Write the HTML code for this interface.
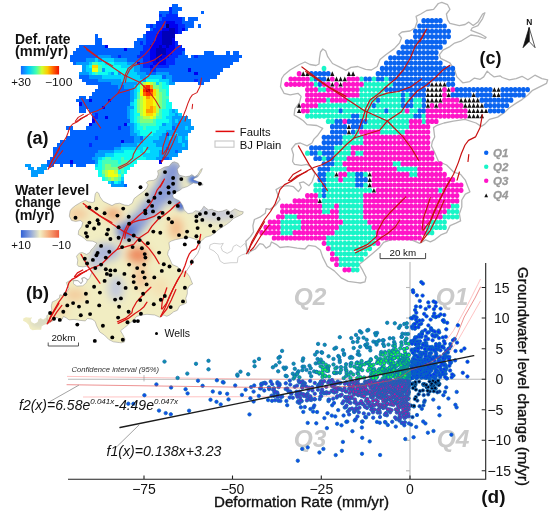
<!DOCTYPE html>
<html><head><meta charset="utf-8"><title>Figure</title>
<style>
html,body{margin:0;padding:0;background:#fff}
svg{display:block}
text{font-family:"Liberation Sans",sans-serif;fill:#111}
.b{font-weight:bold}
.i{font-style:italic}
.sb{stroke:#111;stroke-width:0.35px}
</style></head><body>
<svg width="550" height="515" viewBox="0 0 550 515">
<rect width="550" height="515" fill="#fff"/>
<defs>
<linearGradient id="gjet" x1="0" x2="1" y1="0" y2="0">
<stop offset="0" stop-color="#1464ff"/><stop offset="0.2" stop-color="#00c8ff"/><stop offset="0.4" stop-color="#40ffb0"/><stop offset="0.55" stop-color="#d0ff30"/><stop offset="0.7" stop-color="#ffc800"/><stop offset="0.85" stop-color="#ff6000"/><stop offset="1" stop-color="#f01000"/>
</linearGradient>
<linearGradient id="gcw" x1="0" x2="1" y1="0" y2="0">
<stop offset="0" stop-color="#2f5fd6"/><stop offset="0.25" stop-color="#8fa6dc"/><stop offset="0.5" stop-color="#f3efc4"/><stop offset="0.75" stop-color="#f6a878"/><stop offset="1" stop-color="#ee5a3c"/>
</linearGradient>
</defs>
<g shape-rendering="crispEdges">
<rect x="172" y="4" width="6" height="3" fill="#0063ff"/>
<rect x="169" y="7" width="3" height="4" fill="#002aff"/>
<rect x="172" y="7" width="10" height="4" fill="#0063ff"/>
<rect x="159" y="11" width="10" height="3" fill="#0063ff"/>
<rect x="169" y="11" width="3" height="3" fill="#002aff"/>
<rect x="172" y="11" width="6" height="3" fill="#0063ff"/>
<rect x="201" y="11" width="3" height="3" fill="#0063ff"/>
<rect x="159" y="14" width="3" height="3" fill="#002aff"/>
<rect x="162" y="14" width="4" height="3" fill="#0063ff"/>
<rect x="166" y="14" width="12" height="3" fill="#002aff"/>
<rect x="159" y="17" width="3" height="4" fill="#0063ff"/>
<rect x="162" y="17" width="20" height="4" fill="#002aff"/>
<rect x="182" y="17" width="3" height="4" fill="#0063ff"/>
<rect x="188" y="17" width="10" height="4" fill="#0063ff"/>
<rect x="156" y="21" width="10" height="3" fill="#002aff"/>
<rect x="166" y="21" width="9" height="3" fill="#0000f0"/>
<rect x="175" y="21" width="7" height="3" fill="#002aff"/>
<rect x="182" y="21" width="12" height="3" fill="#0063ff"/>
<rect x="146" y="24" width="4" height="4" fill="#0063ff"/>
<rect x="150" y="24" width="3" height="4" fill="#002aff"/>
<rect x="153" y="24" width="3" height="4" fill="#0063ff"/>
<rect x="156" y="24" width="10" height="4" fill="#002aff"/>
<rect x="166" y="24" width="3" height="4" fill="#00007f"/>
<rect x="169" y="24" width="9" height="4" fill="#0000f0"/>
<rect x="178" y="24" width="7" height="4" fill="#002aff"/>
<rect x="185" y="24" width="9" height="4" fill="#0063ff"/>
<rect x="198" y="24" width="3" height="4" fill="#0063ff"/>
<rect x="150" y="28" width="3" height="3" fill="#0063ff"/>
<rect x="153" y="28" width="9" height="3" fill="#002aff"/>
<rect x="162" y="28" width="7" height="3" fill="#0000f0"/>
<rect x="169" y="28" width="6" height="3" fill="#0000b8"/>
<rect x="175" y="28" width="3" height="3" fill="#0000f0"/>
<rect x="178" y="28" width="4" height="3" fill="#002aff"/>
<rect x="182" y="28" width="3" height="3" fill="#0000f0"/>
<rect x="185" y="28" width="3" height="3" fill="#0063ff"/>
<rect x="146" y="31" width="13" height="3" fill="#002aff"/>
<rect x="159" y="31" width="3" height="3" fill="#0000f0"/>
<rect x="162" y="31" width="13" height="3" fill="#0000b8"/>
<rect x="175" y="31" width="3" height="3" fill="#0000f0"/>
<rect x="178" y="31" width="4" height="3" fill="#002aff"/>
<rect x="95" y="34" width="3" height="4" fill="#0063ff"/>
<rect x="143" y="34" width="3" height="4" fill="#0063ff"/>
<rect x="146" y="34" width="10" height="4" fill="#002aff"/>
<rect x="156" y="34" width="6" height="4" fill="#0000f0"/>
<rect x="162" y="34" width="13" height="4" fill="#0000b8"/>
<rect x="95" y="38" width="7" height="3" fill="#0063ff"/>
<rect x="137" y="38" width="9" height="3" fill="#0063ff"/>
<rect x="146" y="38" width="10" height="3" fill="#002aff"/>
<rect x="156" y="38" width="6" height="3" fill="#0000f0"/>
<rect x="162" y="38" width="10" height="3" fill="#0000b8"/>
<rect x="172" y="38" width="3" height="3" fill="#0000f0"/>
<rect x="95" y="41" width="7" height="4" fill="#0063ff"/>
<rect x="134" y="41" width="6" height="4" fill="#0063ff"/>
<rect x="140" y="41" width="3" height="4" fill="#002aff"/>
<rect x="143" y="41" width="3" height="4" fill="#0063ff"/>
<rect x="146" y="41" width="7" height="4" fill="#002aff"/>
<rect x="153" y="41" width="9" height="4" fill="#0000f0"/>
<rect x="162" y="41" width="10" height="4" fill="#0000b8"/>
<rect x="172" y="41" width="3" height="4" fill="#0000f0"/>
<rect x="175" y="41" width="3" height="4" fill="#002aff"/>
<rect x="79" y="45" width="26" height="3" fill="#0063ff"/>
<rect x="105" y="45" width="3" height="3" fill="#0000f0"/>
<rect x="134" y="45" width="9" height="3" fill="#0063ff"/>
<rect x="143" y="45" width="7" height="3" fill="#002aff"/>
<rect x="150" y="45" width="9" height="3" fill="#0000f0"/>
<rect x="159" y="45" width="3" height="3" fill="#0000b8"/>
<rect x="162" y="45" width="4" height="3" fill="#0000f0"/>
<rect x="166" y="45" width="3" height="3" fill="#0000b8"/>
<rect x="169" y="45" width="6" height="3" fill="#0000f0"/>
<rect x="175" y="45" width="7" height="3" fill="#002aff"/>
<rect x="76" y="48" width="48" height="3" fill="#0063ff"/>
<rect x="124" y="48" width="3" height="3" fill="#0000f0"/>
<rect x="127" y="48" width="16" height="3" fill="#0063ff"/>
<rect x="143" y="48" width="7" height="3" fill="#002aff"/>
<rect x="150" y="48" width="6" height="3" fill="#0000f0"/>
<rect x="156" y="48" width="10" height="3" fill="#0000b8"/>
<rect x="166" y="48" width="9" height="3" fill="#0000f0"/>
<rect x="175" y="48" width="10" height="3" fill="#002aff"/>
<rect x="73" y="51" width="67" height="4" fill="#0063ff"/>
<rect x="140" y="51" width="10" height="4" fill="#002aff"/>
<rect x="150" y="51" width="6" height="4" fill="#0000f0"/>
<rect x="156" y="51" width="10" height="4" fill="#0000b8"/>
<rect x="166" y="51" width="6" height="4" fill="#0000f0"/>
<rect x="172" y="51" width="10" height="4" fill="#002aff"/>
<rect x="182" y="51" width="3" height="4" fill="#0063ff"/>
<rect x="204" y="51" width="10" height="4" fill="#0063ff"/>
<rect x="226" y="51" width="4" height="4" fill="#0063ff"/>
<rect x="233" y="51" width="6" height="4" fill="#0063ff"/>
<rect x="70" y="55" width="28" height="3" fill="#0063ff"/>
<rect x="98" y="55" width="13" height="3" fill="#009bff"/>
<rect x="111" y="55" width="7" height="3" fill="#0063ff"/>
<rect x="118" y="55" width="3" height="3" fill="#002aff"/>
<rect x="121" y="55" width="16" height="3" fill="#0063ff"/>
<rect x="137" y="55" width="13" height="3" fill="#002aff"/>
<rect x="150" y="55" width="6" height="3" fill="#0000f0"/>
<rect x="156" y="55" width="6" height="3" fill="#0000b8"/>
<rect x="162" y="55" width="7" height="3" fill="#0000f0"/>
<rect x="169" y="55" width="9" height="3" fill="#002aff"/>
<rect x="178" y="55" width="10" height="3" fill="#0063ff"/>
<rect x="191" y="55" width="3" height="3" fill="#0063ff"/>
<rect x="194" y="55" width="4" height="3" fill="#002aff"/>
<rect x="198" y="55" width="44" height="3" fill="#0063ff"/>
<rect x="70" y="58" width="16" height="4" fill="#0063ff"/>
<rect x="86" y="58" width="9" height="4" fill="#009bff"/>
<rect x="95" y="58" width="3" height="4" fill="#00d4ff"/>
<rect x="98" y="58" width="4" height="4" fill="#009bff"/>
<rect x="102" y="58" width="12" height="4" fill="#00d4ff"/>
<rect x="114" y="58" width="13" height="4" fill="#009bff"/>
<rect x="127" y="58" width="16" height="4" fill="#0063ff"/>
<rect x="143" y="58" width="7" height="4" fill="#002aff"/>
<rect x="150" y="58" width="6" height="4" fill="#0000f0"/>
<rect x="156" y="58" width="3" height="4" fill="#0000b8"/>
<rect x="159" y="58" width="7" height="4" fill="#0000f0"/>
<rect x="166" y="58" width="9" height="4" fill="#002aff"/>
<rect x="175" y="58" width="64" height="4" fill="#0063ff"/>
<rect x="73" y="62" width="3" height="3" fill="#0063ff"/>
<rect x="76" y="62" width="13" height="3" fill="#009bff"/>
<rect x="89" y="62" width="3" height="3" fill="#00d4ff"/>
<rect x="92" y="62" width="6" height="3" fill="#46ffb8"/>
<rect x="98" y="62" width="7" height="3" fill="#0efff0"/>
<rect x="105" y="62" width="3" height="3" fill="#00d4ff"/>
<rect x="108" y="62" width="6" height="3" fill="#0efff0"/>
<rect x="114" y="62" width="13" height="3" fill="#00d4ff"/>
<rect x="127" y="62" width="10" height="3" fill="#009bff"/>
<rect x="137" y="62" width="3" height="3" fill="#0000f0"/>
<rect x="140" y="62" width="3" height="3" fill="#0063ff"/>
<rect x="143" y="62" width="10" height="3" fill="#002aff"/>
<rect x="153" y="62" width="13" height="3" fill="#0000f0"/>
<rect x="166" y="62" width="9" height="3" fill="#002aff"/>
<rect x="175" y="62" width="58" height="3" fill="#0063ff"/>
<rect x="82" y="65" width="4" height="3" fill="#009bff"/>
<rect x="86" y="65" width="3" height="3" fill="#00d4ff"/>
<rect x="89" y="65" width="3" height="3" fill="#0efff0"/>
<rect x="92" y="65" width="6" height="3" fill="#ffd400"/>
<rect x="98" y="65" width="4" height="3" fill="#46ffb8"/>
<rect x="102" y="65" width="19" height="3" fill="#0efff0"/>
<rect x="121" y="65" width="13" height="3" fill="#00d4ff"/>
<rect x="134" y="65" width="6" height="3" fill="#009bff"/>
<rect x="140" y="65" width="3" height="3" fill="#0063ff"/>
<rect x="143" y="65" width="7" height="3" fill="#002aff"/>
<rect x="150" y="65" width="3" height="3" fill="#0000f0"/>
<rect x="153" y="65" width="16" height="3" fill="#002aff"/>
<rect x="169" y="65" width="61" height="3" fill="#0063ff"/>
<rect x="82" y="68" width="4" height="4" fill="#009bff"/>
<rect x="86" y="68" width="6" height="4" fill="#00d4ff"/>
<rect x="92" y="68" width="6" height="4" fill="#f0ff0e"/>
<rect x="98" y="68" width="4" height="4" fill="#46ffb8"/>
<rect x="102" y="68" width="3" height="4" fill="#009bff"/>
<rect x="105" y="68" width="22" height="4" fill="#0efff0"/>
<rect x="127" y="68" width="7" height="4" fill="#00d4ff"/>
<rect x="134" y="68" width="6" height="4" fill="#009bff"/>
<rect x="140" y="68" width="10" height="4" fill="#0063ff"/>
<rect x="150" y="68" width="6" height="4" fill="#002aff"/>
<rect x="156" y="68" width="32" height="4" fill="#0063ff"/>
<rect x="188" y="68" width="3" height="4" fill="#0000f0"/>
<rect x="191" y="68" width="32" height="4" fill="#0063ff"/>
<rect x="79" y="72" width="10" height="3" fill="#009bff"/>
<rect x="89" y="72" width="3" height="3" fill="#00d4ff"/>
<rect x="92" y="72" width="3" height="3" fill="#0efff0"/>
<rect x="95" y="72" width="3" height="3" fill="#46ffb8"/>
<rect x="98" y="72" width="10" height="3" fill="#0efff0"/>
<rect x="108" y="72" width="3" height="3" fill="#00d4ff"/>
<rect x="111" y="72" width="3" height="3" fill="#009bff"/>
<rect x="114" y="72" width="4" height="3" fill="#0efff0"/>
<rect x="118" y="72" width="3" height="3" fill="#009bff"/>
<rect x="121" y="72" width="6" height="3" fill="#0efff0"/>
<rect x="127" y="72" width="10" height="3" fill="#00d4ff"/>
<rect x="137" y="72" width="9" height="3" fill="#009bff"/>
<rect x="146" y="72" width="10" height="3" fill="#0063ff"/>
<rect x="156" y="72" width="13" height="3" fill="#009bff"/>
<rect x="169" y="72" width="25" height="3" fill="#0063ff"/>
<rect x="194" y="72" width="4" height="3" fill="#0000f0"/>
<rect x="198" y="72" width="22" height="3" fill="#0063ff"/>
<rect x="79" y="75" width="10" height="4" fill="#0063ff"/>
<rect x="89" y="75" width="13" height="4" fill="#009bff"/>
<rect x="102" y="75" width="38" height="4" fill="#00d4ff"/>
<rect x="140" y="75" width="6" height="4" fill="#009bff"/>
<rect x="146" y="75" width="16" height="4" fill="#00d4ff"/>
<rect x="162" y="75" width="4" height="4" fill="#0063ff"/>
<rect x="166" y="75" width="6" height="4" fill="#009bff"/>
<rect x="172" y="75" width="45" height="4" fill="#0063ff"/>
<rect x="82" y="79" width="16" height="3" fill="#0063ff"/>
<rect x="98" y="79" width="23" height="3" fill="#009bff"/>
<rect x="121" y="79" width="22" height="3" fill="#00d4ff"/>
<rect x="143" y="79" width="3" height="3" fill="#009bff"/>
<rect x="146" y="79" width="13" height="3" fill="#0efff0"/>
<rect x="159" y="79" width="10" height="3" fill="#00d4ff"/>
<rect x="169" y="79" width="3" height="3" fill="#009bff"/>
<rect x="172" y="79" width="22" height="3" fill="#0063ff"/>
<rect x="194" y="79" width="4" height="3" fill="#002aff"/>
<rect x="198" y="79" width="12" height="3" fill="#0063ff"/>
<rect x="86" y="82" width="25" height="3" fill="#0063ff"/>
<rect x="111" y="82" width="26" height="3" fill="#009bff"/>
<rect x="137" y="82" width="3" height="3" fill="#00d4ff"/>
<rect x="140" y="82" width="3" height="3" fill="#46ffb8"/>
<rect x="143" y="82" width="3" height="3" fill="#b8ff46"/>
<rect x="146" y="82" width="4" height="3" fill="#f0ff0e"/>
<rect x="150" y="82" width="3" height="3" fill="#b8ff46"/>
<rect x="153" y="82" width="3" height="3" fill="#7fff7f"/>
<rect x="156" y="82" width="3" height="3" fill="#00d4ff"/>
<rect x="159" y="82" width="3" height="3" fill="#46ffb8"/>
<rect x="162" y="82" width="4" height="3" fill="#0efff0"/>
<rect x="166" y="82" width="3" height="3" fill="#00d4ff"/>
<rect x="169" y="82" width="6" height="3" fill="#009bff"/>
<rect x="198" y="82" width="6" height="3" fill="#0063ff"/>
<rect x="98" y="85" width="20" height="4" fill="#0063ff"/>
<rect x="118" y="85" width="3" height="4" fill="#009bff"/>
<rect x="121" y="85" width="3" height="4" fill="#0063ff"/>
<rect x="124" y="85" width="10" height="4" fill="#009bff"/>
<rect x="134" y="85" width="3" height="4" fill="#00d4ff"/>
<rect x="137" y="85" width="3" height="4" fill="#0efff0"/>
<rect x="140" y="85" width="3" height="4" fill="#b8ff46"/>
<rect x="143" y="85" width="3" height="4" fill="#ff6300"/>
<rect x="146" y="85" width="4" height="4" fill="#ff2a00"/>
<rect x="150" y="85" width="3" height="4" fill="#ff9b00"/>
<rect x="153" y="85" width="6" height="4" fill="#7fff7f"/>
<rect x="159" y="85" width="3" height="4" fill="#46ffb8"/>
<rect x="162" y="85" width="7" height="4" fill="#0efff0"/>
<rect x="95" y="89" width="35" height="3" fill="#0063ff"/>
<rect x="130" y="89" width="4" height="3" fill="#009bff"/>
<rect x="134" y="89" width="3" height="3" fill="#00d4ff"/>
<rect x="137" y="89" width="3" height="3" fill="#0efff0"/>
<rect x="140" y="89" width="3" height="3" fill="#f0ff0e"/>
<rect x="143" y="89" width="3" height="3" fill="#ff2a00"/>
<rect x="146" y="89" width="4" height="3" fill="#b80000"/>
<rect x="150" y="89" width="3" height="3" fill="#ff2a00"/>
<rect x="153" y="89" width="3" height="3" fill="#ffd400"/>
<rect x="156" y="89" width="3" height="3" fill="#b8ff46"/>
<rect x="159" y="89" width="7" height="3" fill="#46ffb8"/>
<rect x="166" y="89" width="3" height="3" fill="#0efff0"/>
<rect x="92" y="92" width="38" height="4" fill="#0063ff"/>
<rect x="130" y="92" width="4" height="4" fill="#009bff"/>
<rect x="134" y="92" width="3" height="4" fill="#00d4ff"/>
<rect x="137" y="92" width="3" height="4" fill="#46ffb8"/>
<rect x="140" y="92" width="3" height="4" fill="#f0ff0e"/>
<rect x="143" y="92" width="3" height="4" fill="#ff6300"/>
<rect x="146" y="92" width="4" height="4" fill="#ff2a00"/>
<rect x="150" y="92" width="3" height="4" fill="#ff6300"/>
<rect x="153" y="92" width="3" height="4" fill="#ffd400"/>
<rect x="156" y="92" width="3" height="4" fill="#b8ff46"/>
<rect x="159" y="92" width="3" height="4" fill="#7fff7f"/>
<rect x="162" y="92" width="4" height="4" fill="#46ffb8"/>
<rect x="166" y="92" width="3" height="4" fill="#0efff0"/>
<rect x="79" y="96" width="7" height="3" fill="#0063ff"/>
<rect x="89" y="96" width="41" height="3" fill="#0063ff"/>
<rect x="130" y="96" width="4" height="3" fill="#009bff"/>
<rect x="134" y="96" width="3" height="3" fill="#00d4ff"/>
<rect x="137" y="96" width="3" height="3" fill="#46ffb8"/>
<rect x="140" y="96" width="3" height="3" fill="#b8ff46"/>
<rect x="143" y="96" width="3" height="3" fill="#f0ff0e"/>
<rect x="146" y="96" width="4" height="3" fill="#ff9b00"/>
<rect x="150" y="96" width="3" height="3" fill="#ffd400"/>
<rect x="153" y="96" width="3" height="3" fill="#f0ff0e"/>
<rect x="156" y="96" width="3" height="3" fill="#b8ff46"/>
<rect x="159" y="96" width="3" height="3" fill="#7fff7f"/>
<rect x="162" y="96" width="7" height="3" fill="#46ffb8"/>
<rect x="76" y="99" width="13" height="3" fill="#0063ff"/>
<rect x="89" y="99" width="3" height="3" fill="#0000f0"/>
<rect x="92" y="99" width="16" height="3" fill="#0063ff"/>
<rect x="108" y="99" width="3" height="3" fill="#0000f0"/>
<rect x="111" y="99" width="19" height="3" fill="#0063ff"/>
<rect x="130" y="99" width="4" height="3" fill="#009bff"/>
<rect x="134" y="99" width="3" height="3" fill="#0efff0"/>
<rect x="137" y="99" width="3" height="3" fill="#7fff7f"/>
<rect x="140" y="99" width="3" height="3" fill="#b8ff46"/>
<rect x="143" y="99" width="3" height="3" fill="#f0ff0e"/>
<rect x="146" y="99" width="7" height="3" fill="#ffd400"/>
<rect x="153" y="99" width="3" height="3" fill="#f0ff0e"/>
<rect x="156" y="99" width="3" height="3" fill="#b8ff46"/>
<rect x="159" y="99" width="3" height="3" fill="#7fff7f"/>
<rect x="162" y="99" width="4" height="3" fill="#46ffb8"/>
<rect x="166" y="99" width="3" height="3" fill="#0efff0"/>
<rect x="79" y="102" width="3" height="4" fill="#0000f0"/>
<rect x="82" y="102" width="48" height="4" fill="#0063ff"/>
<rect x="130" y="102" width="4" height="4" fill="#00d4ff"/>
<rect x="134" y="102" width="3" height="4" fill="#0efff0"/>
<rect x="137" y="102" width="3" height="4" fill="#7fff7f"/>
<rect x="140" y="102" width="3" height="4" fill="#b8ff46"/>
<rect x="143" y="102" width="3" height="4" fill="#f0ff0e"/>
<rect x="146" y="102" width="7" height="4" fill="#ffd400"/>
<rect x="153" y="102" width="3" height="4" fill="#f0ff0e"/>
<rect x="156" y="102" width="3" height="4" fill="#b8ff46"/>
<rect x="159" y="102" width="3" height="4" fill="#7fff7f"/>
<rect x="162" y="102" width="4" height="4" fill="#46ffb8"/>
<rect x="166" y="102" width="6" height="4" fill="#0efff0"/>
<rect x="79" y="106" width="23" height="3" fill="#0063ff"/>
<rect x="102" y="106" width="3" height="3" fill="#0000f0"/>
<rect x="105" y="106" width="22" height="3" fill="#0063ff"/>
<rect x="127" y="106" width="7" height="3" fill="#009bff"/>
<rect x="134" y="106" width="3" height="3" fill="#0efff0"/>
<rect x="137" y="106" width="3" height="3" fill="#7fff7f"/>
<rect x="140" y="106" width="3" height="3" fill="#b8ff46"/>
<rect x="143" y="106" width="3" height="3" fill="#f0ff0e"/>
<rect x="146" y="106" width="4" height="3" fill="#ffd400"/>
<rect x="150" y="106" width="3" height="3" fill="#ff9b00"/>
<rect x="153" y="106" width="3" height="3" fill="#ffd400"/>
<rect x="156" y="106" width="3" height="3" fill="#b8ff46"/>
<rect x="159" y="106" width="3" height="3" fill="#7fff7f"/>
<rect x="162" y="106" width="4" height="3" fill="#46ffb8"/>
<rect x="166" y="106" width="6" height="3" fill="#0efff0"/>
<rect x="79" y="109" width="7" height="4" fill="#0063ff"/>
<rect x="89" y="109" width="38" height="4" fill="#0063ff"/>
<rect x="127" y="109" width="3" height="4" fill="#009bff"/>
<rect x="130" y="109" width="4" height="4" fill="#00d4ff"/>
<rect x="134" y="109" width="3" height="4" fill="#0efff0"/>
<rect x="137" y="109" width="3" height="4" fill="#7fff7f"/>
<rect x="140" y="109" width="3" height="4" fill="#b8ff46"/>
<rect x="143" y="109" width="3" height="4" fill="#f0ff0e"/>
<rect x="146" y="109" width="7" height="4" fill="#ff9b00"/>
<rect x="153" y="109" width="3" height="4" fill="#ffd400"/>
<rect x="156" y="109" width="3" height="4" fill="#b8ff46"/>
<rect x="159" y="109" width="3" height="4" fill="#46ffb8"/>
<rect x="162" y="109" width="7" height="4" fill="#0efff0"/>
<rect x="169" y="109" width="3" height="4" fill="#00d4ff"/>
<rect x="172" y="109" width="3" height="4" fill="#009bff"/>
<rect x="175" y="109" width="3" height="4" fill="#00d4ff"/>
<rect x="92" y="113" width="3" height="3" fill="#0063ff"/>
<rect x="95" y="113" width="3" height="3" fill="#002aff"/>
<rect x="98" y="113" width="29" height="3" fill="#0063ff"/>
<rect x="127" y="113" width="3" height="3" fill="#009bff"/>
<rect x="130" y="113" width="4" height="3" fill="#00d4ff"/>
<rect x="134" y="113" width="6" height="3" fill="#0efff0"/>
<rect x="140" y="113" width="3" height="3" fill="#b8ff46"/>
<rect x="143" y="113" width="3" height="3" fill="#f0ff0e"/>
<rect x="146" y="113" width="7" height="3" fill="#ffd400"/>
<rect x="153" y="113" width="3" height="3" fill="#f0ff0e"/>
<rect x="156" y="113" width="3" height="3" fill="#7fff7f"/>
<rect x="159" y="113" width="3" height="3" fill="#46ffb8"/>
<rect x="162" y="113" width="7" height="3" fill="#0efff0"/>
<rect x="169" y="113" width="6" height="3" fill="#00d4ff"/>
<rect x="175" y="113" width="3" height="3" fill="#009bff"/>
<rect x="178" y="113" width="4" height="3" fill="#00d4ff"/>
<rect x="92" y="116" width="6" height="3" fill="#002aff"/>
<rect x="98" y="116" width="7" height="3" fill="#0063ff"/>
<rect x="105" y="116" width="3" height="3" fill="#0000f0"/>
<rect x="108" y="116" width="19" height="3" fill="#0063ff"/>
<rect x="127" y="116" width="3" height="3" fill="#009bff"/>
<rect x="130" y="116" width="4" height="3" fill="#00d4ff"/>
<rect x="134" y="116" width="3" height="3" fill="#0efff0"/>
<rect x="137" y="116" width="3" height="3" fill="#46ffb8"/>
<rect x="140" y="116" width="3" height="3" fill="#7fff7f"/>
<rect x="143" y="116" width="7" height="3" fill="#b8ff46"/>
<rect x="150" y="116" width="3" height="3" fill="#f0ff0e"/>
<rect x="153" y="116" width="3" height="3" fill="#b8ff46"/>
<rect x="156" y="116" width="6" height="3" fill="#46ffb8"/>
<rect x="162" y="116" width="4" height="3" fill="#0efff0"/>
<rect x="166" y="116" width="6" height="3" fill="#00d4ff"/>
<rect x="172" y="116" width="16" height="3" fill="#009bff"/>
<rect x="92" y="119" width="3" height="4" fill="#0000f0"/>
<rect x="95" y="119" width="35" height="4" fill="#0063ff"/>
<rect x="130" y="119" width="4" height="4" fill="#00d4ff"/>
<rect x="134" y="119" width="3" height="4" fill="#0efff0"/>
<rect x="137" y="119" width="3" height="4" fill="#46ffb8"/>
<rect x="140" y="119" width="13" height="4" fill="#7fff7f"/>
<rect x="153" y="119" width="3" height="4" fill="#46ffb8"/>
<rect x="156" y="119" width="13" height="4" fill="#0efff0"/>
<rect x="169" y="119" width="3" height="4" fill="#00d4ff"/>
<rect x="172" y="119" width="3" height="4" fill="#009bff"/>
<rect x="175" y="119" width="3" height="4" fill="#00d4ff"/>
<rect x="178" y="119" width="13" height="4" fill="#009bff"/>
<rect x="89" y="123" width="3" height="3" fill="#0000f0"/>
<rect x="92" y="123" width="32" height="3" fill="#0063ff"/>
<rect x="124" y="123" width="3" height="3" fill="#0000f0"/>
<rect x="127" y="123" width="7" height="3" fill="#009bff"/>
<rect x="134" y="123" width="3" height="3" fill="#00d4ff"/>
<rect x="137" y="123" width="3" height="3" fill="#0efff0"/>
<rect x="140" y="123" width="16" height="3" fill="#46ffb8"/>
<rect x="156" y="123" width="6" height="3" fill="#0efff0"/>
<rect x="162" y="123" width="4" height="3" fill="#009bff"/>
<rect x="166" y="123" width="6" height="3" fill="#00d4ff"/>
<rect x="172" y="123" width="19" height="3" fill="#009bff"/>
<rect x="66" y="126" width="7" height="4" fill="#0063ff"/>
<rect x="86" y="126" width="32" height="4" fill="#0063ff"/>
<rect x="118" y="126" width="3" height="4" fill="#002aff"/>
<rect x="121" y="126" width="9" height="4" fill="#0063ff"/>
<rect x="130" y="126" width="4" height="4" fill="#009bff"/>
<rect x="134" y="126" width="3" height="4" fill="#00d4ff"/>
<rect x="137" y="126" width="6" height="4" fill="#0efff0"/>
<rect x="143" y="126" width="3" height="4" fill="#46ffb8"/>
<rect x="146" y="126" width="13" height="4" fill="#0efff0"/>
<rect x="159" y="126" width="13" height="4" fill="#00d4ff"/>
<rect x="172" y="126" width="3" height="4" fill="#0063ff"/>
<rect x="175" y="126" width="10" height="4" fill="#009bff"/>
<rect x="185" y="126" width="3" height="4" fill="#00d4ff"/>
<rect x="188" y="126" width="6" height="4" fill="#009bff"/>
<rect x="70" y="130" width="60" height="3" fill="#0063ff"/>
<rect x="130" y="130" width="4" height="3" fill="#009bff"/>
<rect x="134" y="130" width="6" height="3" fill="#00d4ff"/>
<rect x="140" y="130" width="16" height="3" fill="#0efff0"/>
<rect x="156" y="130" width="10" height="3" fill="#00d4ff"/>
<rect x="166" y="130" width="25" height="3" fill="#009bff"/>
<rect x="70" y="133" width="60" height="3" fill="#0063ff"/>
<rect x="130" y="133" width="7" height="3" fill="#009bff"/>
<rect x="137" y="133" width="3" height="3" fill="#00d4ff"/>
<rect x="140" y="133" width="13" height="3" fill="#0efff0"/>
<rect x="153" y="133" width="9" height="3" fill="#00d4ff"/>
<rect x="162" y="133" width="4" height="3" fill="#009bff"/>
<rect x="166" y="133" width="3" height="3" fill="#002aff"/>
<rect x="169" y="133" width="6" height="3" fill="#009bff"/>
<rect x="175" y="133" width="3" height="3" fill="#00d4ff"/>
<rect x="178" y="133" width="10" height="3" fill="#009bff"/>
<rect x="66" y="136" width="29" height="4" fill="#0063ff"/>
<rect x="95" y="136" width="3" height="4" fill="#002aff"/>
<rect x="98" y="136" width="36" height="4" fill="#0063ff"/>
<rect x="134" y="136" width="6" height="4" fill="#009bff"/>
<rect x="140" y="136" width="3" height="4" fill="#0063ff"/>
<rect x="143" y="136" width="16" height="4" fill="#00d4ff"/>
<rect x="159" y="136" width="10" height="4" fill="#009bff"/>
<rect x="169" y="136" width="3" height="4" fill="#00d4ff"/>
<rect x="172" y="136" width="6" height="4" fill="#009bff"/>
<rect x="178" y="136" width="4" height="4" fill="#00d4ff"/>
<rect x="182" y="136" width="3" height="4" fill="#009bff"/>
<rect x="185" y="136" width="3" height="4" fill="#00d4ff"/>
<rect x="60" y="140" width="61" height="3" fill="#0063ff"/>
<rect x="121" y="140" width="3" height="3" fill="#0000f0"/>
<rect x="124" y="140" width="10" height="3" fill="#0063ff"/>
<rect x="134" y="140" width="9" height="3" fill="#009bff"/>
<rect x="143" y="140" width="10" height="3" fill="#00d4ff"/>
<rect x="153" y="140" width="25" height="3" fill="#009bff"/>
<rect x="178" y="140" width="4" height="3" fill="#00d4ff"/>
<rect x="182" y="140" width="6" height="3" fill="#009bff"/>
<rect x="57" y="143" width="32" height="4" fill="#0063ff"/>
<rect x="89" y="143" width="3" height="4" fill="#002aff"/>
<rect x="92" y="143" width="29" height="4" fill="#0063ff"/>
<rect x="121" y="143" width="16" height="4" fill="#009bff"/>
<rect x="137" y="143" width="19" height="4" fill="#00d4ff"/>
<rect x="156" y="143" width="26" height="4" fill="#009bff"/>
<rect x="182" y="143" width="3" height="4" fill="#00d4ff"/>
<rect x="185" y="143" width="3" height="4" fill="#009bff"/>
<rect x="53" y="147" width="61" height="3" fill="#0063ff"/>
<rect x="114" y="147" width="7" height="3" fill="#009bff"/>
<rect x="121" y="147" width="22" height="3" fill="#00d4ff"/>
<rect x="143" y="147" width="3" height="3" fill="#0efff0"/>
<rect x="146" y="147" width="16" height="3" fill="#00d4ff"/>
<rect x="162" y="147" width="4" height="3" fill="#009bff"/>
<rect x="166" y="147" width="3" height="3" fill="#0063ff"/>
<rect x="169" y="147" width="19" height="3" fill="#009bff"/>
<rect x="53" y="150" width="45" height="3" fill="#0063ff"/>
<rect x="98" y="150" width="16" height="3" fill="#009bff"/>
<rect x="114" y="150" width="10" height="3" fill="#00d4ff"/>
<rect x="124" y="150" width="16" height="3" fill="#0efff0"/>
<rect x="140" y="150" width="3" height="3" fill="#00d4ff"/>
<rect x="143" y="150" width="7" height="3" fill="#0efff0"/>
<rect x="150" y="150" width="9" height="3" fill="#00d4ff"/>
<rect x="159" y="150" width="16" height="3" fill="#009bff"/>
<rect x="175" y="150" width="3" height="3" fill="#0063ff"/>
<rect x="178" y="150" width="4" height="3" fill="#009bff"/>
<rect x="53" y="153" width="42" height="4" fill="#0063ff"/>
<rect x="95" y="153" width="10" height="4" fill="#009bff"/>
<rect x="105" y="153" width="9" height="4" fill="#00d4ff"/>
<rect x="114" y="153" width="29" height="4" fill="#0efff0"/>
<rect x="143" y="153" width="16" height="4" fill="#00d4ff"/>
<rect x="159" y="153" width="19" height="4" fill="#009bff"/>
<rect x="50" y="157" width="42" height="3" fill="#0063ff"/>
<rect x="92" y="157" width="6" height="3" fill="#009bff"/>
<rect x="98" y="157" width="4" height="3" fill="#00d4ff"/>
<rect x="102" y="157" width="3" height="3" fill="#0efff0"/>
<rect x="105" y="157" width="6" height="3" fill="#46ffb8"/>
<rect x="111" y="157" width="10" height="3" fill="#0efff0"/>
<rect x="121" y="157" width="3" height="3" fill="#46ffb8"/>
<rect x="124" y="157" width="22" height="3" fill="#0efff0"/>
<rect x="146" y="157" width="10" height="3" fill="#00d4ff"/>
<rect x="156" y="157" width="6" height="3" fill="#009bff"/>
<rect x="162" y="157" width="7" height="3" fill="#0063ff"/>
<rect x="169" y="157" width="3" height="3" fill="#009bff"/>
<rect x="47" y="160" width="23" height="4" fill="#0063ff"/>
<rect x="70" y="160" width="3" height="4" fill="#0000f0"/>
<rect x="73" y="160" width="22" height="4" fill="#0063ff"/>
<rect x="95" y="160" width="3" height="4" fill="#009bff"/>
<rect x="98" y="160" width="4" height="4" fill="#0efff0"/>
<rect x="102" y="160" width="16" height="4" fill="#46ffb8"/>
<rect x="118" y="160" width="3" height="4" fill="#0efff0"/>
<rect x="121" y="160" width="9" height="4" fill="#46ffb8"/>
<rect x="130" y="160" width="7" height="4" fill="#0efff0"/>
<rect x="159" y="160" width="3" height="4" fill="#0000f0"/>
<rect x="25" y="164" width="6" height="3" fill="#009bff"/>
<rect x="41" y="164" width="6" height="3" fill="#009bff"/>
<rect x="47" y="164" width="7" height="3" fill="#0063ff"/>
<rect x="60" y="164" width="3" height="3" fill="#0063ff"/>
<rect x="70" y="164" width="3" height="3" fill="#0063ff"/>
<rect x="76" y="164" width="10" height="3" fill="#0063ff"/>
<rect x="95" y="164" width="3" height="3" fill="#00d4ff"/>
<rect x="98" y="164" width="4" height="3" fill="#0efff0"/>
<rect x="102" y="164" width="3" height="3" fill="#46ffb8"/>
<rect x="105" y="164" width="6" height="3" fill="#7fff7f"/>
<rect x="111" y="164" width="16" height="3" fill="#46ffb8"/>
<rect x="127" y="164" width="7" height="3" fill="#0efff0"/>
<rect x="28" y="167" width="6" height="3" fill="#009bff"/>
<rect x="37" y="167" width="10" height="3" fill="#009bff"/>
<rect x="95" y="167" width="7" height="3" fill="#0efff0"/>
<rect x="102" y="167" width="3" height="3" fill="#46ffb8"/>
<rect x="105" y="167" width="13" height="3" fill="#7fff7f"/>
<rect x="118" y="167" width="6" height="3" fill="#46ffb8"/>
<rect x="124" y="167" width="6" height="3" fill="#0efff0"/>
<rect x="31" y="170" width="13" height="4" fill="#009bff"/>
<rect x="98" y="170" width="4" height="4" fill="#0efff0"/>
<rect x="102" y="170" width="3" height="4" fill="#7fff7f"/>
<rect x="105" y="170" width="3" height="4" fill="#b8ff46"/>
<rect x="108" y="170" width="6" height="4" fill="#f0ff0e"/>
<rect x="114" y="170" width="4" height="4" fill="#b8ff46"/>
<rect x="118" y="170" width="3" height="4" fill="#0efff0"/>
<rect x="121" y="170" width="3" height="4" fill="#46ffb8"/>
<rect x="124" y="170" width="3" height="4" fill="#0efff0"/>
<rect x="31" y="174" width="7" height="3" fill="#009bff"/>
<rect x="98" y="174" width="4" height="3" fill="#0efff0"/>
<rect x="102" y="174" width="3" height="3" fill="#46ffb8"/>
<rect x="105" y="174" width="3" height="3" fill="#b8ff46"/>
<rect x="108" y="174" width="10" height="3" fill="#f0ff0e"/>
<rect x="118" y="174" width="3" height="3" fill="#7fff7f"/>
<rect x="121" y="174" width="3" height="3" fill="#0efff0"/>
<rect x="102" y="177" width="3" height="4" fill="#0efff0"/>
<rect x="105" y="177" width="3" height="4" fill="#46ffb8"/>
<rect x="108" y="177" width="3" height="4" fill="#7fff7f"/>
<rect x="111" y="177" width="3" height="4" fill="#b8ff46"/>
<rect x="114" y="177" width="4" height="4" fill="#7fff7f"/>
<rect x="118" y="177" width="3" height="4" fill="#46ffb8"/>
<rect x="121" y="177" width="3" height="4" fill="#00d4ff"/>
<rect x="108" y="181" width="3" height="3" fill="#00d4ff"/>
<rect x="111" y="181" width="3" height="3" fill="#009bff"/>
<rect x="114" y="181" width="4" height="3" fill="#0efff0"/>
<rect x="118" y="181" width="3" height="3" fill="#00d4ff"/>
<rect x="121" y="181" width="3" height="3" fill="#009bff"/>
<rect x="111" y="184" width="13" height="3" fill="#009bff"/>
<rect x="124" y="184" width="3" height="3" fill="#0063ff"/>
</g>
<g fill="none" stroke="#d41a1a" stroke-width="1.05" stroke-linejoin="round" stroke-linecap="round">
<polyline points="84,46.5 102.3,60.4 124.4,75.2 139.6,82.2 149.7,92.4 155.5,100.3 160,108"/>
<polyline points="86.5,49.5 99,58.4 112.7,65.9"/>
<polyline points="165.2,21.6 162.2,27 157.6,33.2 154.6,40.9 150,48.6 145.2,54.2 139.4,59.1 134.5,63.7 128.3,68.3 125.5,74.2 123.8,80.2 120.9,88.1 117.9,93.3 113.3,97.3 108.8,101.9 102.7,108 96.6,111.1 92.1,112.6 87.5,114.9 81.4,118.8 76.9,122 72.7,124 69.7,127.3 68.1,132.5 66.5,136.8 63.5,141.8 59.6,147 55.6,154.2 51.5,161.3 49.5,166.5 48,169.5"/>
<polyline points="163.8,24.2 160.9,29.8"/>
<polyline points="83.4,114.4 78.2,117.4 75.3,121.3 76.6,121.7 80.8,118.4 87.3,115.4"/>
<polyline points="62.7,150.6 57.6,157.2 52.5,165.5 50.5,167.5"/>
<polyline points="59.6,148.5 54.6,157.2 50.5,164.4 49,168"/>
<polyline points="161.8,54.6 154.8,59.7 146.7,62.7 139.6,63.8 133.5,65.8 129.5,69.9 126.4,76 125.5,82.2"/>
<polyline points="180.3,45.5 175.8,48.6 171.3,53.2 165.2,58.4 159.1,62.4 152.7,69.6 148.7,76 139.6,82.2 134.5,88.3 124.4,91.4 117.9,93.3"/>
<polyline points="81.7,98.5 88.6,110.7 95,119.7 100.7,128"/>
<polyline points="201.5,78.1 200,86.5 197,92.6 192.4,94.9 190.2,98 187.9,103.4 185.8,109.5 182.7,117.3 178.2,125 173.6,134.2 169.1,144.8 166.1,152.6 161.5,161.8"/>
<polyline points="192.6,104.2 192.1,108.8"/>
<polyline points="186.5,115.7 185,121.1"/>
<polyline points="180.5,121.1 175.2,131.1 170.6,140.3 167.6,148 163,154.1"/>
<polyline points="167.6,132.6 165.2,139.8 163,146.4 162.2,154.1"/>
<polyline points="176.6,134.4 172.1,145.1 167.5,154.3 161.5,162"/>
<polyline points="151.6,132.1 146.3,137.5 141.7,142.1 137.2,147.4 133.4,154.3 132.6,158.2 126.6,163.6 118.2,167.4"/>
<polyline points="147.8,147.4 144.8,152 140.2,155.9 135.7,158.9 129.6,163.6 118.9,169"/>
</g>
<clipPath id="clipB"><polygon points="70.1,210.9 71.6,208.7 75.5,205.5 81.7,201.9 85.3,200.3 88.5,201.9 92.4,202.5 94.4,201.6 94.7,197.7 95.3,193.8 96.8,191.9 98.7,193.2 100,196.9 103.2,201.3 108.2,203.8 112,205.6 115.2,203.8 119.6,203.2 124.7,205.1 128.5,205.5 132.3,203.2 134.1,198.6 137.9,195.6 143.4,191.6 146.8,188 148.1,184.8 146.3,182.6 148.4,180.9 153.6,180.3 156.9,178.4 158.3,174.2 157.6,170.8 160.6,169.3 164.4,167.1 169,166.3 172,162.6 174.3,161.8 178.1,163.3 179.6,166.3 177.3,169.3 178.1,173.1 179.6,175.3 185.7,176.8 189.5,176.1 191.8,174.6 194.8,176.8 197.8,174.6 200.9,169.3 202.4,168.6 200.9,172.3 197.8,176.8 194,178.4 193.3,179.8 199.3,182.1 203.2,184.4 202.4,185.1 197.8,183.6 193.3,182.9 187.2,186.6 182.6,188.1 179.6,190.4 175,192.6 172.7,195.6 173.5,197.9 179.6,200.9 182.6,205.4 184.1,209.9 188,213.7 192.5,212.9 195.5,210.7 199.3,211.4 201.6,209.9 203.9,206.2 205.4,207.6 208.4,209.9 212.2,209.2 213.7,210.3 218.3,211.8 222.7,211 226.5,209.5 230.4,211.8 234.9,208.8 239.5,211 243.3,211.8 242.5,214 238,216.3 233.4,218.5 230.4,221.6 226.5,224.5 222.7,226.8 218.3,229.8 215.2,232.8 210.6,235.8 205.3,237.3 202.3,240.3 200,241.8 196.6,239.6 189.4,237.3 181.8,238.4 175.7,239.6 171.2,241.1 168.9,242.6 169.7,248.7 168.1,251.6 167.6,254.5 169.9,259.2 172.2,264.5 177.4,266.7 182,271.2 186.6,272.7 189.6,276.5 191.1,280.3 192.6,284 189.6,285.5 187.3,289.3 187.3,293.8 185.8,298.3 186.6,302.8 183.5,304.3 179.7,305.8 177.4,310.3 173.7,311.8 169.9,314.8 166.8,316.3 163.8,315 159.9,317.3 154.7,315 147,314.3 141,315 136.4,316.6 134.1,319.6 128.9,324.1 124.3,327.8 120.5,330.8 122.8,334.6 125,339.1 124.3,342.1 121.3,342.8 119.5,342.6 113.4,341.8 108.8,339.5 104.3,335 99.8,332 96.7,326 95.2,321.5 92.2,319.2 87.6,318.5 85.2,320.9 80.1,320.4 74.1,319.4 69,319.9 66.4,317.9 63.4,316.4 62.4,318.9 59.9,320.4 57.9,317.9 55.8,317.4 52.8,320.9 49.8,322.4 48.3,323.9 47.2,319.9 46.8,315.9 49.8,312.9 51.8,309.9 51.3,305.9 52.3,301.9 55.8,300.4 59.4,297.9 59.9,294.8 62.4,295.4 66,292.8 69,288.8 67.7,286.3 66.4,282.6 69.6,280.7 74,280.1 77.8,280.7 81,283.9 82.8,281.4 81.6,278.2 84.1,277.6 87.9,280.1 89.8,277.6 91.7,272.5 89.2,268 86.6,266.3 82.8,266.9 78.4,266.3 77.2,264.5 77.8,260.1 76.5,256.3 79.1,253.2 82.2,252.5 86.6,254.4 89.8,252.5 91,250 93.6,247.5 96.8,243.1 92.9,241.2 86.6,240.7 84.1,238.2 81.7,236.5 78.2,234.5 78.7,230.5 81.7,226.5 82.7,222.5 80.7,220.5 75.6,221.4 71.6,220.5 69.3,216.2"/><polygon points="47.2,323.7 44.2,324.7 41.6,326.3 41.2,329.7 37.1,329.7 32.5,330.3 30.1,328.7 28.6,324.7 26,322.2 23,320.7 23.5,318.2 26,317.2 30.1,317.7 32.1,317.2 30.6,319.7 31.5,322.2 34.6,323.7 37.6,322.2 38.6,319.2 40.7,318.2 43.2,319.7 46.2,317.2 47.2,319.6"/></clipPath>
<filter id="bl" x="-50%" y="-50%" width="200%" height="200%"><feGaussianBlur stdDeviation="4"/></filter>
<filter id="bl2" x="-50%" y="-50%" width="200%" height="200%"><feGaussianBlur stdDeviation="2"/></filter>
<g clip-path="url(#clipB)">
<rect x="20" y="155" width="235" height="195" fill="#f1edc2"/>
<g filter="url(#bl)">
<ellipse cx="173" cy="170" rx="10" ry="9" fill="#8496d6" opacity="1"/>
<ellipse cx="168" cy="183" rx="11" ry="10" fill="#8496d6" opacity="1"/>
<ellipse cx="160" cy="196" rx="11" ry="10" fill="#8a9cd8" opacity="1"/>
<ellipse cx="150" cy="209" rx="11" ry="9" fill="#8fa0d8" opacity="1"/>
<ellipse cx="139" cy="221" rx="10" ry="9" fill="#8a9cd8" opacity="1"/>
<ellipse cx="128" cy="231" rx="12" ry="9" fill="#6880d2" opacity="1"/>
<ellipse cx="180" cy="198" rx="9" ry="8" fill="#8a9cd8" opacity="0.9"/>
<ellipse cx="106" cy="252" rx="14" ry="9" fill="#a4b0dc" opacity="0.9"/>
<ellipse cx="95" cy="262" rx="8" ry="7" fill="#b0b8e0" opacity="0.8"/>
<ellipse cx="116" cy="288" rx="8" ry="13" fill="#bcc4e0" opacity="0.85"/>
<ellipse cx="218" cy="214" rx="22" ry="7" fill="#c4c6dc" opacity="0.9"/>
<ellipse cx="200" cy="205" rx="8" ry="6" fill="#b4bcdc" opacity="0.8"/>
<ellipse cx="138" cy="255" rx="11" ry="8" fill="#ee8a5e" opacity="1"/>
<ellipse cx="141" cy="277" rx="7" ry="12" fill="#f4be90" opacity="0.85"/>
<ellipse cx="113" cy="214" rx="8" ry="5" fill="#f09868" opacity="1"/>
<ellipse cx="78" cy="214" rx="10" ry="6" fill="#f4c496" opacity="0.9"/>
<ellipse cx="176" cy="228" rx="7" ry="11" fill="#f4b888" opacity="0.95"/>
<ellipse cx="75" cy="295" rx="11" ry="6" fill="#f4c494" opacity="0.85"/>
<ellipse cx="60" cy="311" rx="8" ry="5" fill="#f4cc9c" opacity="0.7"/>
<ellipse cx="160" cy="287" rx="9" ry="10" fill="#f6d8a8" opacity="0.6"/>
</g>
<g filter="url(#bl2)">
<ellipse cx="194" cy="179.5" rx="6" ry="4" fill="#3a66d8"/>
<ellipse cx="199" cy="184" rx="3" ry="2.5" fill="#3a66d8"/>
<ellipse cx="181" cy="206" rx="3.5" ry="4" fill="#3a5fd0"/>
<ellipse cx="127" cy="232" rx="5" ry="4" fill="#5a74d0"/>
<ellipse cx="40" cy="322" rx="10" ry="6" fill="#dcdcc4"/>
</g>
</g>
<polygon points="73.5,280.9 78.1,280.6 81,283.2 82.7,280.9 82,278.3 84.6,277.4 87.5,279.3 86.2,282.9 82.7,285.8 76.8,286.1 73.5,283.8" fill="#fff" stroke="#9a9a9a" stroke-width="0.5"/>
<polygon points="70.1,210.9 71.6,208.7 75.5,205.5 81.7,201.9 85.3,200.3 88.5,201.9 92.4,202.5 94.4,201.6 94.7,197.7 95.3,193.8 96.8,191.9 98.7,193.2 100,196.9 103.2,201.3 108.2,203.8 112,205.6 115.2,203.8 119.6,203.2 124.7,205.1 128.5,205.5 132.3,203.2 134.1,198.6 137.9,195.6 143.4,191.6 146.8,188 148.1,184.8 146.3,182.6 148.4,180.9 153.6,180.3 156.9,178.4 158.3,174.2 157.6,170.8 160.6,169.3 164.4,167.1 169,166.3 172,162.6 174.3,161.8 178.1,163.3 179.6,166.3 177.3,169.3 178.1,173.1 179.6,175.3 185.7,176.8 189.5,176.1 191.8,174.6 194.8,176.8 197.8,174.6 200.9,169.3 202.4,168.6 200.9,172.3 197.8,176.8 194,178.4 193.3,179.8 199.3,182.1 203.2,184.4 202.4,185.1 197.8,183.6 193.3,182.9 187.2,186.6 182.6,188.1 179.6,190.4 175,192.6 172.7,195.6 173.5,197.9 179.6,200.9 182.6,205.4 184.1,209.9 188,213.7 192.5,212.9 195.5,210.7 199.3,211.4 201.6,209.9 203.9,206.2 205.4,207.6 208.4,209.9 212.2,209.2 213.7,210.3 218.3,211.8 222.7,211 226.5,209.5 230.4,211.8 234.9,208.8 239.5,211 243.3,211.8 242.5,214 238,216.3 233.4,218.5 230.4,221.6 226.5,224.5 222.7,226.8 218.3,229.8 215.2,232.8 210.6,235.8 205.3,237.3 202.3,240.3 200,241.8 196.6,239.6 189.4,237.3 181.8,238.4 175.7,239.6 171.2,241.1 168.9,242.6 169.7,248.7 168.1,251.6 167.6,254.5 169.9,259.2 172.2,264.5 177.4,266.7 182,271.2 186.6,272.7 189.6,276.5 191.1,280.3 192.6,284 189.6,285.5 187.3,289.3 187.3,293.8 185.8,298.3 186.6,302.8 183.5,304.3 179.7,305.8 177.4,310.3 173.7,311.8 169.9,314.8 166.8,316.3 163.8,315 159.9,317.3 154.7,315 147,314.3 141,315 136.4,316.6 134.1,319.6 128.9,324.1 124.3,327.8 120.5,330.8 122.8,334.6 125,339.1 124.3,342.1 121.3,342.8 119.5,342.6 113.4,341.8 108.8,339.5 104.3,335 99.8,332 96.7,326 95.2,321.5 92.2,319.2 87.6,318.5 85.2,320.9 80.1,320.4 74.1,319.4 69,319.9 66.4,317.9 63.4,316.4 62.4,318.9 59.9,320.4 57.9,317.9 55.8,317.4 52.8,320.9 49.8,322.4 48.3,323.9 47.2,319.9 46.8,315.9 49.8,312.9 51.8,309.9 51.3,305.9 52.3,301.9 55.8,300.4 59.4,297.9 59.9,294.8 62.4,295.4 66,292.8 69,288.8 67.7,286.3 66.4,282.6 69.6,280.7 74,280.1 77.8,280.7 81,283.9 82.8,281.4 81.6,278.2 84.1,277.6 87.9,280.1 89.8,277.6 91.7,272.5 89.2,268 86.6,266.3 82.8,266.9 78.4,266.3 77.2,264.5 77.8,260.1 76.5,256.3 79.1,253.2 82.2,252.5 86.6,254.4 89.8,252.5 91,250 93.6,247.5 96.8,243.1 92.9,241.2 86.6,240.7 84.1,238.2 81.7,236.5 78.2,234.5 78.7,230.5 81.7,226.5 82.7,222.5 80.7,220.5 75.6,221.4 71.6,220.5 69.3,216.2" fill="none" stroke="#8a8a8a" stroke-width="0.5"/>
<polyline points="199.5,241.4 200,247.9 197.6,253.7 193,259.6 189.4,266.6 186.5,271" fill="none" stroke="#8a8a8a" stroke-width="0.6"/>
<g fill="none" stroke="#dc1414" stroke-width="1.25" stroke-linejoin="round" stroke-linecap="round">
<polyline points="83.2,203.5 101.5,217.1 123.7,231.6 138.8,238.3 148.9,248.4 154.7,256.1 159.2,263.7"/>
<polyline points="85.7,206.4 98.3,215.1 111.9,222.5"/>
<polyline points="164.4,179.1 161.4,184.4 156.9,190.4 153.8,197.9 149.2,205.5 144.5,210.9 138.6,215.8 133.8,220.3 127.6,224.8 124.7,230.6 123,236.4 120.1,244.2 117.2,249.3 112.6,253.2 108,257.7 101.9,263.7 95.9,266.7 91.3,268.2 86.8,270.5 80.7,274.2 76.1,277.4 71.9,279.4 69,282.6 67.4,287.6 65.7,291.9 62.8,296.7 58.9,301.9 54.9,308.9 50.8,315.9 48.8,320.9 47.2,323.9"/>
<polyline points="163,181.6 160.1,187.1"/>
<polyline points="82.7,270 77.4,272.9 74.5,276.7 75.8,277 80,273.8 86.6,270.9"/>
<polyline points="61.9,305.4 56.9,311.9 51.8,319.9 49.8,321.9"/>
<polyline points="58.9,303.4 53.8,311.9 49.8,318.9 48.3,322.4"/>
<polyline points="161.1,211.3 154,216.4 145.9,219.3 138.8,220.3 132.8,222.3 128.7,226.3 125.7,232.3 124.7,238.3"/>
<polyline points="179.6,202.4 175,205.5 170.5,210 164.4,215.1 158.4,219 152,226.1 147.9,232.3 138.8,238.3 133.8,244.3 123.7,247.4 117.2,249.3"/>
<polyline points="81,254.4 87.9,266.3 94.2,275.1 99.9,283.2"/>
<polyline points="200.7,234.3 199.2,242.6 196.3,248.6 191.7,250.9 189.4,253.8 187.1,259.1 185.1,265.2 182,272.7 177.4,280.3 172.9,289.3 168.3,299.7 165.3,307.3 160.8,316.3"/>
<polyline points="191.9,260 191.4,264.5"/>
<polyline points="185.8,271.2 184.3,276.5"/>
<polyline points="179.7,276.5 174.4,286.3 169.9,295.3 166.8,302.8 162.3,308.8"/>
<polyline points="166.8,287.8 164.5,294.8 162.3,301.3 161.5,308.8"/>
<polyline points="175.9,289.5 171.3,300 166.8,309 160.7,316.6"/>
<polyline points="150.9,287.2 145.5,292.5 141,297 136.4,302.2 132.6,309 131.9,312.8 125.8,318.1 117.5,321.8"/>
<polyline points="147,302.2 144,306.7 139.5,310.6 134.9,313.6 128.9,318.1 118.2,323.4"/>
</g>
<g fill="#000">
<circle cx="89.4" cy="207.5" r="1.95"/>
<circle cx="96.4" cy="208.6" r="1.95"/>
<circle cx="104.6" cy="213.3" r="1.95"/>
<circle cx="123.2" cy="208.6" r="1.95"/>
<circle cx="117.4" cy="215.6" r="1.95"/>
<circle cx="145.4" cy="213.3" r="1.95"/>
<circle cx="97.6" cy="220.3" r="1.95"/>
<circle cx="89.4" cy="222.6" r="1.95"/>
<circle cx="87.1" cy="226.1" r="1.95"/>
<circle cx="94.1" cy="228.5" r="1.95"/>
<circle cx="98.8" cy="223.8" r="1.95"/>
<circle cx="108.1" cy="229.6" r="1.95"/>
<circle cx="118.6" cy="227.3" r="1.95"/>
<circle cx="129.1" cy="223.8" r="1.95"/>
<circle cx="85.9" cy="233.1" r="1.95"/>
<circle cx="87.1" cy="236.6" r="1.95"/>
<circle cx="106.9" cy="234.3" r="1.95"/>
<circle cx="110.4" cy="239" r="1.95"/>
<circle cx="118.6" cy="237.8" r="1.95"/>
<circle cx="129.1" cy="240.1" r="1.95"/>
<circle cx="133.7" cy="235.5" r="1.95"/>
<circle cx="139.6" cy="240.1" r="1.95"/>
<circle cx="122.1" cy="247.1" r="1.95"/>
<circle cx="132.6" cy="247.1" r="1.95"/>
<circle cx="141.9" cy="248.3" r="1.95"/>
<circle cx="101.1" cy="245.9" r="1.95"/>
<circle cx="109.3" cy="251.8" r="1.95"/>
<circle cx="97.6" cy="252.9" r="1.95"/>
<circle cx="96.4" cy="255.3" r="1.95"/>
<circle cx="84.8" cy="258.8" r="1.95"/>
<circle cx="87.1" cy="263.4" r="1.95"/>
<circle cx="92.9" cy="259.9" r="1.95"/>
<circle cx="105.8" cy="257.6" r="1.95"/>
<circle cx="101.1" cy="264.6" r="1.95"/>
<circle cx="95.3" cy="268.1" r="1.95"/>
<circle cx="105.8" cy="269.3" r="1.95"/>
<circle cx="110.4" cy="270.4" r="1.95"/>
<circle cx="115.1" cy="270.4" r="1.95"/>
<circle cx="106.9" cy="273.9" r="1.95"/>
<circle cx="110.4" cy="275.1" r="1.95"/>
<circle cx="104.6" cy="280.9" r="1.95"/>
<circle cx="124.4" cy="273.9" r="1.95"/>
<circle cx="129.1" cy="264.6" r="1.95"/>
<circle cx="137.2" cy="268.1" r="1.95"/>
<circle cx="144.2" cy="264.6" r="1.95"/>
<circle cx="133.7" cy="276.2" r="1.95"/>
<circle cx="133.7" cy="282.1" r="1.95"/>
<circle cx="118.6" cy="283.2" r="1.95"/>
<circle cx="125.6" cy="287.9" r="1.95"/>
<circle cx="146.6" cy="284.4" r="1.95"/>
<circle cx="94.1" cy="286.7" r="1.95"/>
<circle cx="85.9" cy="293.7" r="1.95"/>
<circle cx="99.9" cy="292.6" r="1.95"/>
<circle cx="115.1" cy="299.6" r="1.95"/>
<circle cx="120.9" cy="298.4" r="1.95"/>
<circle cx="143.1" cy="293.7" r="1.95"/>
<circle cx="87.1" cy="301.9" r="1.95"/>
<circle cx="73.1" cy="303.1" r="1.95"/>
<circle cx="67.3" cy="305.4" r="1.95"/>
<circle cx="79" cy="306.6" r="1.95"/>
<circle cx="145.4" cy="257.6" r="1.95"/>
<circle cx="144.7" cy="254.1" r="1.95"/>
<circle cx="165" cy="172.1" r="1.95"/>
<circle cx="173.1" cy="178" r="1.95"/>
<circle cx="181.3" cy="179.1" r="1.95"/>
<circle cx="173.1" cy="183.8" r="1.95"/>
<circle cx="168.5" cy="187.3" r="1.95"/>
<circle cx="174.3" cy="192" r="1.95"/>
<circle cx="160.3" cy="193.1" r="1.95"/>
<circle cx="140.5" cy="187.3" r="1.95"/>
<circle cx="154.5" cy="197.8" r="1.95"/>
<circle cx="148.6" cy="201.3" r="1.95"/>
<circle cx="152.1" cy="205.9" r="1.95"/>
<circle cx="145.2" cy="210.6" r="1.95"/>
<circle cx="169.6" cy="202.4" r="1.95"/>
<circle cx="177.8" cy="205.9" r="1.95"/>
<circle cx="162.6" cy="212.9" r="1.95"/>
<circle cx="159.1" cy="217.6" r="1.95"/>
<circle cx="168.5" cy="218.8" r="1.95"/>
<circle cx="172" cy="222.3" r="1.95"/>
<circle cx="153.3" cy="231.6" r="1.95"/>
<circle cx="160.3" cy="232.8" r="1.95"/>
<circle cx="159.1" cy="252.6" r="1.95"/>
<circle cx="163.8" cy="264.2" r="1.95"/>
<circle cx="179" cy="235.1" r="1.95"/>
<circle cx="187.1" cy="231.6" r="1.95"/>
<circle cx="185.9" cy="237.4" r="1.95"/>
<circle cx="196.4" cy="236.2" r="1.95"/>
<circle cx="197.6" cy="228.1" r="1.95"/>
<circle cx="196.4" cy="221.1" r="1.95"/>
<circle cx="202.3" cy="219.9" r="1.95"/>
<circle cx="205.8" cy="212.9" r="1.95"/>
<circle cx="199.9" cy="214.1" r="1.95"/>
<circle cx="196.4" cy="216.4" r="1.95"/>
<circle cx="213.9" cy="214.1" r="1.95"/>
<circle cx="218.6" cy="218.8" r="1.95"/>
<circle cx="227.9" cy="212.9" r="1.95"/>
<circle cx="231.4" cy="216.4" r="1.95"/>
<circle cx="220.9" cy="225.8" r="1.95"/>
<circle cx="213.9" cy="231.6" r="1.95"/>
<circle cx="184.8" cy="244.4" r="1.95"/>
<circle cx="198.8" cy="242.1" r="1.95"/>
<circle cx="191.8" cy="261.9" r="1.95"/>
<circle cx="199.9" cy="183.8" r="1.95"/>
<circle cx="77.3" cy="324.6" r="1.95"/>
<circle cx="102.9" cy="325.8" r="1.95"/>
<circle cx="94.8" cy="340.9" r="1.95"/>
<circle cx="112.3" cy="337.4" r="1.95"/>
<circle cx="122.8" cy="339.7" r="1.95"/>
<circle cx="118.1" cy="317.6" r="1.95"/>
<circle cx="128.6" cy="311.8" r="1.95"/>
<circle cx="134.4" cy="321.1" r="1.95"/>
<circle cx="137.9" cy="321.1" r="1.95"/>
<circle cx="140.2" cy="300.1" r="1.95"/>
<circle cx="63.3" cy="311.8" r="1.95"/>
<circle cx="54" cy="318.8" r="1.95"/>
<circle cx="59.8" cy="319.9" r="1.95"/>
<circle cx="80.8" cy="315.3" r="1.95"/>
<circle cx="90.1" cy="314.1" r="1.95"/>
<circle cx="142.8" cy="272.1" r="1.95"/>
<circle cx="65.3" cy="294.2" r="1.95"/>
<circle cx="128.7" cy="216.8" r="1.95"/>
<circle cx="169.5" cy="266.5" r="1.95"/>
<circle cx="183" cy="301.4" r="1.95"/>
<circle cx="99.2" cy="305.4" r="1.95"/>
<circle cx="170.7" cy="307.1" r="1.95"/>
<circle cx="153.8" cy="304.3" r="1.95"/>
<circle cx="210.3" cy="225.6" r="1.95"/>
<circle cx="140.9" cy="313.7" r="1.95"/>
<circle cx="147.8" cy="243.2" r="1.95"/>
<circle cx="136" cy="288" r="1.95"/>
<circle cx="127.5" cy="322.2" r="1.95"/>
<circle cx="184.9" cy="287.8" r="1.95"/>
<circle cx="119.1" cy="306.8" r="1.95"/>
<circle cx="164.8" cy="296" r="1.95"/>
<circle cx="153" cy="211.4" r="1.95"/>
<circle cx="75.5" cy="217.8" r="1.95"/>
<circle cx="179" cy="270.2" r="1.95"/>
<circle cx="154.3" cy="277.4" r="1.95"/>
<circle cx="161.8" cy="270.9" r="1.95"/>
<circle cx="168.7" cy="192.9" r="1.95"/>
<circle cx="144.6" cy="277.6" r="1.95"/>
<circle cx="146.8" cy="194.4" r="1.95"/>
<circle cx="50.1" cy="313" r="1.95"/>
<circle cx="160.8" cy="299.8" r="1.95"/>
</g>
<polygon points="246.6,253.4 241.9,254.9 238,257.3 237.3,262.7 231,262.7 224,263.5 220.2,261.1 217.9,254.9 214,251 209.3,248.7 210.1,244.8 214,243.3 220.2,244 223.3,243.3 221,247.2 222.5,251 227.2,253.4 231.8,251 233.4,246.4 236.5,244.8 240.4,247.2 245,243.3 246.5,247" fill="#fff" stroke="#d0d0d0" stroke-width="1"/>
<polygon points="281.7,78.5 284,75 290,70 299.5,64.5 305,62 310,64.5 316,65.5 319,64 319.5,58 320.5,52 322.8,49 325.7,51 327.7,56.7 332.5,63.5 340.3,67.4 346.1,70.3 351,67.4 357.8,66.5 365.6,69.4 371.4,70 377.2,66.5 380,59.4 385.8,54.8 394.3,48.6 399.5,43 401.5,38 398.8,34.5 402,32 410,31 415,28 417.2,21.5 416.1,16.3 420.8,14 426.6,10.5 433.6,9.3 438.3,3.5 441.8,2.3 447.6,4.7 449.9,9.3 446.4,14 447.6,19.8 449.9,23.3 459.3,25.6 465.1,24.5 468.6,22.1 473.2,25.6 477.9,22.1 482.6,14 484.9,12.8 482.6,18.6 477.9,25.6 472.1,28 470.9,30.3 480.2,33.8 486.1,37.3 484.9,38.5 477.9,36.1 470.9,35 461.6,40.8 454.6,43.1 449.9,46.6 442.9,50.1 439.4,54.8 440.6,58.3 449.9,62.9 454.6,69.9 456.9,76.9 462.8,82.8 469.7,81.6 474.4,78.1 480.2,79.3 483.7,76.9 487.2,71.1 489.6,73.4 494.2,76.9 500,75.8 502.3,77.5 509.3,79.8 516.2,78.6 522,76.3 527.9,79.8 534.9,75.2 541.9,78.6 547.7,79.8 546.6,83.3 539.6,86.8 532.6,90.3 527.9,95 522,99.6 516.2,103.1 509.3,107.8 504.6,112.4 497.6,117.1 489.4,119.4 484.8,124.1 481.3,126.4 476,123 465,119.4 453.3,121.1 444,123 437,125.3 433.5,127.6 434.7,137 432.3,141.6 431.5,146 435,153.3 438.5,161.5 446.6,165 453.6,172 460.6,174.3 465.3,180.1 467.6,186 469.9,191.8 465.3,194.1 461.8,200 461.8,206.9 459.4,213.9 460.6,220.9 455.9,223.2 450.1,225.6 446.6,232.6 440.8,234.9 435,239.6 430.3,241.9 425.6,239.9 419.7,243.4 411.6,239.9 399.9,238.8 390.6,239.9 383.6,242.3 380.1,246.9 372,253.9 365,259.7 359.1,264.4 362.6,270.2 366.1,277.2 365,281.9 360.3,283 357.6,282.6 348.2,281.4 341.2,277.9 334.3,270.9 327.3,266.2 322.6,256.9 320.3,249.9 315.6,246.4 308.6,245.3 304.9,249 297.1,248.2 287.8,246.7 280,247.5 276.1,244.3 271.5,242 269.9,245.9 266.1,248.2 263,244.3 259.8,243.6 255.2,249 250.5,251.3 248.2,253.7 246.6,247.5 245.9,241.2 250.5,236.6 253.6,231.9 252.9,225.7 254.4,219.5 259.8,217.2 265.3,213.3 266.1,208.6 269.9,209.4 275.4,205.5 280,199.3 278,195.4 276,189.6 280.9,186.7 287.7,185.7 293.5,186.7 298.4,191.6 301.3,187.7 299.4,182.8 303.3,181.8 309,185.7 312,181.8 314.9,174 311,167 307.1,164.4 301.3,165.3 294.5,164.4 292.6,161.5 293.5,154.7 291.6,148.8 295.5,144 300.3,143 307.1,145.9 312,143 313.9,139.1 317.8,135.2 322.7,128.4 316.8,125.5 307.1,124.6 303.3,120.7 299.5,118.1 294.1,115 294.9,108.8 299.5,102.6 301.1,96.4 298,93.3 290.2,94.8 284,93.3 280.5,86.6" fill="#fff" stroke="#b4b4b4" stroke-width="1.3" stroke-linejoin="round"/>
<g fill="#0a64f0">
<ellipse cx="423.7" cy="20.7" rx="2.35" ry="2.6"/>
<ellipse cx="427.9" cy="20.7" rx="2.35" ry="2.6"/>
<ellipse cx="432" cy="20.7" rx="2.35" ry="2.6"/>
<ellipse cx="436.2" cy="20.7" rx="2.35" ry="2.6"/>
<ellipse cx="440.3" cy="20.7" rx="2.35" ry="2.6"/>
<ellipse cx="419.6" cy="26" rx="2.35" ry="2.6"/>
<ellipse cx="423.7" cy="26" rx="2.35" ry="2.6"/>
<ellipse cx="427.9" cy="26" rx="2.35" ry="2.6"/>
<ellipse cx="432" cy="26" rx="2.35" ry="2.6"/>
<ellipse cx="436.2" cy="26" rx="2.35" ry="2.6"/>
<ellipse cx="440.3" cy="26" rx="2.35" ry="2.6"/>
<ellipse cx="444.5" cy="26" rx="2.35" ry="2.6"/>
<ellipse cx="415.4" cy="31.3" rx="2.35" ry="2.6"/>
<ellipse cx="419.6" cy="31.3" rx="2.35" ry="2.6"/>
<ellipse cx="423.7" cy="31.3" rx="2.35" ry="2.6"/>
<ellipse cx="427.9" cy="31.3" rx="2.35" ry="2.6"/>
<ellipse cx="432" cy="31.3" rx="2.35" ry="2.6"/>
<ellipse cx="436.2" cy="31.3" rx="2.35" ry="2.6"/>
<ellipse cx="440.3" cy="31.3" rx="2.35" ry="2.6"/>
<ellipse cx="444.5" cy="31.3" rx="2.35" ry="2.6"/>
<ellipse cx="448.6" cy="31.3" rx="2.35" ry="2.6"/>
<ellipse cx="415.4" cy="36.6" rx="2.35" ry="2.6"/>
<ellipse cx="419.6" cy="36.6" rx="2.35" ry="2.6"/>
<ellipse cx="423.7" cy="36.6" rx="2.35" ry="2.6"/>
<ellipse cx="427.9" cy="36.6" rx="2.35" ry="2.6"/>
<ellipse cx="432" cy="36.6" rx="2.35" ry="2.6"/>
<ellipse cx="436.2" cy="36.6" rx="2.35" ry="2.6"/>
<ellipse cx="440.3" cy="36.6" rx="2.35" ry="2.6"/>
<ellipse cx="444.5" cy="36.6" rx="2.35" ry="2.6"/>
<ellipse cx="448.6" cy="36.6" rx="2.35" ry="2.6"/>
<ellipse cx="407.1" cy="41.9" rx="2.35" ry="2.6"/>
<ellipse cx="411.2" cy="41.9" rx="2.35" ry="2.6"/>
<ellipse cx="415.4" cy="41.9" rx="2.35" ry="2.6"/>
<ellipse cx="419.6" cy="41.9" rx="2.35" ry="2.6"/>
<ellipse cx="423.7" cy="41.9" rx="2.35" ry="2.6"/>
<ellipse cx="427.9" cy="41.9" rx="2.35" ry="2.6"/>
<ellipse cx="432" cy="41.9" rx="2.35" ry="2.6"/>
<ellipse cx="436.2" cy="41.9" rx="2.35" ry="2.6"/>
<ellipse cx="440.3" cy="41.9" rx="2.35" ry="2.6"/>
<ellipse cx="444.5" cy="41.9" rx="2.35" ry="2.6"/>
<ellipse cx="402.9" cy="47.2" rx="2.35" ry="2.6"/>
<ellipse cx="407.1" cy="47.2" rx="2.35" ry="2.6"/>
<ellipse cx="411.2" cy="47.2" rx="2.35" ry="2.6"/>
<ellipse cx="415.4" cy="47.2" rx="2.35" ry="2.6"/>
<ellipse cx="419.6" cy="47.2" rx="2.35" ry="2.6"/>
<ellipse cx="423.7" cy="47.2" rx="2.35" ry="2.6"/>
<ellipse cx="427.9" cy="47.2" rx="2.35" ry="2.6"/>
<ellipse cx="432" cy="47.2" rx="2.35" ry="2.6"/>
<ellipse cx="436.2" cy="47.2" rx="2.35" ry="2.6"/>
<ellipse cx="440.3" cy="47.2" rx="2.35" ry="2.6"/>
<ellipse cx="398.8" cy="52.5" rx="2.35" ry="2.6"/>
<ellipse cx="402.9" cy="52.5" rx="2.35" ry="2.6"/>
<ellipse cx="407.1" cy="52.5" rx="2.35" ry="2.6"/>
<ellipse cx="411.2" cy="52.5" rx="2.35" ry="2.6"/>
<ellipse cx="415.4" cy="52.5" rx="2.35" ry="2.6"/>
<ellipse cx="419.6" cy="52.5" rx="2.35" ry="2.6"/>
<ellipse cx="423.7" cy="52.5" rx="2.35" ry="2.6"/>
<ellipse cx="427.9" cy="52.5" rx="2.35" ry="2.6"/>
<ellipse cx="432" cy="52.5" rx="2.35" ry="2.6"/>
<ellipse cx="436.2" cy="52.5" rx="2.35" ry="2.6"/>
<ellipse cx="390.5" cy="57.8" rx="2.35" ry="2.6"/>
<ellipse cx="394.6" cy="57.8" rx="2.35" ry="2.6"/>
<ellipse cx="398.8" cy="57.8" rx="2.35" ry="2.6"/>
<ellipse cx="402.9" cy="57.8" rx="2.35" ry="2.6"/>
<ellipse cx="407.1" cy="57.8" rx="2.35" ry="2.6"/>
<ellipse cx="411.2" cy="57.8" rx="2.35" ry="2.6"/>
<ellipse cx="415.4" cy="57.8" rx="2.35" ry="2.6"/>
<ellipse cx="419.6" cy="57.8" rx="2.35" ry="2.6"/>
<ellipse cx="423.7" cy="57.8" rx="2.35" ry="2.6"/>
<ellipse cx="427.9" cy="57.8" rx="2.35" ry="2.6"/>
<ellipse cx="432" cy="57.8" rx="2.35" ry="2.6"/>
<ellipse cx="436.2" cy="57.8" rx="2.35" ry="2.6"/>
<ellipse cx="386.3" cy="63.1" rx="2.35" ry="2.6"/>
<ellipse cx="390.5" cy="63.1" rx="2.35" ry="2.6"/>
<ellipse cx="394.6" cy="63.1" rx="2.35" ry="2.6"/>
<ellipse cx="398.8" cy="63.1" rx="2.35" ry="2.6"/>
<ellipse cx="402.9" cy="63.1" rx="2.35" ry="2.6"/>
<ellipse cx="407.1" cy="63.1" rx="2.35" ry="2.6"/>
<ellipse cx="411.2" cy="63.1" rx="2.35" ry="2.6"/>
<ellipse cx="415.4" cy="63.1" rx="2.35" ry="2.6"/>
<ellipse cx="419.6" cy="63.1" rx="2.35" ry="2.6"/>
<ellipse cx="423.7" cy="63.1" rx="2.35" ry="2.6"/>
<ellipse cx="427.9" cy="63.1" rx="2.35" ry="2.6"/>
<ellipse cx="432" cy="63.1" rx="2.35" ry="2.6"/>
<ellipse cx="436.2" cy="63.1" rx="2.35" ry="2.6"/>
<ellipse cx="440.3" cy="63.1" rx="2.35" ry="2.6"/>
<ellipse cx="382.2" cy="68.4" rx="2.35" ry="2.6"/>
<ellipse cx="386.3" cy="68.4" rx="2.35" ry="2.6"/>
<ellipse cx="390.5" cy="68.4" rx="2.35" ry="2.6"/>
<ellipse cx="394.6" cy="68.4" rx="2.35" ry="2.6"/>
<ellipse cx="398.8" cy="68.4" rx="2.35" ry="2.6"/>
<ellipse cx="402.9" cy="68.4" rx="2.35" ry="2.6"/>
<ellipse cx="407.1" cy="68.4" rx="2.35" ry="2.6"/>
<ellipse cx="411.2" cy="68.4" rx="2.35" ry="2.6"/>
<ellipse cx="415.4" cy="68.4" rx="2.35" ry="2.6"/>
<ellipse cx="419.6" cy="68.4" rx="2.35" ry="2.6"/>
<ellipse cx="423.7" cy="68.4" rx="2.35" ry="2.6"/>
<ellipse cx="427.9" cy="68.4" rx="2.35" ry="2.6"/>
<ellipse cx="432" cy="68.4" rx="2.35" ry="2.6"/>
<ellipse cx="436.2" cy="68.4" rx="2.35" ry="2.6"/>
<ellipse cx="440.3" cy="68.4" rx="2.35" ry="2.6"/>
<ellipse cx="444.5" cy="68.4" rx="2.35" ry="2.6"/>
<ellipse cx="448.6" cy="68.4" rx="2.35" ry="2.6"/>
<ellipse cx="452.8" cy="68.4" rx="2.35" ry="2.6"/>
<ellipse cx="311.5" cy="73.7" rx="2.35" ry="2.6"/>
<ellipse cx="315.7" cy="73.7" rx="2.35" ry="2.6"/>
<ellipse cx="319.8" cy="73.7" rx="2.35" ry="2.6"/>
<ellipse cx="324" cy="73.7" rx="2.35" ry="2.6"/>
<ellipse cx="328.2" cy="73.7" rx="2.35" ry="2.6"/>
<ellipse cx="378" cy="73.7" rx="2.35" ry="2.6"/>
<ellipse cx="382.2" cy="73.7" rx="2.35" ry="2.6"/>
<ellipse cx="386.3" cy="73.7" rx="2.35" ry="2.6"/>
<ellipse cx="390.5" cy="73.7" rx="2.35" ry="2.6"/>
<ellipse cx="394.6" cy="73.7" rx="2.35" ry="2.6"/>
<ellipse cx="398.8" cy="73.7" rx="2.35" ry="2.6"/>
<ellipse cx="402.9" cy="73.7" rx="2.35" ry="2.6"/>
<ellipse cx="407.1" cy="73.7" rx="2.35" ry="2.6"/>
<ellipse cx="411.2" cy="73.7" rx="2.35" ry="2.6"/>
<ellipse cx="415.4" cy="73.7" rx="2.35" ry="2.6"/>
<ellipse cx="419.6" cy="73.7" rx="2.35" ry="2.6"/>
<ellipse cx="423.7" cy="73.7" rx="2.35" ry="2.6"/>
<ellipse cx="427.9" cy="73.7" rx="2.35" ry="2.6"/>
<ellipse cx="432" cy="73.7" rx="2.35" ry="2.6"/>
<ellipse cx="436.2" cy="73.7" rx="2.35" ry="2.6"/>
<ellipse cx="440.3" cy="73.7" rx="2.35" ry="2.6"/>
<ellipse cx="444.5" cy="73.7" rx="2.35" ry="2.6"/>
<ellipse cx="448.6" cy="73.7" rx="2.35" ry="2.6"/>
<ellipse cx="452.8" cy="73.7" rx="2.35" ry="2.6"/>
<ellipse cx="315.7" cy="79" rx="2.35" ry="2.6"/>
<ellipse cx="319.8" cy="79" rx="2.35" ry="2.6"/>
<ellipse cx="324" cy="79" rx="2.35" ry="2.6"/>
<ellipse cx="365.5" cy="79" rx="2.35" ry="2.6"/>
<ellipse cx="369.7" cy="79" rx="2.35" ry="2.6"/>
<ellipse cx="378" cy="79" rx="2.35" ry="2.6"/>
<ellipse cx="382.2" cy="79" rx="2.35" ry="2.6"/>
<ellipse cx="390.5" cy="79" rx="2.35" ry="2.6"/>
<ellipse cx="394.6" cy="79" rx="2.35" ry="2.6"/>
<ellipse cx="398.8" cy="79" rx="2.35" ry="2.6"/>
<ellipse cx="402.9" cy="79" rx="2.35" ry="2.6"/>
<ellipse cx="407.1" cy="79" rx="2.35" ry="2.6"/>
<ellipse cx="411.2" cy="79" rx="2.35" ry="2.6"/>
<ellipse cx="415.4" cy="79" rx="2.35" ry="2.6"/>
<ellipse cx="419.6" cy="79" rx="2.35" ry="2.6"/>
<ellipse cx="423.7" cy="79" rx="2.35" ry="2.6"/>
<ellipse cx="427.9" cy="79" rx="2.35" ry="2.6"/>
<ellipse cx="432" cy="79" rx="2.35" ry="2.6"/>
<ellipse cx="436.2" cy="79" rx="2.35" ry="2.6"/>
<ellipse cx="440.3" cy="79" rx="2.35" ry="2.6"/>
<ellipse cx="444.5" cy="79" rx="2.35" ry="2.6"/>
<ellipse cx="448.6" cy="79" rx="2.35" ry="2.6"/>
<ellipse cx="452.8" cy="79" rx="2.35" ry="2.6"/>
<ellipse cx="319.8" cy="84.3" rx="2.35" ry="2.6"/>
<ellipse cx="394.6" cy="84.3" rx="2.35" ry="2.6"/>
<ellipse cx="398.8" cy="84.3" rx="2.35" ry="2.6"/>
<ellipse cx="402.9" cy="84.3" rx="2.35" ry="2.6"/>
<ellipse cx="407.1" cy="84.3" rx="2.35" ry="2.6"/>
<ellipse cx="411.2" cy="84.3" rx="2.35" ry="2.6"/>
<ellipse cx="415.4" cy="84.3" rx="2.35" ry="2.6"/>
<ellipse cx="419.6" cy="84.3" rx="2.35" ry="2.6"/>
<ellipse cx="423.7" cy="84.3" rx="2.35" ry="2.6"/>
<ellipse cx="427.9" cy="84.3" rx="2.35" ry="2.6"/>
<ellipse cx="448.6" cy="84.3" rx="2.35" ry="2.6"/>
<ellipse cx="452.8" cy="84.3" rx="2.35" ry="2.6"/>
<ellipse cx="386.3" cy="89.6" rx="2.35" ry="2.6"/>
<ellipse cx="390.5" cy="89.6" rx="2.35" ry="2.6"/>
<ellipse cx="394.6" cy="89.6" rx="2.35" ry="2.6"/>
<ellipse cx="398.8" cy="89.6" rx="2.35" ry="2.6"/>
<ellipse cx="402.9" cy="89.6" rx="2.35" ry="2.6"/>
<ellipse cx="407.1" cy="89.6" rx="2.35" ry="2.6"/>
<ellipse cx="411.2" cy="89.6" rx="2.35" ry="2.6"/>
<ellipse cx="415.4" cy="89.6" rx="2.35" ry="2.6"/>
<ellipse cx="419.6" cy="89.6" rx="2.35" ry="2.6"/>
<ellipse cx="423.7" cy="89.6" rx="2.35" ry="2.6"/>
<ellipse cx="457" cy="89.6" rx="2.35" ry="2.6"/>
<ellipse cx="461.1" cy="89.6" rx="2.35" ry="2.6"/>
<ellipse cx="465.3" cy="89.6" rx="2.35" ry="2.6"/>
<ellipse cx="469.4" cy="89.6" rx="2.35" ry="2.6"/>
<ellipse cx="473.6" cy="89.6" rx="2.35" ry="2.6"/>
<ellipse cx="477.7" cy="89.6" rx="2.35" ry="2.6"/>
<ellipse cx="481.9" cy="89.6" rx="2.35" ry="2.6"/>
<ellipse cx="486" cy="89.6" rx="2.35" ry="2.6"/>
<ellipse cx="490.2" cy="89.6" rx="2.35" ry="2.6"/>
<ellipse cx="502.7" cy="89.6" rx="2.35" ry="2.6"/>
<ellipse cx="506.8" cy="89.6" rx="2.35" ry="2.6"/>
<ellipse cx="511" cy="89.6" rx="2.35" ry="2.6"/>
<ellipse cx="515.1" cy="89.6" rx="2.35" ry="2.6"/>
<ellipse cx="519.3" cy="89.6" rx="2.35" ry="2.6"/>
<ellipse cx="523.4" cy="89.6" rx="2.35" ry="2.6"/>
<ellipse cx="527.6" cy="89.6" rx="2.35" ry="2.6"/>
<ellipse cx="402.9" cy="94.9" rx="2.35" ry="2.6"/>
<ellipse cx="411.2" cy="94.9" rx="2.35" ry="2.6"/>
<ellipse cx="415.4" cy="94.9" rx="2.35" ry="2.6"/>
<ellipse cx="419.6" cy="94.9" rx="2.35" ry="2.6"/>
<ellipse cx="423.7" cy="94.9" rx="2.35" ry="2.6"/>
<ellipse cx="452.8" cy="94.9" rx="2.35" ry="2.6"/>
<ellipse cx="457" cy="94.9" rx="2.35" ry="2.6"/>
<ellipse cx="461.1" cy="94.9" rx="2.35" ry="2.6"/>
<ellipse cx="465.3" cy="94.9" rx="2.35" ry="2.6"/>
<ellipse cx="469.4" cy="94.9" rx="2.35" ry="2.6"/>
<ellipse cx="477.7" cy="94.9" rx="2.35" ry="2.6"/>
<ellipse cx="481.9" cy="94.9" rx="2.35" ry="2.6"/>
<ellipse cx="486" cy="94.9" rx="2.35" ry="2.6"/>
<ellipse cx="490.2" cy="94.9" rx="2.35" ry="2.6"/>
<ellipse cx="502.7" cy="94.9" rx="2.35" ry="2.6"/>
<ellipse cx="506.8" cy="94.9" rx="2.35" ry="2.6"/>
<ellipse cx="511" cy="94.9" rx="2.35" ry="2.6"/>
<ellipse cx="515.1" cy="94.9" rx="2.35" ry="2.6"/>
<ellipse cx="519.3" cy="94.9" rx="2.35" ry="2.6"/>
<ellipse cx="523.4" cy="94.9" rx="2.35" ry="2.6"/>
<ellipse cx="378" cy="100.2" rx="2.35" ry="2.6"/>
<ellipse cx="402.9" cy="100.2" rx="2.35" ry="2.6"/>
<ellipse cx="411.2" cy="100.2" rx="2.35" ry="2.6"/>
<ellipse cx="423.7" cy="100.2" rx="2.35" ry="2.6"/>
<ellipse cx="481.9" cy="100.2" rx="2.35" ry="2.6"/>
<ellipse cx="486" cy="100.2" rx="2.35" ry="2.6"/>
<ellipse cx="490.2" cy="100.2" rx="2.35" ry="2.6"/>
<ellipse cx="494.4" cy="100.2" rx="2.35" ry="2.6"/>
<ellipse cx="498.5" cy="100.2" rx="2.35" ry="2.6"/>
<ellipse cx="502.7" cy="100.2" rx="2.35" ry="2.6"/>
<ellipse cx="506.8" cy="100.2" rx="2.35" ry="2.6"/>
<ellipse cx="511" cy="100.2" rx="2.35" ry="2.6"/>
<ellipse cx="373.9" cy="105.5" rx="2.35" ry="2.6"/>
<ellipse cx="402.9" cy="105.5" rx="2.35" ry="2.6"/>
<ellipse cx="407.1" cy="105.5" rx="2.35" ry="2.6"/>
<ellipse cx="411.2" cy="105.5" rx="2.35" ry="2.6"/>
<ellipse cx="423.7" cy="105.5" rx="2.35" ry="2.6"/>
<ellipse cx="486" cy="105.5" rx="2.35" ry="2.6"/>
<ellipse cx="490.2" cy="105.5" rx="2.35" ry="2.6"/>
<ellipse cx="494.4" cy="105.5" rx="2.35" ry="2.6"/>
<ellipse cx="498.5" cy="105.5" rx="2.35" ry="2.6"/>
<ellipse cx="502.7" cy="105.5" rx="2.35" ry="2.6"/>
<ellipse cx="506.8" cy="105.5" rx="2.35" ry="2.6"/>
<ellipse cx="340.6" cy="110.8" rx="2.35" ry="2.6"/>
<ellipse cx="386.3" cy="110.8" rx="2.35" ry="2.6"/>
<ellipse cx="419.6" cy="110.8" rx="2.35" ry="2.6"/>
<ellipse cx="423.7" cy="110.8" rx="2.35" ry="2.6"/>
<ellipse cx="490.2" cy="110.8" rx="2.35" ry="2.6"/>
<ellipse cx="494.4" cy="110.8" rx="2.35" ry="2.6"/>
<ellipse cx="498.5" cy="110.8" rx="2.35" ry="2.6"/>
<ellipse cx="502.7" cy="110.8" rx="2.35" ry="2.6"/>
<ellipse cx="353.1" cy="116.1" rx="2.35" ry="2.6"/>
<ellipse cx="357.2" cy="116.1" rx="2.35" ry="2.6"/>
<ellipse cx="415.4" cy="116.1" rx="2.35" ry="2.6"/>
<ellipse cx="419.6" cy="116.1" rx="2.35" ry="2.6"/>
<ellipse cx="336.5" cy="121.4" rx="2.35" ry="2.6"/>
<ellipse cx="340.6" cy="121.4" rx="2.35" ry="2.6"/>
<ellipse cx="348.9" cy="121.4" rx="2.35" ry="2.6"/>
<ellipse cx="353.1" cy="121.4" rx="2.35" ry="2.6"/>
<ellipse cx="357.2" cy="121.4" rx="2.35" ry="2.6"/>
<ellipse cx="361.4" cy="121.4" rx="2.35" ry="2.6"/>
<ellipse cx="365.5" cy="121.4" rx="2.35" ry="2.6"/>
<ellipse cx="332.3" cy="126.7" rx="2.35" ry="2.6"/>
<ellipse cx="336.5" cy="126.7" rx="2.35" ry="2.6"/>
<ellipse cx="340.6" cy="126.7" rx="2.35" ry="2.6"/>
<ellipse cx="344.8" cy="126.7" rx="2.35" ry="2.6"/>
<ellipse cx="353.1" cy="126.7" rx="2.35" ry="2.6"/>
<ellipse cx="357.2" cy="126.7" rx="2.35" ry="2.6"/>
<ellipse cx="361.4" cy="126.7" rx="2.35" ry="2.6"/>
<ellipse cx="332.3" cy="132" rx="2.35" ry="2.6"/>
<ellipse cx="336.5" cy="132" rx="2.35" ry="2.6"/>
<ellipse cx="340.6" cy="132" rx="2.35" ry="2.6"/>
<ellipse cx="344.8" cy="132" rx="2.35" ry="2.6"/>
<ellipse cx="353.1" cy="132" rx="2.35" ry="2.6"/>
<ellipse cx="324" cy="137.3" rx="2.35" ry="2.6"/>
<ellipse cx="328.2" cy="137.3" rx="2.35" ry="2.6"/>
<ellipse cx="332.3" cy="137.3" rx="2.35" ry="2.6"/>
<ellipse cx="336.5" cy="137.3" rx="2.35" ry="2.6"/>
<ellipse cx="340.6" cy="137.3" rx="2.35" ry="2.6"/>
<ellipse cx="324" cy="142.6" rx="2.35" ry="2.6"/>
<ellipse cx="328.2" cy="142.6" rx="2.35" ry="2.6"/>
<ellipse cx="332.3" cy="142.6" rx="2.35" ry="2.6"/>
<ellipse cx="336.5" cy="142.6" rx="2.35" ry="2.6"/>
<ellipse cx="340.6" cy="142.6" rx="2.35" ry="2.6"/>
<ellipse cx="311.5" cy="147.9" rx="2.35" ry="2.6"/>
<ellipse cx="315.7" cy="147.9" rx="2.35" ry="2.6"/>
<ellipse cx="319.8" cy="147.9" rx="2.35" ry="2.6"/>
<ellipse cx="324" cy="147.9" rx="2.35" ry="2.6"/>
<ellipse cx="328.2" cy="147.9" rx="2.35" ry="2.6"/>
<ellipse cx="332.3" cy="147.9" rx="2.35" ry="2.6"/>
<ellipse cx="311.5" cy="153.2" rx="2.35" ry="2.6"/>
<ellipse cx="315.7" cy="153.2" rx="2.35" ry="2.6"/>
<ellipse cx="324" cy="153.2" rx="2.35" ry="2.6"/>
<ellipse cx="328.2" cy="153.2" rx="2.35" ry="2.6"/>
<ellipse cx="332.3" cy="153.2" rx="2.35" ry="2.6"/>
<ellipse cx="315.7" cy="158.5" rx="2.35" ry="2.6"/>
<ellipse cx="319.8" cy="158.5" rx="2.35" ry="2.6"/>
<ellipse cx="328.2" cy="158.5" rx="2.35" ry="2.6"/>
<ellipse cx="332.3" cy="158.5" rx="2.35" ry="2.6"/>
<ellipse cx="324" cy="163.8" rx="2.35" ry="2.6"/>
<ellipse cx="328.2" cy="163.8" rx="2.35" ry="2.6"/>
<ellipse cx="332.3" cy="163.8" rx="2.35" ry="2.6"/>
<ellipse cx="319.8" cy="169.1" rx="2.35" ry="2.6"/>
<ellipse cx="324" cy="169.1" rx="2.35" ry="2.6"/>
<ellipse cx="328.2" cy="169.1" rx="2.35" ry="2.6"/>
<ellipse cx="319.8" cy="174.4" rx="2.35" ry="2.6"/>
<ellipse cx="324" cy="174.4" rx="2.35" ry="2.6"/>
<ellipse cx="357.2" cy="174.4" rx="2.35" ry="2.6"/>
<ellipse cx="361.4" cy="174.4" rx="2.35" ry="2.6"/>
<ellipse cx="319.8" cy="179.7" rx="2.35" ry="2.6"/>
<ellipse cx="324" cy="179.7" rx="2.35" ry="2.6"/>
<ellipse cx="357.2" cy="179.7" rx="2.35" ry="2.6"/>
<ellipse cx="361.4" cy="179.7" rx="2.35" ry="2.6"/>
<ellipse cx="365.5" cy="179.7" rx="2.35" ry="2.6"/>
<ellipse cx="324" cy="185" rx="2.35" ry="2.6"/>
<ellipse cx="357.2" cy="185" rx="2.35" ry="2.6"/>
<ellipse cx="361.4" cy="185" rx="2.35" ry="2.6"/>
<ellipse cx="324" cy="190.3" rx="2.35" ry="2.6"/>
<ellipse cx="324" cy="195.6" rx="2.35" ry="2.6"/>
</g>
<g fill="#19f5c8">
<ellipse cx="324" cy="68.4" rx="2.35" ry="2.6"/>
<ellipse cx="311.5" cy="79" rx="2.35" ry="2.6"/>
<ellipse cx="361.4" cy="79" rx="2.35" ry="2.6"/>
<ellipse cx="373.9" cy="79" rx="2.35" ry="2.6"/>
<ellipse cx="386.3" cy="79" rx="2.35" ry="2.6"/>
<ellipse cx="315.7" cy="84.3" rx="2.35" ry="2.6"/>
<ellipse cx="365.5" cy="84.3" rx="2.35" ry="2.6"/>
<ellipse cx="369.7" cy="84.3" rx="2.35" ry="2.6"/>
<ellipse cx="373.9" cy="84.3" rx="2.35" ry="2.6"/>
<ellipse cx="378" cy="84.3" rx="2.35" ry="2.6"/>
<ellipse cx="382.2" cy="84.3" rx="2.35" ry="2.6"/>
<ellipse cx="386.3" cy="84.3" rx="2.35" ry="2.6"/>
<ellipse cx="390.5" cy="84.3" rx="2.35" ry="2.6"/>
<ellipse cx="319.8" cy="89.6" rx="2.35" ry="2.6"/>
<ellipse cx="324" cy="89.6" rx="2.35" ry="2.6"/>
<ellipse cx="361.4" cy="89.6" rx="2.35" ry="2.6"/>
<ellipse cx="365.5" cy="89.6" rx="2.35" ry="2.6"/>
<ellipse cx="369.7" cy="89.6" rx="2.35" ry="2.6"/>
<ellipse cx="373.9" cy="89.6" rx="2.35" ry="2.6"/>
<ellipse cx="378" cy="89.6" rx="2.35" ry="2.6"/>
<ellipse cx="382.2" cy="89.6" rx="2.35" ry="2.6"/>
<ellipse cx="361.4" cy="94.9" rx="2.35" ry="2.6"/>
<ellipse cx="365.5" cy="94.9" rx="2.35" ry="2.6"/>
<ellipse cx="369.7" cy="94.9" rx="2.35" ry="2.6"/>
<ellipse cx="373.9" cy="94.9" rx="2.35" ry="2.6"/>
<ellipse cx="378" cy="94.9" rx="2.35" ry="2.6"/>
<ellipse cx="382.2" cy="94.9" rx="2.35" ry="2.6"/>
<ellipse cx="386.3" cy="94.9" rx="2.35" ry="2.6"/>
<ellipse cx="390.5" cy="94.9" rx="2.35" ry="2.6"/>
<ellipse cx="394.6" cy="94.9" rx="2.35" ry="2.6"/>
<ellipse cx="398.8" cy="94.9" rx="2.35" ry="2.6"/>
<ellipse cx="407.1" cy="94.9" rx="2.35" ry="2.6"/>
<ellipse cx="328.2" cy="100.2" rx="2.35" ry="2.6"/>
<ellipse cx="348.9" cy="100.2" rx="2.35" ry="2.6"/>
<ellipse cx="353.1" cy="100.2" rx="2.35" ry="2.6"/>
<ellipse cx="357.2" cy="100.2" rx="2.35" ry="2.6"/>
<ellipse cx="361.4" cy="100.2" rx="2.35" ry="2.6"/>
<ellipse cx="365.5" cy="100.2" rx="2.35" ry="2.6"/>
<ellipse cx="369.7" cy="100.2" rx="2.35" ry="2.6"/>
<ellipse cx="373.9" cy="100.2" rx="2.35" ry="2.6"/>
<ellipse cx="382.2" cy="100.2" rx="2.35" ry="2.6"/>
<ellipse cx="386.3" cy="100.2" rx="2.35" ry="2.6"/>
<ellipse cx="390.5" cy="100.2" rx="2.35" ry="2.6"/>
<ellipse cx="394.6" cy="100.2" rx="2.35" ry="2.6"/>
<ellipse cx="398.8" cy="100.2" rx="2.35" ry="2.6"/>
<ellipse cx="407.1" cy="100.2" rx="2.35" ry="2.6"/>
<ellipse cx="415.4" cy="100.2" rx="2.35" ry="2.6"/>
<ellipse cx="419.6" cy="100.2" rx="2.35" ry="2.6"/>
<ellipse cx="319.8" cy="105.5" rx="2.35" ry="2.6"/>
<ellipse cx="324" cy="105.5" rx="2.35" ry="2.6"/>
<ellipse cx="328.2" cy="105.5" rx="2.35" ry="2.6"/>
<ellipse cx="332.3" cy="105.5" rx="2.35" ry="2.6"/>
<ellipse cx="336.5" cy="105.5" rx="2.35" ry="2.6"/>
<ellipse cx="340.6" cy="105.5" rx="2.35" ry="2.6"/>
<ellipse cx="344.8" cy="105.5" rx="2.35" ry="2.6"/>
<ellipse cx="348.9" cy="105.5" rx="2.35" ry="2.6"/>
<ellipse cx="353.1" cy="105.5" rx="2.35" ry="2.6"/>
<ellipse cx="357.2" cy="105.5" rx="2.35" ry="2.6"/>
<ellipse cx="361.4" cy="105.5" rx="2.35" ry="2.6"/>
<ellipse cx="365.5" cy="105.5" rx="2.35" ry="2.6"/>
<ellipse cx="369.7" cy="105.5" rx="2.35" ry="2.6"/>
<ellipse cx="378" cy="105.5" rx="2.35" ry="2.6"/>
<ellipse cx="382.2" cy="105.5" rx="2.35" ry="2.6"/>
<ellipse cx="386.3" cy="105.5" rx="2.35" ry="2.6"/>
<ellipse cx="390.5" cy="105.5" rx="2.35" ry="2.6"/>
<ellipse cx="394.6" cy="105.5" rx="2.35" ry="2.6"/>
<ellipse cx="398.8" cy="105.5" rx="2.35" ry="2.6"/>
<ellipse cx="415.4" cy="105.5" rx="2.35" ry="2.6"/>
<ellipse cx="419.6" cy="105.5" rx="2.35" ry="2.6"/>
<ellipse cx="311.5" cy="110.8" rx="2.35" ry="2.6"/>
<ellipse cx="315.7" cy="110.8" rx="2.35" ry="2.6"/>
<ellipse cx="319.8" cy="110.8" rx="2.35" ry="2.6"/>
<ellipse cx="324" cy="110.8" rx="2.35" ry="2.6"/>
<ellipse cx="328.2" cy="110.8" rx="2.35" ry="2.6"/>
<ellipse cx="332.3" cy="110.8" rx="2.35" ry="2.6"/>
<ellipse cx="336.5" cy="110.8" rx="2.35" ry="2.6"/>
<ellipse cx="344.8" cy="110.8" rx="2.35" ry="2.6"/>
<ellipse cx="348.9" cy="110.8" rx="2.35" ry="2.6"/>
<ellipse cx="353.1" cy="110.8" rx="2.35" ry="2.6"/>
<ellipse cx="357.2" cy="110.8" rx="2.35" ry="2.6"/>
<ellipse cx="361.4" cy="110.8" rx="2.35" ry="2.6"/>
<ellipse cx="365.5" cy="110.8" rx="2.35" ry="2.6"/>
<ellipse cx="369.7" cy="110.8" rx="2.35" ry="2.6"/>
<ellipse cx="373.9" cy="110.8" rx="2.35" ry="2.6"/>
<ellipse cx="378" cy="110.8" rx="2.35" ry="2.6"/>
<ellipse cx="382.2" cy="110.8" rx="2.35" ry="2.6"/>
<ellipse cx="390.5" cy="110.8" rx="2.35" ry="2.6"/>
<ellipse cx="394.6" cy="110.8" rx="2.35" ry="2.6"/>
<ellipse cx="398.8" cy="110.8" rx="2.35" ry="2.6"/>
<ellipse cx="402.9" cy="110.8" rx="2.35" ry="2.6"/>
<ellipse cx="411.2" cy="110.8" rx="2.35" ry="2.6"/>
<ellipse cx="415.4" cy="110.8" rx="2.35" ry="2.6"/>
<ellipse cx="307.4" cy="116.1" rx="2.35" ry="2.6"/>
<ellipse cx="311.5" cy="116.1" rx="2.35" ry="2.6"/>
<ellipse cx="315.7" cy="116.1" rx="2.35" ry="2.6"/>
<ellipse cx="319.8" cy="116.1" rx="2.35" ry="2.6"/>
<ellipse cx="324" cy="116.1" rx="2.35" ry="2.6"/>
<ellipse cx="328.2" cy="116.1" rx="2.35" ry="2.6"/>
<ellipse cx="332.3" cy="116.1" rx="2.35" ry="2.6"/>
<ellipse cx="336.5" cy="116.1" rx="2.35" ry="2.6"/>
<ellipse cx="340.6" cy="116.1" rx="2.35" ry="2.6"/>
<ellipse cx="344.8" cy="116.1" rx="2.35" ry="2.6"/>
<ellipse cx="348.9" cy="116.1" rx="2.35" ry="2.6"/>
<ellipse cx="361.4" cy="116.1" rx="2.35" ry="2.6"/>
<ellipse cx="365.5" cy="116.1" rx="2.35" ry="2.6"/>
<ellipse cx="369.7" cy="116.1" rx="2.35" ry="2.6"/>
<ellipse cx="373.9" cy="116.1" rx="2.35" ry="2.6"/>
<ellipse cx="378" cy="116.1" rx="2.35" ry="2.6"/>
<ellipse cx="382.2" cy="116.1" rx="2.35" ry="2.6"/>
<ellipse cx="386.3" cy="116.1" rx="2.35" ry="2.6"/>
<ellipse cx="390.5" cy="116.1" rx="2.35" ry="2.6"/>
<ellipse cx="394.6" cy="116.1" rx="2.35" ry="2.6"/>
<ellipse cx="398.8" cy="116.1" rx="2.35" ry="2.6"/>
<ellipse cx="402.9" cy="116.1" rx="2.35" ry="2.6"/>
<ellipse cx="407.1" cy="116.1" rx="2.35" ry="2.6"/>
<ellipse cx="411.2" cy="116.1" rx="2.35" ry="2.6"/>
<ellipse cx="423.7" cy="116.1" rx="2.35" ry="2.6"/>
<ellipse cx="328.2" cy="121.4" rx="2.35" ry="2.6"/>
<ellipse cx="332.3" cy="121.4" rx="2.35" ry="2.6"/>
<ellipse cx="369.7" cy="121.4" rx="2.35" ry="2.6"/>
<ellipse cx="373.9" cy="121.4" rx="2.35" ry="2.6"/>
<ellipse cx="378" cy="121.4" rx="2.35" ry="2.6"/>
<ellipse cx="382.2" cy="121.4" rx="2.35" ry="2.6"/>
<ellipse cx="386.3" cy="121.4" rx="2.35" ry="2.6"/>
<ellipse cx="390.5" cy="121.4" rx="2.35" ry="2.6"/>
<ellipse cx="394.6" cy="121.4" rx="2.35" ry="2.6"/>
<ellipse cx="398.8" cy="121.4" rx="2.35" ry="2.6"/>
<ellipse cx="402.9" cy="121.4" rx="2.35" ry="2.6"/>
<ellipse cx="407.1" cy="121.4" rx="2.35" ry="2.6"/>
<ellipse cx="423.7" cy="121.4" rx="2.35" ry="2.6"/>
<ellipse cx="365.5" cy="126.7" rx="2.35" ry="2.6"/>
<ellipse cx="369.7" cy="126.7" rx="2.35" ry="2.6"/>
<ellipse cx="373.9" cy="126.7" rx="2.35" ry="2.6"/>
<ellipse cx="378" cy="126.7" rx="2.35" ry="2.6"/>
<ellipse cx="382.2" cy="126.7" rx="2.35" ry="2.6"/>
<ellipse cx="386.3" cy="126.7" rx="2.35" ry="2.6"/>
<ellipse cx="390.5" cy="126.7" rx="2.35" ry="2.6"/>
<ellipse cx="394.6" cy="126.7" rx="2.35" ry="2.6"/>
<ellipse cx="398.8" cy="126.7" rx="2.35" ry="2.6"/>
<ellipse cx="402.9" cy="126.7" rx="2.35" ry="2.6"/>
<ellipse cx="407.1" cy="126.7" rx="2.35" ry="2.6"/>
<ellipse cx="357.2" cy="132" rx="2.35" ry="2.6"/>
<ellipse cx="382.2" cy="132" rx="2.35" ry="2.6"/>
<ellipse cx="386.3" cy="132" rx="2.35" ry="2.6"/>
<ellipse cx="390.5" cy="132" rx="2.35" ry="2.6"/>
<ellipse cx="394.6" cy="132" rx="2.35" ry="2.6"/>
<ellipse cx="398.8" cy="132" rx="2.35" ry="2.6"/>
<ellipse cx="402.9" cy="132" rx="2.35" ry="2.6"/>
<ellipse cx="344.8" cy="137.3" rx="2.35" ry="2.6"/>
<ellipse cx="348.9" cy="137.3" rx="2.35" ry="2.6"/>
<ellipse cx="353.1" cy="137.3" rx="2.35" ry="2.6"/>
<ellipse cx="357.2" cy="137.3" rx="2.35" ry="2.6"/>
<ellipse cx="361.4" cy="137.3" rx="2.35" ry="2.6"/>
<ellipse cx="344.8" cy="142.6" rx="2.35" ry="2.6"/>
<ellipse cx="348.9" cy="142.6" rx="2.35" ry="2.6"/>
<ellipse cx="353.1" cy="142.6" rx="2.35" ry="2.6"/>
<ellipse cx="357.2" cy="142.6" rx="2.35" ry="2.6"/>
<ellipse cx="361.4" cy="142.6" rx="2.35" ry="2.6"/>
<ellipse cx="336.5" cy="147.9" rx="2.35" ry="2.6"/>
<ellipse cx="340.6" cy="147.9" rx="2.35" ry="2.6"/>
<ellipse cx="344.8" cy="147.9" rx="2.35" ry="2.6"/>
<ellipse cx="348.9" cy="147.9" rx="2.35" ry="2.6"/>
<ellipse cx="307.4" cy="153.2" rx="2.35" ry="2.6"/>
<ellipse cx="319.8" cy="153.2" rx="2.35" ry="2.6"/>
<ellipse cx="336.5" cy="153.2" rx="2.35" ry="2.6"/>
<ellipse cx="340.6" cy="153.2" rx="2.35" ry="2.6"/>
<ellipse cx="344.8" cy="153.2" rx="2.35" ry="2.6"/>
<ellipse cx="348.9" cy="153.2" rx="2.35" ry="2.6"/>
<ellipse cx="357.2" cy="153.2" rx="2.35" ry="2.6"/>
<ellipse cx="361.4" cy="153.2" rx="2.35" ry="2.6"/>
<ellipse cx="324" cy="158.5" rx="2.35" ry="2.6"/>
<ellipse cx="336.5" cy="158.5" rx="2.35" ry="2.6"/>
<ellipse cx="340.6" cy="158.5" rx="2.35" ry="2.6"/>
<ellipse cx="344.8" cy="158.5" rx="2.35" ry="2.6"/>
<ellipse cx="336.5" cy="163.8" rx="2.35" ry="2.6"/>
<ellipse cx="340.6" cy="163.8" rx="2.35" ry="2.6"/>
<ellipse cx="394.6" cy="163.8" rx="2.35" ry="2.6"/>
<ellipse cx="398.8" cy="163.8" rx="2.35" ry="2.6"/>
<ellipse cx="332.3" cy="169.1" rx="2.35" ry="2.6"/>
<ellipse cx="336.5" cy="169.1" rx="2.35" ry="2.6"/>
<ellipse cx="340.6" cy="169.1" rx="2.35" ry="2.6"/>
<ellipse cx="344.8" cy="169.1" rx="2.35" ry="2.6"/>
<ellipse cx="398.8" cy="169.1" rx="2.35" ry="2.6"/>
<ellipse cx="402.9" cy="169.1" rx="2.35" ry="2.6"/>
<ellipse cx="407.1" cy="169.1" rx="2.35" ry="2.6"/>
<ellipse cx="411.2" cy="169.1" rx="2.35" ry="2.6"/>
<ellipse cx="415.4" cy="169.1" rx="2.35" ry="2.6"/>
<ellipse cx="328.2" cy="174.4" rx="2.35" ry="2.6"/>
<ellipse cx="332.3" cy="174.4" rx="2.35" ry="2.6"/>
<ellipse cx="348.9" cy="174.4" rx="2.35" ry="2.6"/>
<ellipse cx="353.1" cy="174.4" rx="2.35" ry="2.6"/>
<ellipse cx="365.5" cy="174.4" rx="2.35" ry="2.6"/>
<ellipse cx="411.2" cy="174.4" rx="2.35" ry="2.6"/>
<ellipse cx="415.4" cy="174.4" rx="2.35" ry="2.6"/>
<ellipse cx="328.2" cy="179.7" rx="2.35" ry="2.6"/>
<ellipse cx="332.3" cy="179.7" rx="2.35" ry="2.6"/>
<ellipse cx="336.5" cy="179.7" rx="2.35" ry="2.6"/>
<ellipse cx="344.8" cy="179.7" rx="2.35" ry="2.6"/>
<ellipse cx="348.9" cy="179.7" rx="2.35" ry="2.6"/>
<ellipse cx="353.1" cy="179.7" rx="2.35" ry="2.6"/>
<ellipse cx="315.7" cy="185" rx="2.35" ry="2.6"/>
<ellipse cx="319.8" cy="185" rx="2.35" ry="2.6"/>
<ellipse cx="328.2" cy="185" rx="2.35" ry="2.6"/>
<ellipse cx="332.3" cy="185" rx="2.35" ry="2.6"/>
<ellipse cx="336.5" cy="185" rx="2.35" ry="2.6"/>
<ellipse cx="340.6" cy="185" rx="2.35" ry="2.6"/>
<ellipse cx="344.8" cy="185" rx="2.35" ry="2.6"/>
<ellipse cx="348.9" cy="185" rx="2.35" ry="2.6"/>
<ellipse cx="353.1" cy="185" rx="2.35" ry="2.6"/>
<ellipse cx="365.5" cy="185" rx="2.35" ry="2.6"/>
<ellipse cx="315.7" cy="190.3" rx="2.35" ry="2.6"/>
<ellipse cx="319.8" cy="190.3" rx="2.35" ry="2.6"/>
<ellipse cx="328.2" cy="190.3" rx="2.35" ry="2.6"/>
<ellipse cx="332.3" cy="190.3" rx="2.35" ry="2.6"/>
<ellipse cx="336.5" cy="190.3" rx="2.35" ry="2.6"/>
<ellipse cx="340.6" cy="190.3" rx="2.35" ry="2.6"/>
<ellipse cx="344.8" cy="190.3" rx="2.35" ry="2.6"/>
<ellipse cx="348.9" cy="190.3" rx="2.35" ry="2.6"/>
<ellipse cx="353.1" cy="190.3" rx="2.35" ry="2.6"/>
<ellipse cx="357.2" cy="190.3" rx="2.35" ry="2.6"/>
<ellipse cx="361.4" cy="190.3" rx="2.35" ry="2.6"/>
<ellipse cx="365.5" cy="190.3" rx="2.35" ry="2.6"/>
<ellipse cx="369.7" cy="190.3" rx="2.35" ry="2.6"/>
<ellipse cx="440.3" cy="190.3" rx="2.35" ry="2.6"/>
<ellipse cx="319.8" cy="195.6" rx="2.35" ry="2.6"/>
<ellipse cx="328.2" cy="195.6" rx="2.35" ry="2.6"/>
<ellipse cx="332.3" cy="195.6" rx="2.35" ry="2.6"/>
<ellipse cx="336.5" cy="195.6" rx="2.35" ry="2.6"/>
<ellipse cx="340.6" cy="195.6" rx="2.35" ry="2.6"/>
<ellipse cx="344.8" cy="195.6" rx="2.35" ry="2.6"/>
<ellipse cx="348.9" cy="195.6" rx="2.35" ry="2.6"/>
<ellipse cx="353.1" cy="195.6" rx="2.35" ry="2.6"/>
<ellipse cx="357.2" cy="195.6" rx="2.35" ry="2.6"/>
<ellipse cx="361.4" cy="195.6" rx="2.35" ry="2.6"/>
<ellipse cx="324" cy="200.9" rx="2.35" ry="2.6"/>
<ellipse cx="328.2" cy="200.9" rx="2.35" ry="2.6"/>
<ellipse cx="332.3" cy="200.9" rx="2.35" ry="2.6"/>
<ellipse cx="336.5" cy="200.9" rx="2.35" ry="2.6"/>
<ellipse cx="340.6" cy="200.9" rx="2.35" ry="2.6"/>
<ellipse cx="344.8" cy="200.9" rx="2.35" ry="2.6"/>
<ellipse cx="348.9" cy="200.9" rx="2.35" ry="2.6"/>
<ellipse cx="353.1" cy="200.9" rx="2.35" ry="2.6"/>
<ellipse cx="357.2" cy="200.9" rx="2.35" ry="2.6"/>
<ellipse cx="361.4" cy="200.9" rx="2.35" ry="2.6"/>
<ellipse cx="324" cy="206.2" rx="2.35" ry="2.6"/>
<ellipse cx="328.2" cy="206.2" rx="2.35" ry="2.6"/>
<ellipse cx="332.3" cy="206.2" rx="2.35" ry="2.6"/>
<ellipse cx="340.6" cy="206.2" rx="2.35" ry="2.6"/>
<ellipse cx="344.8" cy="206.2" rx="2.35" ry="2.6"/>
<ellipse cx="348.9" cy="206.2" rx="2.35" ry="2.6"/>
<ellipse cx="353.1" cy="206.2" rx="2.35" ry="2.6"/>
<ellipse cx="357.2" cy="206.2" rx="2.35" ry="2.6"/>
<ellipse cx="361.4" cy="206.2" rx="2.35" ry="2.6"/>
<ellipse cx="452.8" cy="206.2" rx="2.35" ry="2.6"/>
<ellipse cx="457" cy="206.2" rx="2.35" ry="2.6"/>
<ellipse cx="324" cy="211.5" rx="2.35" ry="2.6"/>
<ellipse cx="328.2" cy="211.5" rx="2.35" ry="2.6"/>
<ellipse cx="340.6" cy="211.5" rx="2.35" ry="2.6"/>
<ellipse cx="344.8" cy="211.5" rx="2.35" ry="2.6"/>
<ellipse cx="348.9" cy="211.5" rx="2.35" ry="2.6"/>
<ellipse cx="353.1" cy="211.5" rx="2.35" ry="2.6"/>
<ellipse cx="357.2" cy="211.5" rx="2.35" ry="2.6"/>
<ellipse cx="361.4" cy="211.5" rx="2.35" ry="2.6"/>
<ellipse cx="448.6" cy="211.5" rx="2.35" ry="2.6"/>
<ellipse cx="452.8" cy="211.5" rx="2.35" ry="2.6"/>
<ellipse cx="457" cy="211.5" rx="2.35" ry="2.6"/>
<ellipse cx="286.6" cy="216.8" rx="2.35" ry="2.6"/>
<ellipse cx="290.8" cy="216.8" rx="2.35" ry="2.6"/>
<ellipse cx="294.9" cy="216.8" rx="2.35" ry="2.6"/>
<ellipse cx="340.6" cy="216.8" rx="2.35" ry="2.6"/>
<ellipse cx="344.8" cy="216.8" rx="2.35" ry="2.6"/>
<ellipse cx="348.9" cy="216.8" rx="2.35" ry="2.6"/>
<ellipse cx="353.1" cy="216.8" rx="2.35" ry="2.6"/>
<ellipse cx="357.2" cy="216.8" rx="2.35" ry="2.6"/>
<ellipse cx="361.4" cy="216.8" rx="2.35" ry="2.6"/>
<ellipse cx="444.5" cy="216.8" rx="2.35" ry="2.6"/>
<ellipse cx="448.6" cy="216.8" rx="2.35" ry="2.6"/>
<ellipse cx="452.8" cy="216.8" rx="2.35" ry="2.6"/>
<ellipse cx="457" cy="216.8" rx="2.35" ry="2.6"/>
<ellipse cx="282.4" cy="222.1" rx="2.35" ry="2.6"/>
<ellipse cx="286.6" cy="222.1" rx="2.35" ry="2.6"/>
<ellipse cx="290.8" cy="222.1" rx="2.35" ry="2.6"/>
<ellipse cx="294.9" cy="222.1" rx="2.35" ry="2.6"/>
<ellipse cx="299.1" cy="222.1" rx="2.35" ry="2.6"/>
<ellipse cx="344.8" cy="222.1" rx="2.35" ry="2.6"/>
<ellipse cx="348.9" cy="222.1" rx="2.35" ry="2.6"/>
<ellipse cx="353.1" cy="222.1" rx="2.35" ry="2.6"/>
<ellipse cx="357.2" cy="222.1" rx="2.35" ry="2.6"/>
<ellipse cx="361.4" cy="222.1" rx="2.35" ry="2.6"/>
<ellipse cx="365.5" cy="222.1" rx="2.35" ry="2.6"/>
<ellipse cx="432" cy="222.1" rx="2.35" ry="2.6"/>
<ellipse cx="436.2" cy="222.1" rx="2.35" ry="2.6"/>
<ellipse cx="440.3" cy="222.1" rx="2.35" ry="2.6"/>
<ellipse cx="444.5" cy="222.1" rx="2.35" ry="2.6"/>
<ellipse cx="282.4" cy="227.4" rx="2.35" ry="2.6"/>
<ellipse cx="286.6" cy="227.4" rx="2.35" ry="2.6"/>
<ellipse cx="290.8" cy="227.4" rx="2.35" ry="2.6"/>
<ellipse cx="294.9" cy="227.4" rx="2.35" ry="2.6"/>
<ellipse cx="299.1" cy="227.4" rx="2.35" ry="2.6"/>
<ellipse cx="340.6" cy="227.4" rx="2.35" ry="2.6"/>
<ellipse cx="344.8" cy="227.4" rx="2.35" ry="2.6"/>
<ellipse cx="348.9" cy="227.4" rx="2.35" ry="2.6"/>
<ellipse cx="353.1" cy="227.4" rx="2.35" ry="2.6"/>
<ellipse cx="357.2" cy="227.4" rx="2.35" ry="2.6"/>
<ellipse cx="361.4" cy="227.4" rx="2.35" ry="2.6"/>
<ellipse cx="365.5" cy="227.4" rx="2.35" ry="2.6"/>
<ellipse cx="369.7" cy="227.4" rx="2.35" ry="2.6"/>
<ellipse cx="427.9" cy="227.4" rx="2.35" ry="2.6"/>
<ellipse cx="432" cy="227.4" rx="2.35" ry="2.6"/>
<ellipse cx="436.2" cy="227.4" rx="2.35" ry="2.6"/>
<ellipse cx="440.3" cy="227.4" rx="2.35" ry="2.6"/>
<ellipse cx="444.5" cy="227.4" rx="2.35" ry="2.6"/>
<ellipse cx="282.4" cy="232.7" rx="2.35" ry="2.6"/>
<ellipse cx="286.6" cy="232.7" rx="2.35" ry="2.6"/>
<ellipse cx="290.8" cy="232.7" rx="2.35" ry="2.6"/>
<ellipse cx="336.5" cy="232.7" rx="2.35" ry="2.6"/>
<ellipse cx="340.6" cy="232.7" rx="2.35" ry="2.6"/>
<ellipse cx="344.8" cy="232.7" rx="2.35" ry="2.6"/>
<ellipse cx="348.9" cy="232.7" rx="2.35" ry="2.6"/>
<ellipse cx="353.1" cy="232.7" rx="2.35" ry="2.6"/>
<ellipse cx="357.2" cy="232.7" rx="2.35" ry="2.6"/>
<ellipse cx="361.4" cy="232.7" rx="2.35" ry="2.6"/>
<ellipse cx="365.5" cy="232.7" rx="2.35" ry="2.6"/>
<ellipse cx="369.7" cy="232.7" rx="2.35" ry="2.6"/>
<ellipse cx="373.9" cy="232.7" rx="2.35" ry="2.6"/>
<ellipse cx="427.9" cy="232.7" rx="2.35" ry="2.6"/>
<ellipse cx="432" cy="232.7" rx="2.35" ry="2.6"/>
<ellipse cx="328.2" cy="238" rx="2.35" ry="2.6"/>
<ellipse cx="332.3" cy="238" rx="2.35" ry="2.6"/>
<ellipse cx="336.5" cy="238" rx="2.35" ry="2.6"/>
<ellipse cx="340.6" cy="238" rx="2.35" ry="2.6"/>
<ellipse cx="344.8" cy="238" rx="2.35" ry="2.6"/>
<ellipse cx="348.9" cy="238" rx="2.35" ry="2.6"/>
<ellipse cx="353.1" cy="238" rx="2.35" ry="2.6"/>
<ellipse cx="357.2" cy="238" rx="2.35" ry="2.6"/>
<ellipse cx="361.4" cy="238" rx="2.35" ry="2.6"/>
<ellipse cx="365.5" cy="238" rx="2.35" ry="2.6"/>
<ellipse cx="369.7" cy="238" rx="2.35" ry="2.6"/>
<ellipse cx="373.9" cy="238" rx="2.35" ry="2.6"/>
<ellipse cx="328.2" cy="243.3" rx="2.35" ry="2.6"/>
<ellipse cx="332.3" cy="243.3" rx="2.35" ry="2.6"/>
<ellipse cx="336.5" cy="243.3" rx="2.35" ry="2.6"/>
<ellipse cx="340.6" cy="243.3" rx="2.35" ry="2.6"/>
<ellipse cx="344.8" cy="243.3" rx="2.35" ry="2.6"/>
<ellipse cx="348.9" cy="243.3" rx="2.35" ry="2.6"/>
<ellipse cx="353.1" cy="243.3" rx="2.35" ry="2.6"/>
<ellipse cx="357.2" cy="243.3" rx="2.35" ry="2.6"/>
<ellipse cx="361.4" cy="243.3" rx="2.35" ry="2.6"/>
<ellipse cx="365.5" cy="243.3" rx="2.35" ry="2.6"/>
<ellipse cx="369.7" cy="243.3" rx="2.35" ry="2.6"/>
<ellipse cx="373.9" cy="243.3" rx="2.35" ry="2.6"/>
<ellipse cx="332.3" cy="248.6" rx="2.35" ry="2.6"/>
<ellipse cx="336.5" cy="248.6" rx="2.35" ry="2.6"/>
<ellipse cx="340.6" cy="248.6" rx="2.35" ry="2.6"/>
<ellipse cx="344.8" cy="248.6" rx="2.35" ry="2.6"/>
<ellipse cx="348.9" cy="248.6" rx="2.35" ry="2.6"/>
<ellipse cx="353.1" cy="248.6" rx="2.35" ry="2.6"/>
<ellipse cx="357.2" cy="248.6" rx="2.35" ry="2.6"/>
<ellipse cx="361.4" cy="248.6" rx="2.35" ry="2.6"/>
<ellipse cx="365.5" cy="248.6" rx="2.35" ry="2.6"/>
<ellipse cx="369.7" cy="248.6" rx="2.35" ry="2.6"/>
<ellipse cx="336.5" cy="253.9" rx="2.35" ry="2.6"/>
<ellipse cx="340.6" cy="253.9" rx="2.35" ry="2.6"/>
<ellipse cx="344.8" cy="253.9" rx="2.35" ry="2.6"/>
<ellipse cx="348.9" cy="253.9" rx="2.35" ry="2.6"/>
<ellipse cx="353.1" cy="253.9" rx="2.35" ry="2.6"/>
<ellipse cx="357.2" cy="253.9" rx="2.35" ry="2.6"/>
<ellipse cx="361.4" cy="253.9" rx="2.35" ry="2.6"/>
<ellipse cx="365.5" cy="253.9" rx="2.35" ry="2.6"/>
<ellipse cx="340.6" cy="259.2" rx="2.35" ry="2.6"/>
<ellipse cx="344.8" cy="259.2" rx="2.35" ry="2.6"/>
<ellipse cx="348.9" cy="259.2" rx="2.35" ry="2.6"/>
<ellipse cx="353.1" cy="259.2" rx="2.35" ry="2.6"/>
<ellipse cx="357.2" cy="259.2" rx="2.35" ry="2.6"/>
<ellipse cx="361.4" cy="259.2" rx="2.35" ry="2.6"/>
<ellipse cx="340.6" cy="264.5" rx="2.35" ry="2.6"/>
<ellipse cx="344.8" cy="264.5" rx="2.35" ry="2.6"/>
<ellipse cx="348.9" cy="264.5" rx="2.35" ry="2.6"/>
<ellipse cx="353.1" cy="264.5" rx="2.35" ry="2.6"/>
<ellipse cx="357.2" cy="264.5" rx="2.35" ry="2.6"/>
<ellipse cx="353.1" cy="269.8" rx="2.35" ry="2.6"/>
<ellipse cx="357.2" cy="269.8" rx="2.35" ry="2.6"/>
</g>
<g fill="#ff14c8">
<ellipse cx="299.1" cy="73.7" rx="2.35" ry="2.6"/>
<ellipse cx="290.8" cy="79" rx="2.35" ry="2.6"/>
<ellipse cx="294.9" cy="79" rx="2.35" ry="2.6"/>
<ellipse cx="299.1" cy="79" rx="2.35" ry="2.6"/>
<ellipse cx="303.2" cy="79" rx="2.35" ry="2.6"/>
<ellipse cx="307.4" cy="79" rx="2.35" ry="2.6"/>
<ellipse cx="332.3" cy="79" rx="2.35" ry="2.6"/>
<ellipse cx="348.9" cy="79" rx="2.35" ry="2.6"/>
<ellipse cx="353.1" cy="79" rx="2.35" ry="2.6"/>
<ellipse cx="357.2" cy="79" rx="2.35" ry="2.6"/>
<ellipse cx="286.6" cy="84.3" rx="2.35" ry="2.6"/>
<ellipse cx="290.8" cy="84.3" rx="2.35" ry="2.6"/>
<ellipse cx="294.9" cy="84.3" rx="2.35" ry="2.6"/>
<ellipse cx="299.1" cy="84.3" rx="2.35" ry="2.6"/>
<ellipse cx="303.2" cy="84.3" rx="2.35" ry="2.6"/>
<ellipse cx="307.4" cy="84.3" rx="2.35" ry="2.6"/>
<ellipse cx="311.5" cy="84.3" rx="2.35" ry="2.6"/>
<ellipse cx="324" cy="84.3" rx="2.35" ry="2.6"/>
<ellipse cx="328.2" cy="84.3" rx="2.35" ry="2.6"/>
<ellipse cx="336.5" cy="84.3" rx="2.35" ry="2.6"/>
<ellipse cx="344.8" cy="84.3" rx="2.35" ry="2.6"/>
<ellipse cx="348.9" cy="84.3" rx="2.35" ry="2.6"/>
<ellipse cx="353.1" cy="84.3" rx="2.35" ry="2.6"/>
<ellipse cx="357.2" cy="84.3" rx="2.35" ry="2.6"/>
<ellipse cx="361.4" cy="84.3" rx="2.35" ry="2.6"/>
<ellipse cx="307.4" cy="89.6" rx="2.35" ry="2.6"/>
<ellipse cx="311.5" cy="89.6" rx="2.35" ry="2.6"/>
<ellipse cx="315.7" cy="89.6" rx="2.35" ry="2.6"/>
<ellipse cx="328.2" cy="89.6" rx="2.35" ry="2.6"/>
<ellipse cx="332.3" cy="89.6" rx="2.35" ry="2.6"/>
<ellipse cx="336.5" cy="89.6" rx="2.35" ry="2.6"/>
<ellipse cx="340.6" cy="89.6" rx="2.35" ry="2.6"/>
<ellipse cx="344.8" cy="89.6" rx="2.35" ry="2.6"/>
<ellipse cx="348.9" cy="89.6" rx="2.35" ry="2.6"/>
<ellipse cx="353.1" cy="89.6" rx="2.35" ry="2.6"/>
<ellipse cx="357.2" cy="89.6" rx="2.35" ry="2.6"/>
<ellipse cx="444.5" cy="89.6" rx="2.35" ry="2.6"/>
<ellipse cx="452.8" cy="89.6" rx="2.35" ry="2.6"/>
<ellipse cx="307.4" cy="94.9" rx="2.35" ry="2.6"/>
<ellipse cx="311.5" cy="94.9" rx="2.35" ry="2.6"/>
<ellipse cx="315.7" cy="94.9" rx="2.35" ry="2.6"/>
<ellipse cx="319.8" cy="94.9" rx="2.35" ry="2.6"/>
<ellipse cx="324" cy="94.9" rx="2.35" ry="2.6"/>
<ellipse cx="328.2" cy="94.9" rx="2.35" ry="2.6"/>
<ellipse cx="332.3" cy="94.9" rx="2.35" ry="2.6"/>
<ellipse cx="336.5" cy="94.9" rx="2.35" ry="2.6"/>
<ellipse cx="340.6" cy="94.9" rx="2.35" ry="2.6"/>
<ellipse cx="344.8" cy="94.9" rx="2.35" ry="2.6"/>
<ellipse cx="348.9" cy="94.9" rx="2.35" ry="2.6"/>
<ellipse cx="353.1" cy="94.9" rx="2.35" ry="2.6"/>
<ellipse cx="357.2" cy="94.9" rx="2.35" ry="2.6"/>
<ellipse cx="444.5" cy="94.9" rx="2.35" ry="2.6"/>
<ellipse cx="307.4" cy="100.2" rx="2.35" ry="2.6"/>
<ellipse cx="311.5" cy="100.2" rx="2.35" ry="2.6"/>
<ellipse cx="315.7" cy="100.2" rx="2.35" ry="2.6"/>
<ellipse cx="319.8" cy="100.2" rx="2.35" ry="2.6"/>
<ellipse cx="324" cy="100.2" rx="2.35" ry="2.6"/>
<ellipse cx="332.3" cy="100.2" rx="2.35" ry="2.6"/>
<ellipse cx="336.5" cy="100.2" rx="2.35" ry="2.6"/>
<ellipse cx="340.6" cy="100.2" rx="2.35" ry="2.6"/>
<ellipse cx="344.8" cy="100.2" rx="2.35" ry="2.6"/>
<ellipse cx="444.5" cy="100.2" rx="2.35" ry="2.6"/>
<ellipse cx="448.6" cy="100.2" rx="2.35" ry="2.6"/>
<ellipse cx="452.8" cy="100.2" rx="2.35" ry="2.6"/>
<ellipse cx="457" cy="100.2" rx="2.35" ry="2.6"/>
<ellipse cx="303.2" cy="105.5" rx="2.35" ry="2.6"/>
<ellipse cx="307.4" cy="105.5" rx="2.35" ry="2.6"/>
<ellipse cx="311.5" cy="105.5" rx="2.35" ry="2.6"/>
<ellipse cx="315.7" cy="105.5" rx="2.35" ry="2.6"/>
<ellipse cx="432" cy="105.5" rx="2.35" ry="2.6"/>
<ellipse cx="440.3" cy="105.5" rx="2.35" ry="2.6"/>
<ellipse cx="444.5" cy="105.5" rx="2.35" ry="2.6"/>
<ellipse cx="448.6" cy="105.5" rx="2.35" ry="2.6"/>
<ellipse cx="452.8" cy="105.5" rx="2.35" ry="2.6"/>
<ellipse cx="457" cy="105.5" rx="2.35" ry="2.6"/>
<ellipse cx="461.1" cy="105.5" rx="2.35" ry="2.6"/>
<ellipse cx="303.2" cy="110.8" rx="2.35" ry="2.6"/>
<ellipse cx="307.4" cy="110.8" rx="2.35" ry="2.6"/>
<ellipse cx="407.1" cy="110.8" rx="2.35" ry="2.6"/>
<ellipse cx="427.9" cy="110.8" rx="2.35" ry="2.6"/>
<ellipse cx="432" cy="110.8" rx="2.35" ry="2.6"/>
<ellipse cx="436.2" cy="110.8" rx="2.35" ry="2.6"/>
<ellipse cx="440.3" cy="110.8" rx="2.35" ry="2.6"/>
<ellipse cx="444.5" cy="110.8" rx="2.35" ry="2.6"/>
<ellipse cx="448.6" cy="110.8" rx="2.35" ry="2.6"/>
<ellipse cx="452.8" cy="110.8" rx="2.35" ry="2.6"/>
<ellipse cx="457" cy="110.8" rx="2.35" ry="2.6"/>
<ellipse cx="461.1" cy="110.8" rx="2.35" ry="2.6"/>
<ellipse cx="465.3" cy="110.8" rx="2.35" ry="2.6"/>
<ellipse cx="427.9" cy="116.1" rx="2.35" ry="2.6"/>
<ellipse cx="432" cy="116.1" rx="2.35" ry="2.6"/>
<ellipse cx="436.2" cy="116.1" rx="2.35" ry="2.6"/>
<ellipse cx="440.3" cy="116.1" rx="2.35" ry="2.6"/>
<ellipse cx="444.5" cy="116.1" rx="2.35" ry="2.6"/>
<ellipse cx="448.6" cy="116.1" rx="2.35" ry="2.6"/>
<ellipse cx="452.8" cy="116.1" rx="2.35" ry="2.6"/>
<ellipse cx="457" cy="116.1" rx="2.35" ry="2.6"/>
<ellipse cx="461.1" cy="116.1" rx="2.35" ry="2.6"/>
<ellipse cx="465.3" cy="116.1" rx="2.35" ry="2.6"/>
<ellipse cx="344.8" cy="121.4" rx="2.35" ry="2.6"/>
<ellipse cx="411.2" cy="121.4" rx="2.35" ry="2.6"/>
<ellipse cx="415.4" cy="121.4" rx="2.35" ry="2.6"/>
<ellipse cx="419.6" cy="121.4" rx="2.35" ry="2.6"/>
<ellipse cx="427.9" cy="121.4" rx="2.35" ry="2.6"/>
<ellipse cx="432" cy="121.4" rx="2.35" ry="2.6"/>
<ellipse cx="436.2" cy="121.4" rx="2.35" ry="2.6"/>
<ellipse cx="411.2" cy="126.7" rx="2.35" ry="2.6"/>
<ellipse cx="415.4" cy="126.7" rx="2.35" ry="2.6"/>
<ellipse cx="419.6" cy="126.7" rx="2.35" ry="2.6"/>
<ellipse cx="423.7" cy="126.7" rx="2.35" ry="2.6"/>
<ellipse cx="427.9" cy="126.7" rx="2.35" ry="2.6"/>
<ellipse cx="361.4" cy="132" rx="2.35" ry="2.6"/>
<ellipse cx="365.5" cy="132" rx="2.35" ry="2.6"/>
<ellipse cx="369.7" cy="132" rx="2.35" ry="2.6"/>
<ellipse cx="373.9" cy="132" rx="2.35" ry="2.6"/>
<ellipse cx="378" cy="132" rx="2.35" ry="2.6"/>
<ellipse cx="407.1" cy="132" rx="2.35" ry="2.6"/>
<ellipse cx="411.2" cy="132" rx="2.35" ry="2.6"/>
<ellipse cx="415.4" cy="132" rx="2.35" ry="2.6"/>
<ellipse cx="419.6" cy="132" rx="2.35" ry="2.6"/>
<ellipse cx="423.7" cy="132" rx="2.35" ry="2.6"/>
<ellipse cx="427.9" cy="132" rx="2.35" ry="2.6"/>
<ellipse cx="365.5" cy="137.3" rx="2.35" ry="2.6"/>
<ellipse cx="369.7" cy="137.3" rx="2.35" ry="2.6"/>
<ellipse cx="373.9" cy="137.3" rx="2.35" ry="2.6"/>
<ellipse cx="378" cy="137.3" rx="2.35" ry="2.6"/>
<ellipse cx="382.2" cy="137.3" rx="2.35" ry="2.6"/>
<ellipse cx="386.3" cy="137.3" rx="2.35" ry="2.6"/>
<ellipse cx="390.5" cy="137.3" rx="2.35" ry="2.6"/>
<ellipse cx="394.6" cy="137.3" rx="2.35" ry="2.6"/>
<ellipse cx="398.8" cy="137.3" rx="2.35" ry="2.6"/>
<ellipse cx="402.9" cy="137.3" rx="2.35" ry="2.6"/>
<ellipse cx="407.1" cy="137.3" rx="2.35" ry="2.6"/>
<ellipse cx="411.2" cy="137.3" rx="2.35" ry="2.6"/>
<ellipse cx="415.4" cy="137.3" rx="2.35" ry="2.6"/>
<ellipse cx="419.6" cy="137.3" rx="2.35" ry="2.6"/>
<ellipse cx="423.7" cy="137.3" rx="2.35" ry="2.6"/>
<ellipse cx="427.9" cy="137.3" rx="2.35" ry="2.6"/>
<ellipse cx="365.5" cy="142.6" rx="2.35" ry="2.6"/>
<ellipse cx="369.7" cy="142.6" rx="2.35" ry="2.6"/>
<ellipse cx="373.9" cy="142.6" rx="2.35" ry="2.6"/>
<ellipse cx="378" cy="142.6" rx="2.35" ry="2.6"/>
<ellipse cx="382.2" cy="142.6" rx="2.35" ry="2.6"/>
<ellipse cx="386.3" cy="142.6" rx="2.35" ry="2.6"/>
<ellipse cx="390.5" cy="142.6" rx="2.35" ry="2.6"/>
<ellipse cx="394.6" cy="142.6" rx="2.35" ry="2.6"/>
<ellipse cx="398.8" cy="142.6" rx="2.35" ry="2.6"/>
<ellipse cx="402.9" cy="142.6" rx="2.35" ry="2.6"/>
<ellipse cx="407.1" cy="142.6" rx="2.35" ry="2.6"/>
<ellipse cx="411.2" cy="142.6" rx="2.35" ry="2.6"/>
<ellipse cx="415.4" cy="142.6" rx="2.35" ry="2.6"/>
<ellipse cx="419.6" cy="142.6" rx="2.35" ry="2.6"/>
<ellipse cx="423.7" cy="142.6" rx="2.35" ry="2.6"/>
<ellipse cx="427.9" cy="142.6" rx="2.35" ry="2.6"/>
<ellipse cx="353.1" cy="147.9" rx="2.35" ry="2.6"/>
<ellipse cx="357.2" cy="147.9" rx="2.35" ry="2.6"/>
<ellipse cx="361.4" cy="147.9" rx="2.35" ry="2.6"/>
<ellipse cx="365.5" cy="147.9" rx="2.35" ry="2.6"/>
<ellipse cx="369.7" cy="147.9" rx="2.35" ry="2.6"/>
<ellipse cx="373.9" cy="147.9" rx="2.35" ry="2.6"/>
<ellipse cx="378" cy="147.9" rx="2.35" ry="2.6"/>
<ellipse cx="382.2" cy="147.9" rx="2.35" ry="2.6"/>
<ellipse cx="386.3" cy="147.9" rx="2.35" ry="2.6"/>
<ellipse cx="390.5" cy="147.9" rx="2.35" ry="2.6"/>
<ellipse cx="394.6" cy="147.9" rx="2.35" ry="2.6"/>
<ellipse cx="398.8" cy="147.9" rx="2.35" ry="2.6"/>
<ellipse cx="402.9" cy="147.9" rx="2.35" ry="2.6"/>
<ellipse cx="407.1" cy="147.9" rx="2.35" ry="2.6"/>
<ellipse cx="411.2" cy="147.9" rx="2.35" ry="2.6"/>
<ellipse cx="415.4" cy="147.9" rx="2.35" ry="2.6"/>
<ellipse cx="419.6" cy="147.9" rx="2.35" ry="2.6"/>
<ellipse cx="423.7" cy="147.9" rx="2.35" ry="2.6"/>
<ellipse cx="427.9" cy="147.9" rx="2.35" ry="2.6"/>
<ellipse cx="353.1" cy="153.2" rx="2.35" ry="2.6"/>
<ellipse cx="365.5" cy="153.2" rx="2.35" ry="2.6"/>
<ellipse cx="369.7" cy="153.2" rx="2.35" ry="2.6"/>
<ellipse cx="373.9" cy="153.2" rx="2.35" ry="2.6"/>
<ellipse cx="378" cy="153.2" rx="2.35" ry="2.6"/>
<ellipse cx="382.2" cy="153.2" rx="2.35" ry="2.6"/>
<ellipse cx="386.3" cy="153.2" rx="2.35" ry="2.6"/>
<ellipse cx="390.5" cy="153.2" rx="2.35" ry="2.6"/>
<ellipse cx="394.6" cy="153.2" rx="2.35" ry="2.6"/>
<ellipse cx="398.8" cy="153.2" rx="2.35" ry="2.6"/>
<ellipse cx="402.9" cy="153.2" rx="2.35" ry="2.6"/>
<ellipse cx="407.1" cy="153.2" rx="2.35" ry="2.6"/>
<ellipse cx="411.2" cy="153.2" rx="2.35" ry="2.6"/>
<ellipse cx="415.4" cy="153.2" rx="2.35" ry="2.6"/>
<ellipse cx="419.6" cy="153.2" rx="2.35" ry="2.6"/>
<ellipse cx="423.7" cy="153.2" rx="2.35" ry="2.6"/>
<ellipse cx="427.9" cy="153.2" rx="2.35" ry="2.6"/>
<ellipse cx="432" cy="153.2" rx="2.35" ry="2.6"/>
<ellipse cx="348.9" cy="158.5" rx="2.35" ry="2.6"/>
<ellipse cx="353.1" cy="158.5" rx="2.35" ry="2.6"/>
<ellipse cx="357.2" cy="158.5" rx="2.35" ry="2.6"/>
<ellipse cx="361.4" cy="158.5" rx="2.35" ry="2.6"/>
<ellipse cx="365.5" cy="158.5" rx="2.35" ry="2.6"/>
<ellipse cx="369.7" cy="158.5" rx="2.35" ry="2.6"/>
<ellipse cx="373.9" cy="158.5" rx="2.35" ry="2.6"/>
<ellipse cx="378" cy="158.5" rx="2.35" ry="2.6"/>
<ellipse cx="382.2" cy="158.5" rx="2.35" ry="2.6"/>
<ellipse cx="386.3" cy="158.5" rx="2.35" ry="2.6"/>
<ellipse cx="390.5" cy="158.5" rx="2.35" ry="2.6"/>
<ellipse cx="394.6" cy="158.5" rx="2.35" ry="2.6"/>
<ellipse cx="398.8" cy="158.5" rx="2.35" ry="2.6"/>
<ellipse cx="402.9" cy="158.5" rx="2.35" ry="2.6"/>
<ellipse cx="407.1" cy="158.5" rx="2.35" ry="2.6"/>
<ellipse cx="411.2" cy="158.5" rx="2.35" ry="2.6"/>
<ellipse cx="415.4" cy="158.5" rx="2.35" ry="2.6"/>
<ellipse cx="419.6" cy="158.5" rx="2.35" ry="2.6"/>
<ellipse cx="423.7" cy="158.5" rx="2.35" ry="2.6"/>
<ellipse cx="427.9" cy="158.5" rx="2.35" ry="2.6"/>
<ellipse cx="432" cy="158.5" rx="2.35" ry="2.6"/>
<ellipse cx="344.8" cy="163.8" rx="2.35" ry="2.6"/>
<ellipse cx="348.9" cy="163.8" rx="2.35" ry="2.6"/>
<ellipse cx="353.1" cy="163.8" rx="2.35" ry="2.6"/>
<ellipse cx="357.2" cy="163.8" rx="2.35" ry="2.6"/>
<ellipse cx="361.4" cy="163.8" rx="2.35" ry="2.6"/>
<ellipse cx="365.5" cy="163.8" rx="2.35" ry="2.6"/>
<ellipse cx="369.7" cy="163.8" rx="2.35" ry="2.6"/>
<ellipse cx="373.9" cy="163.8" rx="2.35" ry="2.6"/>
<ellipse cx="378" cy="163.8" rx="2.35" ry="2.6"/>
<ellipse cx="382.2" cy="163.8" rx="2.35" ry="2.6"/>
<ellipse cx="386.3" cy="163.8" rx="2.35" ry="2.6"/>
<ellipse cx="390.5" cy="163.8" rx="2.35" ry="2.6"/>
<ellipse cx="402.9" cy="163.8" rx="2.35" ry="2.6"/>
<ellipse cx="407.1" cy="163.8" rx="2.35" ry="2.6"/>
<ellipse cx="411.2" cy="163.8" rx="2.35" ry="2.6"/>
<ellipse cx="415.4" cy="163.8" rx="2.35" ry="2.6"/>
<ellipse cx="419.6" cy="163.8" rx="2.35" ry="2.6"/>
<ellipse cx="423.7" cy="163.8" rx="2.35" ry="2.6"/>
<ellipse cx="427.9" cy="163.8" rx="2.35" ry="2.6"/>
<ellipse cx="432" cy="163.8" rx="2.35" ry="2.6"/>
<ellipse cx="436.2" cy="163.8" rx="2.35" ry="2.6"/>
<ellipse cx="440.3" cy="163.8" rx="2.35" ry="2.6"/>
<ellipse cx="348.9" cy="169.1" rx="2.35" ry="2.6"/>
<ellipse cx="353.1" cy="169.1" rx="2.35" ry="2.6"/>
<ellipse cx="357.2" cy="169.1" rx="2.35" ry="2.6"/>
<ellipse cx="361.4" cy="169.1" rx="2.35" ry="2.6"/>
<ellipse cx="365.5" cy="169.1" rx="2.35" ry="2.6"/>
<ellipse cx="369.7" cy="169.1" rx="2.35" ry="2.6"/>
<ellipse cx="373.9" cy="169.1" rx="2.35" ry="2.6"/>
<ellipse cx="378" cy="169.1" rx="2.35" ry="2.6"/>
<ellipse cx="382.2" cy="169.1" rx="2.35" ry="2.6"/>
<ellipse cx="386.3" cy="169.1" rx="2.35" ry="2.6"/>
<ellipse cx="390.5" cy="169.1" rx="2.35" ry="2.6"/>
<ellipse cx="394.6" cy="169.1" rx="2.35" ry="2.6"/>
<ellipse cx="419.6" cy="169.1" rx="2.35" ry="2.6"/>
<ellipse cx="423.7" cy="169.1" rx="2.35" ry="2.6"/>
<ellipse cx="427.9" cy="169.1" rx="2.35" ry="2.6"/>
<ellipse cx="432" cy="169.1" rx="2.35" ry="2.6"/>
<ellipse cx="436.2" cy="169.1" rx="2.35" ry="2.6"/>
<ellipse cx="440.3" cy="169.1" rx="2.35" ry="2.6"/>
<ellipse cx="340.6" cy="174.4" rx="2.35" ry="2.6"/>
<ellipse cx="344.8" cy="174.4" rx="2.35" ry="2.6"/>
<ellipse cx="373.9" cy="174.4" rx="2.35" ry="2.6"/>
<ellipse cx="378" cy="174.4" rx="2.35" ry="2.6"/>
<ellipse cx="382.2" cy="174.4" rx="2.35" ry="2.6"/>
<ellipse cx="386.3" cy="174.4" rx="2.35" ry="2.6"/>
<ellipse cx="390.5" cy="174.4" rx="2.35" ry="2.6"/>
<ellipse cx="394.6" cy="174.4" rx="2.35" ry="2.6"/>
<ellipse cx="398.8" cy="174.4" rx="2.35" ry="2.6"/>
<ellipse cx="402.9" cy="174.4" rx="2.35" ry="2.6"/>
<ellipse cx="407.1" cy="174.4" rx="2.35" ry="2.6"/>
<ellipse cx="419.6" cy="174.4" rx="2.35" ry="2.6"/>
<ellipse cx="423.7" cy="174.4" rx="2.35" ry="2.6"/>
<ellipse cx="427.9" cy="174.4" rx="2.35" ry="2.6"/>
<ellipse cx="432" cy="174.4" rx="2.35" ry="2.6"/>
<ellipse cx="436.2" cy="174.4" rx="2.35" ry="2.6"/>
<ellipse cx="440.3" cy="174.4" rx="2.35" ry="2.6"/>
<ellipse cx="444.5" cy="174.4" rx="2.35" ry="2.6"/>
<ellipse cx="340.6" cy="179.7" rx="2.35" ry="2.6"/>
<ellipse cx="373.9" cy="179.7" rx="2.35" ry="2.6"/>
<ellipse cx="378" cy="179.7" rx="2.35" ry="2.6"/>
<ellipse cx="382.2" cy="179.7" rx="2.35" ry="2.6"/>
<ellipse cx="386.3" cy="179.7" rx="2.35" ry="2.6"/>
<ellipse cx="390.5" cy="179.7" rx="2.35" ry="2.6"/>
<ellipse cx="394.6" cy="179.7" rx="2.35" ry="2.6"/>
<ellipse cx="398.8" cy="179.7" rx="2.35" ry="2.6"/>
<ellipse cx="402.9" cy="179.7" rx="2.35" ry="2.6"/>
<ellipse cx="407.1" cy="179.7" rx="2.35" ry="2.6"/>
<ellipse cx="411.2" cy="179.7" rx="2.35" ry="2.6"/>
<ellipse cx="415.4" cy="179.7" rx="2.35" ry="2.6"/>
<ellipse cx="419.6" cy="179.7" rx="2.35" ry="2.6"/>
<ellipse cx="423.7" cy="179.7" rx="2.35" ry="2.6"/>
<ellipse cx="427.9" cy="179.7" rx="2.35" ry="2.6"/>
<ellipse cx="432" cy="179.7" rx="2.35" ry="2.6"/>
<ellipse cx="436.2" cy="179.7" rx="2.35" ry="2.6"/>
<ellipse cx="440.3" cy="179.7" rx="2.35" ry="2.6"/>
<ellipse cx="444.5" cy="179.7" rx="2.35" ry="2.6"/>
<ellipse cx="448.6" cy="179.7" rx="2.35" ry="2.6"/>
<ellipse cx="452.8" cy="179.7" rx="2.35" ry="2.6"/>
<ellipse cx="373.9" cy="185" rx="2.35" ry="2.6"/>
<ellipse cx="378" cy="185" rx="2.35" ry="2.6"/>
<ellipse cx="382.2" cy="185" rx="2.35" ry="2.6"/>
<ellipse cx="386.3" cy="185" rx="2.35" ry="2.6"/>
<ellipse cx="390.5" cy="185" rx="2.35" ry="2.6"/>
<ellipse cx="394.6" cy="185" rx="2.35" ry="2.6"/>
<ellipse cx="398.8" cy="185" rx="2.35" ry="2.6"/>
<ellipse cx="402.9" cy="185" rx="2.35" ry="2.6"/>
<ellipse cx="407.1" cy="185" rx="2.35" ry="2.6"/>
<ellipse cx="411.2" cy="185" rx="2.35" ry="2.6"/>
<ellipse cx="415.4" cy="185" rx="2.35" ry="2.6"/>
<ellipse cx="419.6" cy="185" rx="2.35" ry="2.6"/>
<ellipse cx="423.7" cy="185" rx="2.35" ry="2.6"/>
<ellipse cx="427.9" cy="185" rx="2.35" ry="2.6"/>
<ellipse cx="432" cy="185" rx="2.35" ry="2.6"/>
<ellipse cx="436.2" cy="185" rx="2.35" ry="2.6"/>
<ellipse cx="440.3" cy="185" rx="2.35" ry="2.6"/>
<ellipse cx="444.5" cy="185" rx="2.35" ry="2.6"/>
<ellipse cx="448.6" cy="185" rx="2.35" ry="2.6"/>
<ellipse cx="452.8" cy="185" rx="2.35" ry="2.6"/>
<ellipse cx="457" cy="185" rx="2.35" ry="2.6"/>
<ellipse cx="461.1" cy="185" rx="2.35" ry="2.6"/>
<ellipse cx="378" cy="190.3" rx="2.35" ry="2.6"/>
<ellipse cx="382.2" cy="190.3" rx="2.35" ry="2.6"/>
<ellipse cx="386.3" cy="190.3" rx="2.35" ry="2.6"/>
<ellipse cx="390.5" cy="190.3" rx="2.35" ry="2.6"/>
<ellipse cx="394.6" cy="190.3" rx="2.35" ry="2.6"/>
<ellipse cx="398.8" cy="190.3" rx="2.35" ry="2.6"/>
<ellipse cx="402.9" cy="190.3" rx="2.35" ry="2.6"/>
<ellipse cx="407.1" cy="190.3" rx="2.35" ry="2.6"/>
<ellipse cx="411.2" cy="190.3" rx="2.35" ry="2.6"/>
<ellipse cx="415.4" cy="190.3" rx="2.35" ry="2.6"/>
<ellipse cx="419.6" cy="190.3" rx="2.35" ry="2.6"/>
<ellipse cx="423.7" cy="190.3" rx="2.35" ry="2.6"/>
<ellipse cx="427.9" cy="190.3" rx="2.35" ry="2.6"/>
<ellipse cx="432" cy="190.3" rx="2.35" ry="2.6"/>
<ellipse cx="436.2" cy="190.3" rx="2.35" ry="2.6"/>
<ellipse cx="444.5" cy="190.3" rx="2.35" ry="2.6"/>
<ellipse cx="448.6" cy="190.3" rx="2.35" ry="2.6"/>
<ellipse cx="452.8" cy="190.3" rx="2.35" ry="2.6"/>
<ellipse cx="457" cy="190.3" rx="2.35" ry="2.6"/>
<ellipse cx="461.1" cy="190.3" rx="2.35" ry="2.6"/>
<ellipse cx="307.4" cy="195.6" rx="2.35" ry="2.6"/>
<ellipse cx="311.5" cy="195.6" rx="2.35" ry="2.6"/>
<ellipse cx="315.7" cy="195.6" rx="2.35" ry="2.6"/>
<ellipse cx="365.5" cy="195.6" rx="2.35" ry="2.6"/>
<ellipse cx="369.7" cy="195.6" rx="2.35" ry="2.6"/>
<ellipse cx="373.9" cy="195.6" rx="2.35" ry="2.6"/>
<ellipse cx="378" cy="195.6" rx="2.35" ry="2.6"/>
<ellipse cx="382.2" cy="195.6" rx="2.35" ry="2.6"/>
<ellipse cx="386.3" cy="195.6" rx="2.35" ry="2.6"/>
<ellipse cx="390.5" cy="195.6" rx="2.35" ry="2.6"/>
<ellipse cx="394.6" cy="195.6" rx="2.35" ry="2.6"/>
<ellipse cx="398.8" cy="195.6" rx="2.35" ry="2.6"/>
<ellipse cx="402.9" cy="195.6" rx="2.35" ry="2.6"/>
<ellipse cx="407.1" cy="195.6" rx="2.35" ry="2.6"/>
<ellipse cx="411.2" cy="195.6" rx="2.35" ry="2.6"/>
<ellipse cx="415.4" cy="195.6" rx="2.35" ry="2.6"/>
<ellipse cx="419.6" cy="195.6" rx="2.35" ry="2.6"/>
<ellipse cx="423.7" cy="195.6" rx="2.35" ry="2.6"/>
<ellipse cx="427.9" cy="195.6" rx="2.35" ry="2.6"/>
<ellipse cx="432" cy="195.6" rx="2.35" ry="2.6"/>
<ellipse cx="436.2" cy="195.6" rx="2.35" ry="2.6"/>
<ellipse cx="440.3" cy="195.6" rx="2.35" ry="2.6"/>
<ellipse cx="444.5" cy="195.6" rx="2.35" ry="2.6"/>
<ellipse cx="448.6" cy="195.6" rx="2.35" ry="2.6"/>
<ellipse cx="452.8" cy="195.6" rx="2.35" ry="2.6"/>
<ellipse cx="457" cy="195.6" rx="2.35" ry="2.6"/>
<ellipse cx="294.9" cy="200.9" rx="2.35" ry="2.6"/>
<ellipse cx="299.1" cy="200.9" rx="2.35" ry="2.6"/>
<ellipse cx="303.2" cy="200.9" rx="2.35" ry="2.6"/>
<ellipse cx="307.4" cy="200.9" rx="2.35" ry="2.6"/>
<ellipse cx="311.5" cy="200.9" rx="2.35" ry="2.6"/>
<ellipse cx="315.7" cy="200.9" rx="2.35" ry="2.6"/>
<ellipse cx="365.5" cy="200.9" rx="2.35" ry="2.6"/>
<ellipse cx="369.7" cy="200.9" rx="2.35" ry="2.6"/>
<ellipse cx="373.9" cy="200.9" rx="2.35" ry="2.6"/>
<ellipse cx="378" cy="200.9" rx="2.35" ry="2.6"/>
<ellipse cx="382.2" cy="200.9" rx="2.35" ry="2.6"/>
<ellipse cx="386.3" cy="200.9" rx="2.35" ry="2.6"/>
<ellipse cx="390.5" cy="200.9" rx="2.35" ry="2.6"/>
<ellipse cx="394.6" cy="200.9" rx="2.35" ry="2.6"/>
<ellipse cx="398.8" cy="200.9" rx="2.35" ry="2.6"/>
<ellipse cx="402.9" cy="200.9" rx="2.35" ry="2.6"/>
<ellipse cx="407.1" cy="200.9" rx="2.35" ry="2.6"/>
<ellipse cx="411.2" cy="200.9" rx="2.35" ry="2.6"/>
<ellipse cx="415.4" cy="200.9" rx="2.35" ry="2.6"/>
<ellipse cx="419.6" cy="200.9" rx="2.35" ry="2.6"/>
<ellipse cx="423.7" cy="200.9" rx="2.35" ry="2.6"/>
<ellipse cx="427.9" cy="200.9" rx="2.35" ry="2.6"/>
<ellipse cx="432" cy="200.9" rx="2.35" ry="2.6"/>
<ellipse cx="436.2" cy="200.9" rx="2.35" ry="2.6"/>
<ellipse cx="440.3" cy="200.9" rx="2.35" ry="2.6"/>
<ellipse cx="444.5" cy="200.9" rx="2.35" ry="2.6"/>
<ellipse cx="448.6" cy="200.9" rx="2.35" ry="2.6"/>
<ellipse cx="452.8" cy="200.9" rx="2.35" ry="2.6"/>
<ellipse cx="457" cy="200.9" rx="2.35" ry="2.6"/>
<ellipse cx="282.4" cy="206.2" rx="2.35" ry="2.6"/>
<ellipse cx="286.6" cy="206.2" rx="2.35" ry="2.6"/>
<ellipse cx="290.8" cy="206.2" rx="2.35" ry="2.6"/>
<ellipse cx="294.9" cy="206.2" rx="2.35" ry="2.6"/>
<ellipse cx="299.1" cy="206.2" rx="2.35" ry="2.6"/>
<ellipse cx="303.2" cy="206.2" rx="2.35" ry="2.6"/>
<ellipse cx="307.4" cy="206.2" rx="2.35" ry="2.6"/>
<ellipse cx="311.5" cy="206.2" rx="2.35" ry="2.6"/>
<ellipse cx="315.7" cy="206.2" rx="2.35" ry="2.6"/>
<ellipse cx="319.8" cy="206.2" rx="2.35" ry="2.6"/>
<ellipse cx="336.5" cy="206.2" rx="2.35" ry="2.6"/>
<ellipse cx="365.5" cy="206.2" rx="2.35" ry="2.6"/>
<ellipse cx="369.7" cy="206.2" rx="2.35" ry="2.6"/>
<ellipse cx="373.9" cy="206.2" rx="2.35" ry="2.6"/>
<ellipse cx="378" cy="206.2" rx="2.35" ry="2.6"/>
<ellipse cx="382.2" cy="206.2" rx="2.35" ry="2.6"/>
<ellipse cx="386.3" cy="206.2" rx="2.35" ry="2.6"/>
<ellipse cx="390.5" cy="206.2" rx="2.35" ry="2.6"/>
<ellipse cx="394.6" cy="206.2" rx="2.35" ry="2.6"/>
<ellipse cx="398.8" cy="206.2" rx="2.35" ry="2.6"/>
<ellipse cx="402.9" cy="206.2" rx="2.35" ry="2.6"/>
<ellipse cx="407.1" cy="206.2" rx="2.35" ry="2.6"/>
<ellipse cx="411.2" cy="206.2" rx="2.35" ry="2.6"/>
<ellipse cx="415.4" cy="206.2" rx="2.35" ry="2.6"/>
<ellipse cx="419.6" cy="206.2" rx="2.35" ry="2.6"/>
<ellipse cx="423.7" cy="206.2" rx="2.35" ry="2.6"/>
<ellipse cx="427.9" cy="206.2" rx="2.35" ry="2.6"/>
<ellipse cx="432" cy="206.2" rx="2.35" ry="2.6"/>
<ellipse cx="436.2" cy="206.2" rx="2.35" ry="2.6"/>
<ellipse cx="440.3" cy="206.2" rx="2.35" ry="2.6"/>
<ellipse cx="444.5" cy="206.2" rx="2.35" ry="2.6"/>
<ellipse cx="448.6" cy="206.2" rx="2.35" ry="2.6"/>
<ellipse cx="282.4" cy="211.5" rx="2.35" ry="2.6"/>
<ellipse cx="286.6" cy="211.5" rx="2.35" ry="2.6"/>
<ellipse cx="290.8" cy="211.5" rx="2.35" ry="2.6"/>
<ellipse cx="294.9" cy="211.5" rx="2.35" ry="2.6"/>
<ellipse cx="299.1" cy="211.5" rx="2.35" ry="2.6"/>
<ellipse cx="303.2" cy="211.5" rx="2.35" ry="2.6"/>
<ellipse cx="307.4" cy="211.5" rx="2.35" ry="2.6"/>
<ellipse cx="311.5" cy="211.5" rx="2.35" ry="2.6"/>
<ellipse cx="315.7" cy="211.5" rx="2.35" ry="2.6"/>
<ellipse cx="319.8" cy="211.5" rx="2.35" ry="2.6"/>
<ellipse cx="332.3" cy="211.5" rx="2.35" ry="2.6"/>
<ellipse cx="336.5" cy="211.5" rx="2.35" ry="2.6"/>
<ellipse cx="365.5" cy="211.5" rx="2.35" ry="2.6"/>
<ellipse cx="369.7" cy="211.5" rx="2.35" ry="2.6"/>
<ellipse cx="373.9" cy="211.5" rx="2.35" ry="2.6"/>
<ellipse cx="378" cy="211.5" rx="2.35" ry="2.6"/>
<ellipse cx="382.2" cy="211.5" rx="2.35" ry="2.6"/>
<ellipse cx="386.3" cy="211.5" rx="2.35" ry="2.6"/>
<ellipse cx="390.5" cy="211.5" rx="2.35" ry="2.6"/>
<ellipse cx="394.6" cy="211.5" rx="2.35" ry="2.6"/>
<ellipse cx="398.8" cy="211.5" rx="2.35" ry="2.6"/>
<ellipse cx="402.9" cy="211.5" rx="2.35" ry="2.6"/>
<ellipse cx="407.1" cy="211.5" rx="2.35" ry="2.6"/>
<ellipse cx="411.2" cy="211.5" rx="2.35" ry="2.6"/>
<ellipse cx="415.4" cy="211.5" rx="2.35" ry="2.6"/>
<ellipse cx="419.6" cy="211.5" rx="2.35" ry="2.6"/>
<ellipse cx="423.7" cy="211.5" rx="2.35" ry="2.6"/>
<ellipse cx="427.9" cy="211.5" rx="2.35" ry="2.6"/>
<ellipse cx="432" cy="211.5" rx="2.35" ry="2.6"/>
<ellipse cx="436.2" cy="211.5" rx="2.35" ry="2.6"/>
<ellipse cx="440.3" cy="211.5" rx="2.35" ry="2.6"/>
<ellipse cx="444.5" cy="211.5" rx="2.35" ry="2.6"/>
<ellipse cx="278.3" cy="216.8" rx="2.35" ry="2.6"/>
<ellipse cx="282.4" cy="216.8" rx="2.35" ry="2.6"/>
<ellipse cx="299.1" cy="216.8" rx="2.35" ry="2.6"/>
<ellipse cx="303.2" cy="216.8" rx="2.35" ry="2.6"/>
<ellipse cx="307.4" cy="216.8" rx="2.35" ry="2.6"/>
<ellipse cx="311.5" cy="216.8" rx="2.35" ry="2.6"/>
<ellipse cx="315.7" cy="216.8" rx="2.35" ry="2.6"/>
<ellipse cx="319.8" cy="216.8" rx="2.35" ry="2.6"/>
<ellipse cx="324" cy="216.8" rx="2.35" ry="2.6"/>
<ellipse cx="328.2" cy="216.8" rx="2.35" ry="2.6"/>
<ellipse cx="332.3" cy="216.8" rx="2.35" ry="2.6"/>
<ellipse cx="336.5" cy="216.8" rx="2.35" ry="2.6"/>
<ellipse cx="365.5" cy="216.8" rx="2.35" ry="2.6"/>
<ellipse cx="369.7" cy="216.8" rx="2.35" ry="2.6"/>
<ellipse cx="373.9" cy="216.8" rx="2.35" ry="2.6"/>
<ellipse cx="378" cy="216.8" rx="2.35" ry="2.6"/>
<ellipse cx="382.2" cy="216.8" rx="2.35" ry="2.6"/>
<ellipse cx="386.3" cy="216.8" rx="2.35" ry="2.6"/>
<ellipse cx="390.5" cy="216.8" rx="2.35" ry="2.6"/>
<ellipse cx="394.6" cy="216.8" rx="2.35" ry="2.6"/>
<ellipse cx="398.8" cy="216.8" rx="2.35" ry="2.6"/>
<ellipse cx="402.9" cy="216.8" rx="2.35" ry="2.6"/>
<ellipse cx="407.1" cy="216.8" rx="2.35" ry="2.6"/>
<ellipse cx="411.2" cy="216.8" rx="2.35" ry="2.6"/>
<ellipse cx="415.4" cy="216.8" rx="2.35" ry="2.6"/>
<ellipse cx="419.6" cy="216.8" rx="2.35" ry="2.6"/>
<ellipse cx="423.7" cy="216.8" rx="2.35" ry="2.6"/>
<ellipse cx="427.9" cy="216.8" rx="2.35" ry="2.6"/>
<ellipse cx="432" cy="216.8" rx="2.35" ry="2.6"/>
<ellipse cx="436.2" cy="216.8" rx="2.35" ry="2.6"/>
<ellipse cx="440.3" cy="216.8" rx="2.35" ry="2.6"/>
<ellipse cx="270" cy="222.1" rx="2.35" ry="2.6"/>
<ellipse cx="274.1" cy="222.1" rx="2.35" ry="2.6"/>
<ellipse cx="278.3" cy="222.1" rx="2.35" ry="2.6"/>
<ellipse cx="303.2" cy="222.1" rx="2.35" ry="2.6"/>
<ellipse cx="307.4" cy="222.1" rx="2.35" ry="2.6"/>
<ellipse cx="311.5" cy="222.1" rx="2.35" ry="2.6"/>
<ellipse cx="315.7" cy="222.1" rx="2.35" ry="2.6"/>
<ellipse cx="319.8" cy="222.1" rx="2.35" ry="2.6"/>
<ellipse cx="324" cy="222.1" rx="2.35" ry="2.6"/>
<ellipse cx="328.2" cy="222.1" rx="2.35" ry="2.6"/>
<ellipse cx="332.3" cy="222.1" rx="2.35" ry="2.6"/>
<ellipse cx="336.5" cy="222.1" rx="2.35" ry="2.6"/>
<ellipse cx="340.6" cy="222.1" rx="2.35" ry="2.6"/>
<ellipse cx="369.7" cy="222.1" rx="2.35" ry="2.6"/>
<ellipse cx="373.9" cy="222.1" rx="2.35" ry="2.6"/>
<ellipse cx="378" cy="222.1" rx="2.35" ry="2.6"/>
<ellipse cx="382.2" cy="222.1" rx="2.35" ry="2.6"/>
<ellipse cx="386.3" cy="222.1" rx="2.35" ry="2.6"/>
<ellipse cx="390.5" cy="222.1" rx="2.35" ry="2.6"/>
<ellipse cx="394.6" cy="222.1" rx="2.35" ry="2.6"/>
<ellipse cx="398.8" cy="222.1" rx="2.35" ry="2.6"/>
<ellipse cx="402.9" cy="222.1" rx="2.35" ry="2.6"/>
<ellipse cx="407.1" cy="222.1" rx="2.35" ry="2.6"/>
<ellipse cx="411.2" cy="222.1" rx="2.35" ry="2.6"/>
<ellipse cx="415.4" cy="222.1" rx="2.35" ry="2.6"/>
<ellipse cx="419.6" cy="222.1" rx="2.35" ry="2.6"/>
<ellipse cx="423.7" cy="222.1" rx="2.35" ry="2.6"/>
<ellipse cx="427.9" cy="222.1" rx="2.35" ry="2.6"/>
<ellipse cx="265.8" cy="227.4" rx="2.35" ry="2.6"/>
<ellipse cx="270" cy="227.4" rx="2.35" ry="2.6"/>
<ellipse cx="274.1" cy="227.4" rx="2.35" ry="2.6"/>
<ellipse cx="278.3" cy="227.4" rx="2.35" ry="2.6"/>
<ellipse cx="303.2" cy="227.4" rx="2.35" ry="2.6"/>
<ellipse cx="307.4" cy="227.4" rx="2.35" ry="2.6"/>
<ellipse cx="311.5" cy="227.4" rx="2.35" ry="2.6"/>
<ellipse cx="315.7" cy="227.4" rx="2.35" ry="2.6"/>
<ellipse cx="319.8" cy="227.4" rx="2.35" ry="2.6"/>
<ellipse cx="324" cy="227.4" rx="2.35" ry="2.6"/>
<ellipse cx="328.2" cy="227.4" rx="2.35" ry="2.6"/>
<ellipse cx="332.3" cy="227.4" rx="2.35" ry="2.6"/>
<ellipse cx="336.5" cy="227.4" rx="2.35" ry="2.6"/>
<ellipse cx="373.9" cy="227.4" rx="2.35" ry="2.6"/>
<ellipse cx="378" cy="227.4" rx="2.35" ry="2.6"/>
<ellipse cx="382.2" cy="227.4" rx="2.35" ry="2.6"/>
<ellipse cx="386.3" cy="227.4" rx="2.35" ry="2.6"/>
<ellipse cx="390.5" cy="227.4" rx="2.35" ry="2.6"/>
<ellipse cx="394.6" cy="227.4" rx="2.35" ry="2.6"/>
<ellipse cx="398.8" cy="227.4" rx="2.35" ry="2.6"/>
<ellipse cx="402.9" cy="227.4" rx="2.35" ry="2.6"/>
<ellipse cx="407.1" cy="227.4" rx="2.35" ry="2.6"/>
<ellipse cx="411.2" cy="227.4" rx="2.35" ry="2.6"/>
<ellipse cx="415.4" cy="227.4" rx="2.35" ry="2.6"/>
<ellipse cx="419.6" cy="227.4" rx="2.35" ry="2.6"/>
<ellipse cx="423.7" cy="227.4" rx="2.35" ry="2.6"/>
<ellipse cx="261.7" cy="232.7" rx="2.35" ry="2.6"/>
<ellipse cx="265.8" cy="232.7" rx="2.35" ry="2.6"/>
<ellipse cx="270" cy="232.7" rx="2.35" ry="2.6"/>
<ellipse cx="274.1" cy="232.7" rx="2.35" ry="2.6"/>
<ellipse cx="278.3" cy="232.7" rx="2.35" ry="2.6"/>
<ellipse cx="294.9" cy="232.7" rx="2.35" ry="2.6"/>
<ellipse cx="299.1" cy="232.7" rx="2.35" ry="2.6"/>
<ellipse cx="303.2" cy="232.7" rx="2.35" ry="2.6"/>
<ellipse cx="307.4" cy="232.7" rx="2.35" ry="2.6"/>
<ellipse cx="311.5" cy="232.7" rx="2.35" ry="2.6"/>
<ellipse cx="315.7" cy="232.7" rx="2.35" ry="2.6"/>
<ellipse cx="319.8" cy="232.7" rx="2.35" ry="2.6"/>
<ellipse cx="324" cy="232.7" rx="2.35" ry="2.6"/>
<ellipse cx="328.2" cy="232.7" rx="2.35" ry="2.6"/>
<ellipse cx="332.3" cy="232.7" rx="2.35" ry="2.6"/>
<ellipse cx="378" cy="232.7" rx="2.35" ry="2.6"/>
<ellipse cx="382.2" cy="232.7" rx="2.35" ry="2.6"/>
<ellipse cx="386.3" cy="232.7" rx="2.35" ry="2.6"/>
<ellipse cx="390.5" cy="232.7" rx="2.35" ry="2.6"/>
<ellipse cx="394.6" cy="232.7" rx="2.35" ry="2.6"/>
<ellipse cx="398.8" cy="232.7" rx="2.35" ry="2.6"/>
<ellipse cx="402.9" cy="232.7" rx="2.35" ry="2.6"/>
<ellipse cx="407.1" cy="232.7" rx="2.35" ry="2.6"/>
<ellipse cx="411.2" cy="232.7" rx="2.35" ry="2.6"/>
<ellipse cx="415.4" cy="232.7" rx="2.35" ry="2.6"/>
<ellipse cx="419.6" cy="232.7" rx="2.35" ry="2.6"/>
<ellipse cx="423.7" cy="232.7" rx="2.35" ry="2.6"/>
<ellipse cx="274.1" cy="238" rx="2.35" ry="2.6"/>
<ellipse cx="278.3" cy="238" rx="2.35" ry="2.6"/>
<ellipse cx="282.4" cy="238" rx="2.35" ry="2.6"/>
<ellipse cx="286.6" cy="238" rx="2.35" ry="2.6"/>
<ellipse cx="290.8" cy="238" rx="2.35" ry="2.6"/>
<ellipse cx="294.9" cy="238" rx="2.35" ry="2.6"/>
<ellipse cx="299.1" cy="238" rx="2.35" ry="2.6"/>
<ellipse cx="303.2" cy="238" rx="2.35" ry="2.6"/>
<ellipse cx="307.4" cy="238" rx="2.35" ry="2.6"/>
<ellipse cx="311.5" cy="238" rx="2.35" ry="2.6"/>
<ellipse cx="315.7" cy="238" rx="2.35" ry="2.6"/>
<ellipse cx="319.8" cy="238" rx="2.35" ry="2.6"/>
<ellipse cx="324" cy="238" rx="2.35" ry="2.6"/>
<ellipse cx="378" cy="238" rx="2.35" ry="2.6"/>
<ellipse cx="382.2" cy="238" rx="2.35" ry="2.6"/>
<ellipse cx="386.3" cy="238" rx="2.35" ry="2.6"/>
<ellipse cx="390.5" cy="238" rx="2.35" ry="2.6"/>
<ellipse cx="394.6" cy="238" rx="2.35" ry="2.6"/>
<ellipse cx="398.8" cy="238" rx="2.35" ry="2.6"/>
<ellipse cx="402.9" cy="238" rx="2.35" ry="2.6"/>
<ellipse cx="407.1" cy="238" rx="2.35" ry="2.6"/>
<ellipse cx="411.2" cy="238" rx="2.35" ry="2.6"/>
<ellipse cx="415.4" cy="238" rx="2.35" ry="2.6"/>
<ellipse cx="419.6" cy="238" rx="2.35" ry="2.6"/>
<ellipse cx="324" cy="243.3" rx="2.35" ry="2.6"/>
<ellipse cx="378" cy="243.3" rx="2.35" ry="2.6"/>
<ellipse cx="328.2" cy="248.6" rx="2.35" ry="2.6"/>
<ellipse cx="332.3" cy="253.9" rx="2.35" ry="2.6"/>
<ellipse cx="332.3" cy="259.2" rx="2.35" ry="2.6"/>
<ellipse cx="336.5" cy="259.2" rx="2.35" ry="2.6"/>
<ellipse cx="336.5" cy="264.5" rx="2.35" ry="2.6"/>
<ellipse cx="344.8" cy="269.8" rx="2.35" ry="2.6"/>
<ellipse cx="348.9" cy="269.8" rx="2.35" ry="2.6"/>
</g>
<g fill="#111">
<path d="M301.1 75.9L305.3 75.9L303.2 71.3Z"/>
<path d="M305.3 75.9L309.5 75.9L307.4 71.3Z"/>
<path d="M330.2 75.9L334.4 75.9L332.3 71.3Z"/>
<path d="M346.8 75.9L351 75.9L348.9 71.3Z"/>
<path d="M351 75.9L355.2 75.9L353.1 71.3Z"/>
<path d="M326.1 81.2L330.3 81.2L328.2 76.6Z"/>
<path d="M334.4 81.2L338.6 81.2L336.5 76.6Z"/>
<path d="M338.5 81.2L342.7 81.2L340.6 76.6Z"/>
<path d="M342.7 81.2L346.9 81.2L344.8 76.6Z"/>
<path d="M330.2 86.5L334.4 86.5L332.3 81.9Z"/>
<path d="M338.5 86.5L342.7 86.5L340.6 81.9Z"/>
<path d="M429.9 86.5L434.1 86.5L432 81.9Z"/>
<path d="M434.1 86.5L438.3 86.5L436.2 81.9Z"/>
<path d="M438.2 86.5L442.4 86.5L440.3 81.9Z"/>
<path d="M442.4 86.5L446.6 86.5L444.5 81.9Z"/>
<path d="M425.8 91.8L430 91.8L427.9 87.2Z"/>
<path d="M429.9 91.8L434.1 91.8L432 87.2Z"/>
<path d="M434.1 91.8L438.3 91.8L436.2 87.2Z"/>
<path d="M438.2 91.8L442.4 91.8L440.3 87.2Z"/>
<path d="M446.5 91.8L450.7 91.8L448.6 87.2Z"/>
<path d="M492.2 91.8L496.5 91.8L494.4 87.2Z"/>
<path d="M496.4 91.8L500.6 91.8L498.5 87.2Z"/>
<path d="M425.8 97.1L430 97.1L427.9 92.5Z"/>
<path d="M429.9 97.1L434.1 97.1L432 92.5Z"/>
<path d="M434.1 97.1L438.3 97.1L436.2 92.5Z"/>
<path d="M438.2 97.1L442.4 97.1L440.3 92.5Z"/>
<path d="M446.5 97.1L450.7 97.1L448.6 92.5Z"/>
<path d="M471.5 97.1L475.7 97.1L473.6 92.5Z"/>
<path d="M492.2 97.1L496.5 97.1L494.4 92.5Z"/>
<path d="M496.4 97.1L500.6 97.1L498.5 92.5Z"/>
<path d="M425.8 102.4L430 102.4L427.9 97.8Z"/>
<path d="M429.9 102.4L434.1 102.4L432 97.8Z"/>
<path d="M434.1 102.4L438.3 102.4L436.2 97.8Z"/>
<path d="M438.2 102.4L442.4 102.4L440.3 97.8Z"/>
<path d="M459 102.4L463.2 102.4L461.1 97.8Z"/>
<path d="M463.2 102.4L467.4 102.4L465.3 97.8Z"/>
<path d="M467.3 102.4L471.5 102.4L469.4 97.8Z"/>
<path d="M471.5 102.4L475.7 102.4L473.6 97.8Z"/>
<path d="M475.6 102.4L479.8 102.4L477.7 97.8Z"/>
<path d="M297 107.7L301.2 107.7L299.1 103.1Z"/>
<path d="M425.8 107.7L430 107.7L427.9 103.1Z"/>
<path d="M434.1 107.7L438.3 107.7L436.2 103.1Z"/>
<path d="M463.2 107.7L467.4 107.7L465.3 103.1Z"/>
<path d="M467.3 107.7L471.5 107.7L469.4 103.1Z"/>
<path d="M471.5 107.7L475.7 107.7L473.6 103.1Z"/>
<path d="M475.6 107.7L479.8 107.7L477.7 103.1Z"/>
<path d="M479.8 107.7L484 107.7L481.9 103.1Z"/>
<path d="M297 113L301.2 113L299.1 108.4Z"/>
<path d="M467.3 113L471.5 113L469.4 108.4Z"/>
<path d="M471.5 113L475.7 113L473.6 108.4Z"/>
<path d="M475.6 113L479.8 113L477.7 108.4Z"/>
<path d="M479.8 113L484 113L481.9 108.4Z"/>
<path d="M483.9 113L488.1 113L486 108.4Z"/>
<path d="M467.3 118.3L471.5 118.3L469.4 113.7Z"/>
<path d="M471.5 118.3L475.7 118.3L473.6 113.7Z"/>
<path d="M475.6 118.3L479.8 118.3L477.7 113.7Z"/>
<path d="M479.8 118.3L484 118.3L481.9 113.7Z"/>
<path d="M346.8 128.9L351 128.9L348.9 124.3Z"/>
<path d="M346.8 134.2L351 134.2L348.9 129.6Z"/>
<path d="M334.4 176.6L338.6 176.6L336.5 172Z"/>
<path d="M367.6 176.6L371.8 176.6L369.7 172Z"/>
<path d="M367.6 181.9L371.8 181.9L369.7 177.3Z"/>
<path d="M367.6 187.2L371.8 187.2L369.7 182.6Z"/>
<path d="M371.8 192.5L376 192.5L373.9 187.9Z"/>
<path d="M317.7 203.1L321.9 203.1L319.8 198.5Z"/>
</g>
<g fill="none" stroke="#c81010" stroke-width="1.2" stroke-linejoin="round" stroke-linecap="round">
<polyline points="301.9,66.9 330,88 364,110.5 387.3,121 402.8,136.6 411.7,148.6 418.6,160.3"/>
<polyline points="305.7,71.5 325,85 346,96.4"/>
<polyline points="426.6,29.1 422,37.3 415,46.6 410.3,58.3 403.3,70 396,78.5 387,86 379.5,93 370,100 365.6,109 363,118 358.6,130 354,138 347,144 340,151 330.6,160.3 321.3,165 314.3,167.3 307.3,170.8 298,176.6 291,181.5 284.5,184.6 280,189.6 277.5,197.4 275,204 270.5,211.5 264.5,219.5 258.3,230.4 252,241.2 249,249 246.6,253.7"/>
<polyline points="424.5,33 420,41.5"/>
<polyline points="301,170 293,174.5 288.5,180.5 290.5,181 297,176 307,171.5"/>
<polyline points="269.2,225 261.4,235 253.6,247.5 250.5,250.6"/>
<polyline points="264.5,221.8 256.7,235 250.5,245.9 248.2,251.3"/>
<polyline points="421.5,79.1 410.6,86.9 398.2,91.5 387.3,93.1 378,96.2 371.8,102.4 367.1,111.7 365.6,121"/>
<polyline points="449.9,65.3 442.9,70 436,77 426.6,85 417.3,91 407.5,102 401.3,111.7 387.3,121 379.5,130.3 364,135 354,138"/>
<polyline points="298.4,145.9 309,164.4 318.8,178 327.5,190.6"/>
<polyline points="482.4,114.8 480.1,127.6 475.5,136.9 468.5,140.4 465,145 461.5,153.2 458.3,162.6 453.6,174.3 446.6,186 439.6,200 432.6,216.2 428,227.9 421,241.9"/>
<polyline points="468.8,154.5 468,161.5"/>
<polyline points="459.4,172 457.1,180.1"/>
<polyline points="450.1,180.1 442,195.3 435,209.3 430.3,221 423.3,230.2"/>
<polyline points="430.3,197.6 426.7,208.5 423.3,218.6 422.1,230.2"/>
<polyline points="444.2,200.3 437.2,216.6 430.2,230.6 420.9,242.3"/>
<polyline points="405.8,196.8 397.6,205 390.6,212 383.6,220 377.8,230.6 376.6,236.4 367.3,244.6 354.5,250.4"/>
<polyline points="399.9,220 395.3,227 388.3,233 381.3,237.6 372,244.6 355.6,252.8"/>
</g>

<!-- scatter axes -->
<g stroke="#b8b8b8" stroke-width="1.1" fill="none">
<line x1="410" y1="262" x2="410" y2="479"/>
<line x1="68" y1="379.3" x2="485.7" y2="379.3"/>
<line x1="406" y1="409.8" x2="410" y2="409.8"/><line x1="406" y1="440.3" x2="410" y2="440.3"/><line x1="406" y1="470.8" x2="410" y2="470.8"/><line x1="406" y1="287.5" x2="410" y2="287.5"/><line x1="406" y1="318" x2="410" y2="318"/><line x1="406" y1="348.7" x2="410" y2="348.7"/>
</g>
<g fill="none"><path d="M67 376.4 L300 379.7 L340 379 L390 374 L415 364 L438 352 L453.4 330.7 L467 306 L477.8 284.5 L480.5 279" stroke="#ffb4b4" stroke-width="0.8"/>
<path d="M83 397 L300 396.6 L340 396 L390 391 L420 380 L440 366 L450 352 L458.8 338.8 L469.7 319.8 L480.5 300.8" stroke="#ffb4b4" stroke-width="0.8"/>
</g>

<g class="b i" fill="#c9c9c9" font-size="24.5" text-anchor="middle" style="fill:#cacaca">
<text x="310" y="305.3" style="fill:#cacaca">Q2</text><text x="452" y="305.3" style="fill:#cacaca">Q1</text>
<text x="310" y="446.8" style="fill:#cacaca">Q3</text><text x="453" y="446.8" style="fill:#cacaca">Q4</text>
</g>
<g stroke="#0a6cba" stroke-width="0.8">
<circle cx="164.5" cy="361.6" r="1.7" fill="#1192a2"/>
<circle cx="451.4" cy="434.7" r="1.7" fill="#1248ec"/>
<circle cx="189.1" cy="410.7" r="1.7" fill="#1248ec"/>
<circle cx="380.1" cy="455" r="1.7" fill="#1248ec"/>
<circle cx="156.4" cy="384.4" r="1.7" fill="#1248ec"/>
<circle cx="362" cy="453.8" r="1.7" fill="#1248ec"/>
<circle cx="144.4" cy="395.2" r="1.7" fill="#1248ec"/>
<circle cx="249.5" cy="414.4" r="1.7" fill="#1248ec"/>
<circle cx="297.8" cy="460.7" r="1.7" fill="#1248ec"/>
<circle cx="171.1" cy="387.5" r="1.7" fill="#1248ec"/>
<circle cx="196" cy="363.8" r="1.7" fill="#1192a2"/>
<circle cx="187.3" cy="373.6" r="1.7" fill="#1192a2"/>
<circle cx="467.5" cy="361.8" r="1.7" fill="#0732f5"/>
<circle cx="177.6" cy="377.9" r="1.7" fill="#1192a2"/>
<circle cx="457.9" cy="325.3" r="1.7" fill="#0732f5"/>
<circle cx="342.9" cy="441.9" r="1.7" fill="#1248ec"/>
<circle cx="339.8" cy="337.2" r="1.7" fill="#1192a2"/>
<circle cx="369.7" cy="441.4" r="1.7" fill="#1248ec"/>
<circle cx="208.5" cy="360.8" r="1.7" fill="#1192a2"/>
<circle cx="208.5" cy="369.3" r="1.7" fill="#1192a2"/>
<circle cx="405.3" cy="439" r="1.7" fill="#1248ec"/>
<circle cx="326.9" cy="428.1" r="1.7" fill="#1248ec"/>
<circle cx="456.7" cy="391.9" r="1.7" fill="#1248ec"/>
<circle cx="439.5" cy="415.3" r="1.7" fill="#1248ec"/>
<circle cx="335.7" cy="455.1" r="1.7" fill="#1248ec"/>
<circle cx="307.7" cy="422.9" r="1.7" fill="#1248ec"/>
<circle cx="159" cy="410.6" r="1.7" fill="#1248ec"/>
<circle cx="413.6" cy="437.2" r="1.7" fill="#1248ec"/>
<circle cx="387.2" cy="322.8" r="1.7" fill="#1192a2"/>
<circle cx="362.2" cy="437.8" r="1.7" fill="#1248ec"/>
<circle cx="198" cy="380.7" r="1.7" fill="#1248ec"/>
<circle cx="202.6" cy="385.8" r="1.7" fill="#1248ec"/>
<circle cx="341.9" cy="450.8" r="1.7" fill="#1248ec"/>
<circle cx="235.2" cy="385.5" r="1.7" fill="#1248ec"/>
<circle cx="438.9" cy="407.7" r="1.7" fill="#1248ec"/>
<circle cx="467.4" cy="376.5" r="1.7" fill="#0732f5"/>
<circle cx="302.2" cy="448.9" r="1.7" fill="#1248ec"/>
<circle cx="307.7" cy="447.4" r="1.7" fill="#1248ec"/>
<circle cx="352.4" cy="431.2" r="1.7" fill="#1248ec"/>
<circle cx="323.4" cy="448.9" r="1.7" fill="#1248ec"/>
<circle cx="316.3" cy="423.3" r="1.7" fill="#1248ec"/>
<circle cx="319.4" cy="452.5" r="1.7" fill="#1248ec"/>
<circle cx="128.3" cy="403.7" r="1.7" fill="#1248ec"/>
<circle cx="433.5" cy="431" r="1.7" fill="#1248ec"/>
<circle cx="133.4" cy="403.8" r="1.7" fill="#1248ec"/>
<circle cx="170.8" cy="414.3" r="1.7" fill="#1248ec"/>
<circle cx="187.6" cy="393.4" r="1.7" fill="#1248ec"/>
<circle cx="248.2" cy="374.2" r="1.7" fill="#1192a2"/>
<circle cx="185.6" cy="389.2" r="1.7" fill="#1248ec"/>
<circle cx="427.9" cy="432.7" r="1.7" fill="#1248ec"/>
<circle cx="282.1" cy="350.9" r="1.7" fill="#1192a2"/>
<circle cx="259" cy="358.9" r="1.7" fill="#1192a2"/>
<circle cx="210.5" cy="399.7" r="1.7" fill="#1248ec"/>
<circle cx="212.8" cy="391.5" r="1.7" fill="#1248ec"/>
<circle cx="228.5" cy="399.4" r="1.7" fill="#1248ec"/>
<circle cx="241.9" cy="394.9" r="1.7" fill="#1248ec"/>
<circle cx="456.6" cy="407.4" r="1.7" fill="#1248ec"/>
<circle cx="165.7" cy="413.1" r="1.7" fill="#1248ec"/>
<circle cx="462.8" cy="372.8" r="1.7" fill="#0732f5"/>
<circle cx="216.9" cy="380.3" r="1.7" fill="#1248ec"/>
<circle cx="220.7" cy="404.4" r="1.7" fill="#1248ec"/>
<circle cx="254.6" cy="366.2" r="1.7" fill="#1192a2"/>
<circle cx="421.3" cy="282.1" r="1.7" fill="#0732f5"/>
<circle cx="455.4" cy="404.8" r="1.7" fill="#1248ec"/>
<circle cx="422.9" cy="283.6" r="1.7" fill="#0732f5"/>
<circle cx="318.1" cy="343.9" r="1.7" fill="#1192a2"/>
<circle cx="227.2" cy="393.8" r="1.7" fill="#1248ec"/>
<circle cx="464.4" cy="348.5" r="1.7" fill="#0732f5"/>
<circle cx="253.6" cy="401.5" r="1.7" fill="#1248ec"/>
<circle cx="254.4" cy="361.5" r="1.7" fill="#1192a2"/>
<circle cx="219.9" cy="392.9" r="1.7" fill="#1248ec"/>
<circle cx="324.7" cy="344.8" r="1.7" fill="#1192a2"/>
<circle cx="425.4" cy="423.4" r="1.7" fill="#1248ec"/>
<circle cx="448.4" cy="398.5" r="1.7" fill="#1248ec"/>
<circle cx="216.5" cy="401.8" r="1.7" fill="#1248ec"/>
<circle cx="324.4" cy="418.1" r="1.7" fill="#1248ec"/>
<circle cx="423.2" cy="421.5" r="1.7" fill="#1248ec"/>
<circle cx="240.5" cy="371.7" r="1.7" fill="#1192a2"/>
<circle cx="223.6" cy="382.5" r="1.7" fill="#1248ec"/>
<circle cx="412.9" cy="290.3" r="1.7" fill="#0732f5"/>
<circle cx="245.6" cy="389.7" r="1.7" fill="#1248ec"/>
<circle cx="394.8" cy="323.3" r="1.7" fill="#1192a2"/>
<circle cx="337.1" cy="423.8" r="1.7" fill="#1248ec"/>
<circle cx="222.8" cy="382.1" r="1.7" fill="#1248ec"/>
<circle cx="416.2" cy="426.9" r="1.7" fill="#1248ec"/>
<circle cx="250.4" cy="398.2" r="1.7" fill="#1248ec"/>
<circle cx="422.6" cy="295.6" r="1.7" fill="#0732f5"/>
<circle cx="361.9" cy="427.5" r="1.7" fill="#1248ec"/>
<circle cx="272.9" cy="367.3" r="1.7" fill="#1192a2"/>
<circle cx="237.5" cy="375.7" r="1.7" fill="#1192a2"/>
<circle cx="237.3" cy="374.6" r="1.7" fill="#1192a2"/>
<circle cx="461.3" cy="350.8" r="1.7" fill="#0732f5"/>
<circle cx="413.3" cy="292.2" r="1.7" fill="#0732f5"/>
<circle cx="341.5" cy="425.3" r="1.7" fill="#1248ec"/>
<circle cx="303.2" cy="358.4" r="1.7" fill="#1192a2"/>
<circle cx="327.5" cy="413.2" r="1.7" fill="#1248ec"/>
<circle cx="336.1" cy="347.7" r="1.7" fill="#1192a2"/>
<circle cx="334.4" cy="348.7" r="1.7" fill="#1192a2"/>
<circle cx="416.9" cy="295.4" r="1.7" fill="#0732f5"/>
<circle cx="293.6" cy="363.7" r="1.7" fill="#1192a2"/>
<circle cx="279.9" cy="356.8" r="1.7" fill="#1192a2"/>
<circle cx="287.2" cy="405.2" r="1.7" fill="#1248ec"/>
<circle cx="303.3" cy="411.9" r="1.7" fill="#1248ec"/>
<circle cx="331.8" cy="415.6" r="1.7" fill="#1248ec"/>
<circle cx="351.3" cy="338.1" r="1.7" fill="#1192a2"/>
<circle cx="258.8" cy="395.9" r="1.7" fill="#1248ec"/>
<circle cx="433.3" cy="399.6" r="1.7" fill="#1248ec"/>
<circle cx="335.3" cy="416.4" r="1.7" fill="#1248ec"/>
<circle cx="278.5" cy="357.9" r="1.7" fill="#1192a2"/>
<circle cx="317.1" cy="412" r="1.7" fill="#1248ec"/>
<circle cx="419.8" cy="300.9" r="1.7" fill="#0732f5"/>
<circle cx="368.3" cy="329.9" r="1.7" fill="#1192a2"/>
<circle cx="251.1" cy="387.1" r="1.7" fill="#1248ec"/>
<circle cx="278.2" cy="371.3" r="1.7" fill="#1192a2"/>
<circle cx="275.8" cy="365.3" r="1.7" fill="#1192a2"/>
<circle cx="302.6" cy="360.7" r="1.7" fill="#1192a2"/>
<circle cx="367.3" cy="330.5" r="1.7" fill="#1192a2"/>
<circle cx="446.3" cy="329.3" r="1.7" fill="#0732f5"/>
<circle cx="359.9" cy="331.2" r="1.7" fill="#1192a2"/>
<circle cx="454.7" cy="339" r="1.7" fill="#0732f5"/>
<circle cx="433.6" cy="301.5" r="1.7" fill="#0732f5"/>
<circle cx="457" cy="342.6" r="1.7" fill="#0732f5"/>
<circle cx="416" cy="306.5" r="1.7" fill="#0732f5"/>
<circle cx="342.9" cy="350.1" r="1.7" fill="#1192a2"/>
<circle cx="346.3" cy="421.8" r="1.7" fill="#1248ec"/>
<circle cx="435.6" cy="302.5" r="1.7" fill="#0732f5"/>
<circle cx="253.6" cy="391.6" r="1.7" fill="#1248ec"/>
<circle cx="353" cy="342.1" r="1.7" fill="#1192a2"/>
<circle cx="279.4" cy="362.3" r="1.7" fill="#1192a2"/>
<circle cx="268.1" cy="400.1" r="1.7" fill="#1248ec"/>
<circle cx="443.4" cy="395.2" r="1.7" fill="#1146e6"/>
<circle cx="428.3" cy="302.4" r="1.7" fill="#0732f5"/>
<circle cx="447.2" cy="322.8" r="1.7" fill="#0732f5"/>
<circle cx="353.7" cy="348" r="1.7" fill="#1192a2"/>
<circle cx="347.3" cy="421.6" r="1.7" fill="#1248ec"/>
<circle cx="377.1" cy="332.9" r="1.7" fill="#1192a2"/>
<circle cx="440.6" cy="308.6" r="1.7" fill="#0732f5"/>
<circle cx="254.2" cy="385.5" r="1.7" fill="#1248ec"/>
<circle cx="313.1" cy="411.6" r="1.7" fill="#1248ec"/>
<circle cx="417" cy="415" r="1.7" fill="#1144e1"/>
<circle cx="356" cy="334.9" r="1.7" fill="#1192a2"/>
<circle cx="317.1" cy="352" r="1.7" fill="#1192a2"/>
<circle cx="338.2" cy="410.1" r="1.7" fill="#1248ec"/>
<circle cx="398.9" cy="327.9" r="1.7" fill="#1192a2"/>
<circle cx="315.1" cy="354.6" r="1.7" fill="#1192a2"/>
<circle cx="421.8" cy="408.8" r="1.7" fill="#1043de"/>
<circle cx="387.8" cy="425" r="1.7" fill="#1248ec"/>
<circle cx="395.8" cy="426.6" r="1.7" fill="#1248ec"/>
<circle cx="328.6" cy="356.3" r="1.7" fill="#1192a2"/>
<circle cx="377" cy="421.9" r="1.7" fill="#1248ec"/>
<circle cx="445" cy="391.9" r="1.7" fill="#1042da"/>
<circle cx="361.4" cy="332.6" r="1.7" fill="#1192a2"/>
<circle cx="420.4" cy="306.8" r="1.7" fill="#0732f5"/>
<circle cx="400.3" cy="325.8" r="1.7" fill="#1192a2"/>
<circle cx="375.2" cy="333.3" r="1.7" fill="#1192a2"/>
<circle cx="446.2" cy="387.4" r="1.7" fill="#1041d8"/>
<circle cx="286" cy="367.6" r="1.7" fill="#1192a2"/>
<circle cx="321.5" cy="352.2" r="1.7" fill="#1192a2"/>
<circle cx="283.6" cy="367.6" r="1.7" fill="#1192a2"/>
<circle cx="379.8" cy="422.7" r="1.7" fill="#1248ec"/>
<circle cx="322.1" cy="352.8" r="1.7" fill="#1192a2"/>
<circle cx="444.3" cy="315" r="1.7" fill="#0732f5"/>
<circle cx="425.7" cy="308.9" r="1.7" fill="#0732f5"/>
<circle cx="284.7" cy="369" r="1.7" fill="#1192a2"/>
<circle cx="411.1" cy="424.6" r="1.7" fill="#0f3ecf"/>
<circle cx="332.2" cy="405.3" r="1.7" fill="#1347eb"/>
<circle cx="423.4" cy="405.4" r="1.7" fill="#0f3ece"/>
<circle cx="453" cy="340.2" r="1.7" fill="#0732f5"/>
<circle cx="343.6" cy="415.5" r="1.7" fill="#1347eb"/>
<circle cx="455.5" cy="351" r="1.7" fill="#0732f5"/>
<circle cx="429.1" cy="306.6" r="1.7" fill="#0732f5"/>
<circle cx="389.8" cy="338.3" r="1.7" fill="#1192a2"/>
<circle cx="415.1" cy="310" r="1.7" fill="#0732f5"/>
<circle cx="435.7" cy="306.3" r="1.7" fill="#0732f5"/>
<circle cx="362" cy="421.7" r="1.7" fill="#1546ea"/>
<circle cx="362.6" cy="421.5" r="1.7" fill="#1546ea"/>
<circle cx="357.4" cy="341.8" r="1.7" fill="#1192a2"/>
<circle cx="358.3" cy="338.3" r="1.7" fill="#1192a2"/>
<circle cx="375.9" cy="335.2" r="1.7" fill="#1192a2"/>
<circle cx="310.4" cy="409" r="1.7" fill="#1646e9"/>
<circle cx="424.2" cy="402.1" r="1.7" fill="#0e3ac3"/>
<circle cx="358.3" cy="351.4" r="1.7" fill="#1192a2"/>
<circle cx="344" cy="353.6" r="1.7" fill="#1192a2"/>
<circle cx="393.3" cy="338.2" r="1.7" fill="#1192a2"/>
<circle cx="354.8" cy="420.4" r="1.7" fill="#1746e9"/>
<circle cx="444" cy="321.8" r="1.7" fill="#0732f5"/>
<circle cx="285.7" cy="375.8" r="1.7" fill="#1192a2"/>
<circle cx="424.7" cy="400.6" r="1.7" fill="#0e3ac0"/>
<circle cx="363.6" cy="337.7" r="1.7" fill="#1192a2"/>
<circle cx="286.4" cy="401" r="1.7" fill="#1846e9"/>
<circle cx="404.3" cy="324" r="1.7" fill="#1192a2"/>
<circle cx="300.9" cy="407.3" r="1.7" fill="#1846e8"/>
<circle cx="424.2" cy="313.9" r="1.7" fill="#0732f5"/>
<circle cx="360.2" cy="346.8" r="1.7" fill="#1192a2"/>
<circle cx="455.1" cy="360.4" r="1.7" fill="#0732f5"/>
<circle cx="333.5" cy="359" r="1.7" fill="#1192a2"/>
<circle cx="385.6" cy="422.6" r="1.7" fill="#1945e8"/>
<circle cx="370.3" cy="350.4" r="1.7" fill="#1192a2"/>
<circle cx="426.5" cy="316.3" r="1.7" fill="#0732f5"/>
<circle cx="272" cy="400.8" r="1.7" fill="#1a45e8"/>
<circle cx="443.6" cy="320.2" r="1.7" fill="#0732f5"/>
<circle cx="430.6" cy="319.6" r="1.7" fill="#0732f5"/>
<circle cx="313.4" cy="407.5" r="1.7" fill="#1a45e7"/>
<circle cx="344.1" cy="354.8" r="1.7" fill="#1192a2"/>
<circle cx="338.3" cy="356" r="1.7" fill="#1192a2"/>
<circle cx="286.7" cy="376.2" r="1.7" fill="#1192a2"/>
<circle cx="453.5" cy="375.4" r="1.7" fill="#0732f5"/>
<circle cx="442.9" cy="320.5" r="1.7" fill="#0732f5"/>
<circle cx="385" cy="422" r="1.7" fill="#1b45e7"/>
<circle cx="433.9" cy="309.1" r="1.7" fill="#0732f5"/>
<circle cx="366.7" cy="339.8" r="1.7" fill="#1192a2"/>
<circle cx="445.8" cy="336.7" r="1.7" fill="#0732f5"/>
<circle cx="294.8" cy="368.8" r="1.7" fill="#1192a2"/>
<circle cx="309.5" cy="365.7" r="1.7" fill="#1192a2"/>
<circle cx="357.7" cy="354.3" r="1.7" fill="#1192a2"/>
<circle cx="302.6" cy="366.7" r="1.7" fill="#1192a2"/>
<circle cx="355.7" cy="419.3" r="1.7" fill="#1e44e6"/>
<circle cx="419.6" cy="406.2" r="1.7" fill="#0c33ac"/>
<circle cx="359.4" cy="355" r="1.7" fill="#1192a2"/>
<circle cx="339.2" cy="357.2" r="1.7" fill="#1192a2"/>
<circle cx="304.8" cy="407" r="1.7" fill="#1e44e5"/>
<circle cx="304.2" cy="366.7" r="1.7" fill="#1192a2"/>
<circle cx="314.3" cy="405.5" r="1.7" fill="#1f43e5"/>
<circle cx="440.6" cy="314.4" r="1.7" fill="#0732f5"/>
<circle cx="334" cy="403" r="1.7" fill="#2043e5"/>
<circle cx="270.7" cy="381.5" r="1.7" fill="#2043e4"/>
<circle cx="383.6" cy="340.3" r="1.7" fill="#1192a2"/>
<circle cx="406.8" cy="323.3" r="1.7" fill="#1192a2"/>
<circle cx="280.4" cy="400.9" r="1.7" fill="#2143e4"/>
<circle cx="373.2" cy="417.7" r="1.7" fill="#2243e4"/>
<circle cx="369.9" cy="347.5" r="1.7" fill="#1192a2"/>
<circle cx="382.8" cy="340.3" r="1.7" fill="#1192a2"/>
<circle cx="402.4" cy="333.7" r="1.7" fill="#1192a2"/>
<circle cx="416.3" cy="312.7" r="1.7" fill="#0732f5"/>
<circle cx="366" cy="417.4" r="1.7" fill="#2242e3"/>
<circle cx="433.3" cy="316.3" r="1.7" fill="#0732f5"/>
<circle cx="392.2" cy="421.8" r="1.7" fill="#2342e3"/>
<circle cx="285.8" cy="383.3" r="1.7" fill="#2342e3"/>
<circle cx="306.5" cy="369.9" r="1.7" fill="#1192a2"/>
<circle cx="451.7" cy="377.2" r="1.7" fill="#0732f5"/>
<circle cx="260.1" cy="388.4" r="1.7" fill="#2342e3"/>
<circle cx="367.1" cy="347.4" r="1.7" fill="#1192a2"/>
<circle cx="311.2" cy="376.2" r="1.7" fill="#1192a2"/>
<circle cx="339.7" cy="360.1" r="1.7" fill="#1192a2"/>
<circle cx="434.3" cy="313.5" r="1.7" fill="#0732f5"/>
<circle cx="309.8" cy="372.8" r="1.7" fill="#1192a2"/>
<circle cx="365.3" cy="345" r="1.7" fill="#1192a2"/>
<circle cx="351" cy="356.9" r="1.7" fill="#1192a2"/>
<circle cx="408.9" cy="423.4" r="1.7" fill="#2442e3"/>
<circle cx="366.8" cy="346.7" r="1.7" fill="#1192a2"/>
<circle cx="328.5" cy="401.1" r="1.7" fill="#2542e2"/>
<circle cx="373.4" cy="341.6" r="1.7" fill="#1192a2"/>
<circle cx="435.6" cy="317.1" r="1.7" fill="#0732f5"/>
<circle cx="365.3" cy="417" r="1.7" fill="#2542e2"/>
<circle cx="261.3" cy="383.8" r="1.7" fill="#2542e2"/>
<circle cx="310.7" cy="368.2" r="1.7" fill="#1192a2"/>
<circle cx="278.4" cy="400.7" r="1.7" fill="#2542e2"/>
<circle cx="404.3" cy="425.3" r="1.7" fill="#2542e2"/>
<circle cx="277.5" cy="382.2" r="1.7" fill="#2542e2"/>
<circle cx="302.4" cy="370.2" r="1.7" fill="#1192a2"/>
<circle cx="376.5" cy="344.6" r="1.7" fill="#1192a2"/>
<circle cx="428.4" cy="325.4" r="1.7" fill="#0732f5"/>
<circle cx="367.2" cy="343.9" r="1.7" fill="#1192a2"/>
<circle cx="438.7" cy="316.1" r="1.7" fill="#0732f5"/>
<circle cx="436.1" cy="316.8" r="1.7" fill="#0732f5"/>
<circle cx="349.9" cy="357.8" r="1.7" fill="#1192a2"/>
<circle cx="264.3" cy="390.5" r="1.7" fill="#2641e2"/>
<circle cx="261" cy="388.3" r="1.7" fill="#2641e2"/>
<circle cx="379" cy="340.5" r="1.7" fill="#1192a2"/>
<circle cx="275.1" cy="400.3" r="1.7" fill="#2741e1"/>
<circle cx="406.8" cy="327.2" r="1.7" fill="#1192a2"/>
<circle cx="375.6" cy="342.2" r="1.7" fill="#1192a2"/>
<circle cx="317.6" cy="359" r="1.7" fill="#1192a2"/>
<circle cx="289.8" cy="380.6" r="1.7" fill="#2841e1"/>
<circle cx="339.8" cy="362.1" r="1.7" fill="#1192a2"/>
<circle cx="423.7" cy="395.1" r="1.7" fill="#09298c"/>
<circle cx="263.2" cy="383.2" r="1.7" fill="#2841e1"/>
<circle cx="412.5" cy="417.1" r="1.7" fill="#09298c"/>
<circle cx="376.9" cy="342.3" r="1.7" fill="#1192a2"/>
<circle cx="264.8" cy="382.8" r="1.7" fill="#2841e1"/>
<circle cx="401.6" cy="336.9" r="1.7" fill="#1192a2"/>
<circle cx="261.4" cy="384.9" r="1.7" fill="#2940e0"/>
<circle cx="452.2" cy="374.4" r="1.7" fill="#0732f5"/>
<circle cx="401.8" cy="336.8" r="1.7" fill="#1192a2"/>
<circle cx="383.2" cy="343.9" r="1.7" fill="#1192a2"/>
<circle cx="279.4" cy="383.6" r="1.7" fill="#2a40e0"/>
<circle cx="352.3" cy="357.7" r="1.7" fill="#1192a2"/>
<circle cx="289.7" cy="397.5" r="1.7" fill="#2a40e0"/>
<circle cx="439.4" cy="391.6" r="1.7" fill="#082785"/>
<circle cx="405.5" cy="333.9" r="1.7" fill="#1192a2"/>
<circle cx="428.2" cy="394.4" r="1.7" fill="#082682"/>
<circle cx="450.4" cy="344" r="1.7" fill="#0732f5"/>
<circle cx="290.3" cy="384.6" r="1.7" fill="#2c40df"/>
<circle cx="285.7" cy="389" r="1.7" fill="#2c40df"/>
<circle cx="298.4" cy="371.3" r="1.7" fill="#1192a2"/>
<circle cx="411.1" cy="318.1" r="1.7" fill="#0732f5"/>
<circle cx="422.5" cy="320.3" r="1.7" fill="#0732f5"/>
<circle cx="292.8" cy="373.7" r="1.7" fill="#1193a1"/>
<circle cx="319.7" cy="399.1" r="1.7" fill="#2d3fdf"/>
<circle cx="310.2" cy="380.9" r="1.7" fill="#2d3fdf"/>
<circle cx="282.2" cy="396.6" r="1.7" fill="#2d3fdf"/>
<circle cx="328.6" cy="399.8" r="1.7" fill="#2d3fde"/>
<circle cx="287.3" cy="388.5" r="1.7" fill="#2d3fde"/>
<circle cx="265.7" cy="383.5" r="1.7" fill="#2d3fde"/>
<circle cx="277.5" cy="383.7" r="1.7" fill="#2d3fde"/>
<circle cx="437.4" cy="392.3" r="1.7" fill="#07237b"/>
<circle cx="394.1" cy="341.9" r="1.7" fill="#11959f"/>
<circle cx="315.7" cy="363.4" r="1.7" fill="#11959f"/>
<circle cx="357.5" cy="416.5" r="1.7" fill="#2e3fde"/>
<circle cx="279.6" cy="385" r="1.7" fill="#2f3fde"/>
<circle cx="384.1" cy="346" r="1.7" fill="#11979d"/>
<circle cx="329.2" cy="399.7" r="1.7" fill="#2f3fdd"/>
<circle cx="349.1" cy="414.4" r="1.7" fill="#2f3fdd"/>
<circle cx="442.8" cy="337.4" r="1.7" fill="#0732f5"/>
<circle cx="408.1" cy="333.9" r="1.7" fill="#11979d"/>
<circle cx="438.6" cy="330.6" r="1.7" fill="#0732f5"/>
<circle cx="280.8" cy="397" r="1.7" fill="#313edd"/>
<circle cx="271.6" cy="395.6" r="1.7" fill="#313edd"/>
<circle cx="450.7" cy="346" r="1.7" fill="#0732f5"/>
<circle cx="288.3" cy="391.1" r="1.7" fill="#323edc"/>
<circle cx="346.1" cy="364.2" r="1.7" fill="#119b99"/>
<circle cx="413.6" cy="316.5" r="1.7" fill="#0732f5"/>
<circle cx="320.8" cy="359.6" r="1.7" fill="#119c98"/>
<circle cx="297.4" cy="373" r="1.7" fill="#119c98"/>
<circle cx="417.3" cy="400.6" r="1.7" fill="#061e6b"/>
<circle cx="272.2" cy="384.2" r="1.7" fill="#333ddb"/>
<circle cx="412.1" cy="318.4" r="1.7" fill="#0732f5"/>
<circle cx="388.5" cy="344.6" r="1.7" fill="#119e96"/>
<circle cx="314.1" cy="371.4" r="1.7" fill="#119f95"/>
<circle cx="431" cy="328.2" r="1.7" fill="#0732f5"/>
<circle cx="299.5" cy="403.1" r="1.7" fill="#353ddb"/>
<circle cx="297.7" cy="402.1" r="1.7" fill="#353ddb"/>
<circle cx="292.8" cy="397.8" r="1.7" fill="#353ddb"/>
<circle cx="414.7" cy="316.4" r="1.7" fill="#0732f5"/>
<circle cx="293.5" cy="378.6" r="1.7" fill="#10a193"/>
<circle cx="439.2" cy="332.5" r="1.7" fill="#0732f5"/>
<circle cx="363.8" cy="413.4" r="1.7" fill="#363dda"/>
<circle cx="380" cy="417" r="1.7" fill="#363dda"/>
<circle cx="297" cy="374.3" r="1.7" fill="#10a292"/>
<circle cx="294.6" cy="375.6" r="1.7" fill="#10a292"/>
<circle cx="341" cy="367.1" r="1.7" fill="#10a391"/>
<circle cx="333.5" cy="364.5" r="1.7" fill="#10a391"/>
<circle cx="278.6" cy="387.1" r="1.7" fill="#373cda"/>
<circle cx="290.3" cy="391.5" r="1.7" fill="#373cda"/>
<circle cx="418.6" cy="394.3" r="1.7" fill="#04195b"/>
<circle cx="401.4" cy="342.3" r="1.7" fill="#10a490"/>
<circle cx="438.4" cy="331.9" r="1.7" fill="#0732f5"/>
<circle cx="368.6" cy="414.1" r="1.7" fill="#383cd9"/>
<circle cx="294.7" cy="376.7" r="1.7" fill="#10a58f"/>
<circle cx="344.7" cy="407.5" r="1.7" fill="#393cd9"/>
<circle cx="277.5" cy="397.1" r="1.7" fill="#393cd9"/>
<circle cx="394.8" cy="343.7" r="1.7" fill="#10a78d"/>
<circle cx="333.2" cy="398.7" r="1.7" fill="#3a3bd8"/>
<circle cx="345.4" cy="367.3" r="1.7" fill="#10a78d"/>
<circle cx="269.1" cy="389.1" r="1.7" fill="#3a3bd8"/>
<circle cx="274" cy="395.9" r="1.7" fill="#3a3bd8"/>
<circle cx="291.2" cy="393.4" r="1.7" fill="#3b3bd8"/>
<circle cx="416.6" cy="317.4" r="1.7" fill="#0732f5"/>
<circle cx="347.8" cy="411.4" r="1.7" fill="#3b3bd8"/>
<circle cx="291.4" cy="393.7" r="1.7" fill="#3b3bd8"/>
<circle cx="268.8" cy="387.4" r="1.7" fill="#3b3bd8"/>
<circle cx="421.2" cy="323.7" r="1.7" fill="#0732f5"/>
<circle cx="340" cy="372.7" r="1.7" fill="#10a98b"/>
<circle cx="320.4" cy="396.6" r="1.7" fill="#3c3bd8"/>
<circle cx="342.4" cy="403.2" r="1.7" fill="#3c3bd7"/>
<circle cx="341.1" cy="369.9" r="1.7" fill="#10aa8a"/>
<circle cx="336.8" cy="367.4" r="1.7" fill="#10aa8a"/>
<circle cx="269.4" cy="388.1" r="1.7" fill="#3c3bd7"/>
<circle cx="381.2" cy="352" r="1.7" fill="#10aa8a"/>
<circle cx="299.4" cy="377.3" r="1.7" fill="#10ab89"/>
<circle cx="444" cy="341.3" r="1.7" fill="#0732f5"/>
<circle cx="350.6" cy="363.6" r="1.7" fill="#10ab89"/>
<circle cx="314.8" cy="399.2" r="1.7" fill="#3d3ad7"/>
<circle cx="318.4" cy="362.8" r="1.7" fill="#10ac88"/>
<circle cx="294.7" cy="386.7" r="1.7" fill="#3d3ad7"/>
<circle cx="351.4" cy="363" r="1.7" fill="#10ac88"/>
<circle cx="314.8" cy="383" r="1.7" fill="#3e3ad7"/>
<circle cx="419.5" cy="320.5" r="1.7" fill="#0732f5"/>
<circle cx="345.8" cy="369.5" r="1.7" fill="#10ad87"/>
<circle cx="406.5" cy="338.5" r="1.7" fill="#10ae86"/>
<circle cx="314.5" cy="399.2" r="1.7" fill="#3f3ad6"/>
<circle cx="401.7" cy="423" r="1.7" fill="#3f3ad6"/>
<circle cx="419.9" cy="391.1" r="1.7" fill="#021244"/>
<circle cx="277.6" cy="394" r="1.7" fill="#3f3ad6"/>
<circle cx="319.2" cy="362.4" r="1.7" fill="#10af85"/>
<circle cx="343.7" cy="378.1" r="1.7" fill="#10af85"/>
<circle cx="346.5" cy="370.8" r="1.7" fill="#10b084"/>
<circle cx="321.3" cy="396" r="1.7" fill="#403ad6"/>
<circle cx="431.2" cy="329.9" r="1.7" fill="#0732f5"/>
<circle cx="346.6" cy="372.9" r="1.7" fill="#10b183"/>
<circle cx="370.8" cy="359.2" r="1.7" fill="#10b183"/>
<circle cx="336.9" cy="372.7" r="1.7" fill="#10b183"/>
<circle cx="298.5" cy="401" r="1.7" fill="#4139d5"/>
<circle cx="277.2" cy="392.4" r="1.7" fill="#4139d5"/>
<circle cx="350.5" cy="366" r="1.7" fill="#10b183"/>
<circle cx="412.5" cy="328.3" r="1.7" fill="#0732f5"/>
<circle cx="405.4" cy="340.4" r="1.7" fill="#10b283"/>
<circle cx="316.2" cy="371.9" r="1.7" fill="#10b282"/>
<circle cx="422.9" cy="390.4" r="1.7" fill="#02103d"/>
<circle cx="312.3" cy="387.3" r="1.7" fill="#4239d5"/>
<circle cx="446.9" cy="378.4" r="1.7" fill="#0732f5"/>
<circle cx="346.2" cy="375.9" r="1.7" fill="#10b381"/>
<circle cx="345.9" cy="407.1" r="1.7" fill="#4239d4"/>
<circle cx="412" cy="326.6" r="1.7" fill="#0732f5"/>
<circle cx="404.9" cy="422.2" r="1.7" fill="#4339d4"/>
<circle cx="401.6" cy="345" r="1.7" fill="#10b480"/>
<circle cx="432.9" cy="330.6" r="1.7" fill="#0732f5"/>
<circle cx="274" cy="388.3" r="1.7" fill="#4339d4"/>
<circle cx="274.4" cy="392.8" r="1.7" fill="#4339d4"/>
<circle cx="335.4" cy="368.4" r="1.7" fill="#10b57f"/>
<circle cx="402.2" cy="422.7" r="1.7" fill="#4339d4"/>
<circle cx="449.2" cy="348.4" r="1.7" fill="#0732f5"/>
<circle cx="273.1" cy="389.7" r="1.7" fill="#4438d4"/>
<circle cx="446.7" cy="378.4" r="1.7" fill="#0732f5"/>
<circle cx="439" cy="338.1" r="1.7" fill="#0732f5"/>
<circle cx="376.2" cy="357.2" r="1.7" fill="#10b67e"/>
<circle cx="433.8" cy="391.2" r="1.7" fill="#010d34"/>
<circle cx="361.6" cy="361" r="1.7" fill="#10b67e"/>
<circle cx="425.2" cy="330.1" r="1.7" fill="#0732f5"/>
<circle cx="358.8" cy="412.3" r="1.7" fill="#4438d3"/>
<circle cx="350.7" cy="372.3" r="1.7" fill="#10b77e"/>
<circle cx="274.8" cy="391.3" r="1.7" fill="#4538d3"/>
<circle cx="434.9" cy="331.6" r="1.7" fill="#0732f5"/>
<circle cx="416" cy="319.5" r="1.7" fill="#0732f5"/>
<circle cx="316.8" cy="372" r="1.7" fill="#10b87c"/>
<circle cx="335.3" cy="373" r="1.7" fill="#10b87c"/>
<circle cx="429.8" cy="391.4" r="1.7" fill="#010b2f"/>
<circle cx="314.8" cy="393.7" r="1.7" fill="#4638d2"/>
<circle cx="348.7" cy="374.7" r="1.7" fill="#10ba7b"/>
<circle cx="312.4" cy="390.5" r="1.7" fill="#4837d2"/>
<circle cx="444.8" cy="343.5" r="1.7" fill="#0732f5"/>
<circle cx="419.2" cy="324.7" r="1.7" fill="#0732f5"/>
<circle cx="393.2" cy="345.7" r="1.7" fill="#10bb79"/>
<circle cx="451.1" cy="362" r="1.7" fill="#0732f5"/>
<circle cx="336.7" cy="397.5" r="1.7" fill="#4837d2"/>
<circle cx="414.9" cy="328.7" r="1.7" fill="#0732f5"/>
<circle cx="297" cy="385.6" r="1.7" fill="#4937d1"/>
<circle cx="298.7" cy="380.7" r="1.7" fill="#4937d1"/>
<circle cx="311.2" cy="400" r="1.7" fill="#4937d1"/>
<circle cx="322.2" cy="362.4" r="1.7" fill="#10be77"/>
<circle cx="436.8" cy="335.6" r="1.7" fill="#0732f5"/>
<circle cx="301.8" cy="401.1" r="1.7" fill="#4a37d1"/>
<circle cx="427.6" cy="390.7" r="1.7" fill="#000824"/>
<circle cx="349.4" cy="410.1" r="1.7" fill="#4a37d1"/>
<circle cx="370.6" cy="360.2" r="1.7" fill="#10bf75"/>
<circle cx="334.2" cy="372.9" r="1.7" fill="#10c075"/>
<circle cx="413.9" cy="326.4" r="1.7" fill="#0732f5"/>
<circle cx="450.1" cy="370.5" r="1.7" fill="#0732f5"/>
<circle cx="309.2" cy="387.6" r="1.7" fill="#4b36d0"/>
<circle cx="415.8" cy="397.1" r="1.7" fill="#000824"/>
<circle cx="334.2" cy="372.6" r="1.7" fill="#10c174"/>
<circle cx="418.3" cy="327.2" r="1.7" fill="#0732f5"/>
<circle cx="405.8" cy="343.2" r="1.7" fill="#10c174"/>
<circle cx="323.2" cy="362.6" r="1.7" fill="#10c173"/>
<circle cx="416.9" cy="322" r="1.7" fill="#0732f5"/>
<circle cx="357.3" cy="362.4" r="1.7" fill="#10c272"/>
<circle cx="413.8" cy="324.5" r="1.7" fill="#0732f5"/>
<circle cx="415.3" cy="327.3" r="1.7" fill="#0732f5"/>
<circle cx="396.3" cy="419.1" r="1.7" fill="#4d36cf"/>
<circle cx="300.8" cy="400.5" r="1.7" fill="#4d36cf"/>
<circle cx="386.9" cy="415.3" r="1.7" fill="#4d36cf"/>
<circle cx="435.7" cy="335.1" r="1.7" fill="#0732f5"/>
<circle cx="354.1" cy="412" r="1.7" fill="#4d36cf"/>
<circle cx="394.9" cy="346.2" r="1.7" fill="#10c371"/>
<circle cx="428.7" cy="332.3" r="1.7" fill="#0732f5"/>
<circle cx="318" cy="389.7" r="1.7" fill="#4d36cf"/>
<circle cx="448.3" cy="348.8" r="1.7" fill="#0732f5"/>
<circle cx="302.6" cy="381.4" r="1.7" fill="#4d36cf"/>
<circle cx="380.7" cy="354.5" r="1.7" fill="#10c371"/>
<circle cx="357.5" cy="373.1" r="1.7" fill="#10c471"/>
<circle cx="353.3" cy="374.5" r="1.7" fill="#10c471"/>
<circle cx="321" cy="392.9" r="1.7" fill="#4d36cf"/>
<circle cx="346.5" cy="405.5" r="1.7" fill="#4d36cf"/>
<circle cx="354.3" cy="366.5" r="1.7" fill="#10c66f"/>
<circle cx="413.9" cy="406.5" r="1.7" fill="#000824"/>
<circle cx="434.7" cy="336.5" r="1.7" fill="#0732f5"/>
<circle cx="358.3" cy="374" r="1.7" fill="#10c66e"/>
<circle cx="427.4" cy="332.7" r="1.7" fill="#0732f5"/>
<circle cx="356.9" cy="363.1" r="1.7" fill="#10c76e"/>
<circle cx="415" cy="323.9" r="1.7" fill="#0732f5"/>
<circle cx="296.5" cy="391.7" r="1.7" fill="#4f35ce"/>
<circle cx="349.7" cy="409.1" r="1.7" fill="#5035ce"/>
<circle cx="343.6" cy="401.2" r="1.7" fill="#5035ce"/>
<circle cx="299.4" cy="382.3" r="1.7" fill="#5035ce"/>
<circle cx="356.6" cy="363.3" r="1.7" fill="#10c86d"/>
<circle cx="306.9" cy="400.4" r="1.7" fill="#5035ce"/>
<circle cx="395.1" cy="417.5" r="1.7" fill="#5035ce"/>
<circle cx="304.8" cy="383.2" r="1.7" fill="#5135cd"/>
<circle cx="422.4" cy="331.6" r="1.7" fill="#0732f5"/>
<circle cx="413.9" cy="405.9" r="1.7" fill="#000824"/>
<circle cx="362.2" cy="370.2" r="1.7" fill="#10c96b"/>
<circle cx="432.4" cy="334.7" r="1.7" fill="#0732f5"/>
<circle cx="432.7" cy="335.7" r="1.7" fill="#0732f5"/>
<circle cx="296.5" cy="394.5" r="1.7" fill="#5134cd"/>
<circle cx="354.6" cy="411.3" r="1.7" fill="#5234cd"/>
<circle cx="450.4" cy="363.2" r="1.7" fill="#0732f5"/>
<circle cx="358.4" cy="370" r="1.7" fill="#10cb6a"/>
<circle cx="354.7" cy="411.2" r="1.7" fill="#5234cd"/>
<circle cx="311.1" cy="398.3" r="1.7" fill="#5234cd"/>
<circle cx="297.4" cy="396.8" r="1.7" fill="#5234cd"/>
<circle cx="414.9" cy="399" r="1.7" fill="#000824"/>
<circle cx="317.8" cy="385.9" r="1.7" fill="#5234cd"/>
<circle cx="324.1" cy="393" r="1.7" fill="#5234cd"/>
<circle cx="309.5" cy="399.4" r="1.7" fill="#5234cd"/>
<circle cx="324.6" cy="393" r="1.7" fill="#5334cc"/>
<circle cx="300.8" cy="382.4" r="1.7" fill="#5334cc"/>
<circle cx="399.4" cy="420.6" r="1.7" fill="#5334cc"/>
<circle cx="326.5" cy="393.3" r="1.7" fill="#5434cc"/>
<circle cx="384.9" cy="414.7" r="1.7" fill="#5434cc"/>
<circle cx="308.6" cy="390" r="1.7" fill="#5433cc"/>
<circle cx="432.6" cy="340.3" r="1.7" fill="#0732f5"/>
<circle cx="356.9" cy="368.2" r="1.7" fill="#10cf66"/>
<circle cx="359.2" cy="363.6" r="1.7" fill="#10cf65"/>
<circle cx="322.1" cy="391.2" r="1.7" fill="#5533cb"/>
<circle cx="337.4" cy="396.1" r="1.7" fill="#5533cb"/>
<circle cx="384.9" cy="351.9" r="1.7" fill="#10d065"/>
<circle cx="337.8" cy="381.6" r="1.7" fill="#5633cb"/>
<circle cx="373" cy="412.3" r="1.7" fill="#5733cb"/>
<circle cx="306.3" cy="386.5" r="1.7" fill="#5733cb"/>
<circle cx="358.8" cy="368.3" r="1.7" fill="#10d362"/>
<circle cx="319.3" cy="373.6" r="1.7" fill="#10d362"/>
<circle cx="309.6" cy="398.3" r="1.7" fill="#5832ca"/>
<circle cx="318.8" cy="385" r="1.7" fill="#5832ca"/>
<circle cx="357.3" cy="409.3" r="1.7" fill="#5832ca"/>
<circle cx="303.8" cy="383.9" r="1.7" fill="#5832ca"/>
<circle cx="326.5" cy="392.2" r="1.7" fill="#5832ca"/>
<circle cx="354.3" cy="409.8" r="1.7" fill="#5932ca"/>
<circle cx="340.5" cy="382.8" r="1.7" fill="#5932ca"/>
<circle cx="421.6" cy="333" r="1.7" fill="#0732f5"/>
<circle cx="366.2" cy="363" r="1.7" fill="#10d55f"/>
<circle cx="319.3" cy="372.6" r="1.7" fill="#10d55f"/>
<circle cx="400.3" cy="348.3" r="1.7" fill="#10d65f"/>
<circle cx="322.1" cy="389.5" r="1.7" fill="#5932c9"/>
<circle cx="328.9" cy="392.9" r="1.7" fill="#5932c9"/>
<circle cx="449.9" cy="361.5" r="1.7" fill="#0732f5"/>
<circle cx="435.7" cy="388.6" r="1.7" fill="#000824"/>
<circle cx="310.3" cy="396.2" r="1.7" fill="#5a32c9"/>
<circle cx="352" cy="408.5" r="1.7" fill="#5a32c9"/>
<circle cx="360.2" cy="367.4" r="1.7" fill="#10d65e"/>
<circle cx="361.9" cy="364.8" r="1.7" fill="#10d75e"/>
<circle cx="303.7" cy="384.3" r="1.7" fill="#5a32c9"/>
<circle cx="368.6" cy="362.3" r="1.7" fill="#10d75e"/>
<circle cx="319.2" cy="384.1" r="1.7" fill="#5a32c9"/>
<circle cx="332.1" cy="380" r="1.7" fill="#5b31c9"/>
<circle cx="408.7" cy="416.3" r="1.7" fill="#5b31c9"/>
<circle cx="360.3" cy="366.2" r="1.7" fill="#10d95c"/>
<circle cx="449.3" cy="357" r="1.7" fill="#0732f5"/>
<circle cx="364.5" cy="364.3" r="1.7" fill="#10d95c"/>
<circle cx="359.5" cy="407.7" r="1.7" fill="#5b31c8"/>
<circle cx="428.2" cy="339" r="1.7" fill="#0732f5"/>
<circle cx="421.8" cy="333.6" r="1.7" fill="#0732f5"/>
<circle cx="350.4" cy="378" r="1.7" fill="#10da5b"/>
<circle cx="367.3" cy="363" r="1.7" fill="#10da5b"/>
<circle cx="300.2" cy="397.6" r="1.7" fill="#5c31c8"/>
<circle cx="325.9" cy="364.7" r="1.7" fill="#10db5a"/>
<circle cx="320.6" cy="366.3" r="1.7" fill="#10db5a"/>
<circle cx="449.4" cy="365.8" r="1.7" fill="#0732f5"/>
<circle cx="329.1" cy="376.5" r="1.7" fill="#10dc59"/>
<circle cx="425.8" cy="336.4" r="1.7" fill="#0732f5"/>
<circle cx="356.2" cy="408.2" r="1.7" fill="#5e31c7"/>
<circle cx="299.5" cy="391.7" r="1.7" fill="#5e31c7"/>
<circle cx="368.7" cy="362.7" r="1.7" fill="#10dc58"/>
<circle cx="299.1" cy="394.6" r="1.7" fill="#5e31c7"/>
<circle cx="303.4" cy="385.4" r="1.7" fill="#5e30c7"/>
<circle cx="320" cy="384" r="1.7" fill="#5e30c7"/>
<circle cx="339.7" cy="383.3" r="1.7" fill="#5e30c7"/>
<circle cx="382.7" cy="354.7" r="1.7" fill="#10dd57"/>
<circle cx="422" cy="334.2" r="1.7" fill="#0732f5"/>
<circle cx="447.8" cy="352.6" r="1.7" fill="#0732f5"/>
<circle cx="302.7" cy="385.4" r="1.7" fill="#5f30c7"/>
<circle cx="399.5" cy="419.5" r="1.7" fill="#5f30c7"/>
<circle cx="328.8" cy="366.3" r="1.7" fill="#10df56"/>
<circle cx="340.4" cy="395.7" r="1.7" fill="#6030c6"/>
<circle cx="320.7" cy="381.8" r="1.7" fill="#6030c6"/>
<circle cx="302.1" cy="386.8" r="1.7" fill="#6130c6"/>
<circle cx="439.4" cy="383.9" r="1.7" fill="#000824"/>
<circle cx="447.3" cy="351.9" r="1.7" fill="#0732f5"/>
<circle cx="438.7" cy="385" r="1.7" fill="#000824"/>
<circle cx="445.1" cy="377.1" r="1.7" fill="#0732f5"/>
<circle cx="302.3" cy="387.8" r="1.7" fill="#6130c6"/>
<circle cx="346.1" cy="382.4" r="1.7" fill="#622fc5"/>
<circle cx="300.2" cy="393.2" r="1.7" fill="#622fc5"/>
<circle cx="340.3" cy="395.3" r="1.7" fill="#622fc5"/>
<circle cx="344.8" cy="383.7" r="1.7" fill="#622fc5"/>
<circle cx="321.3" cy="381.5" r="1.7" fill="#622fc5"/>
<circle cx="307.5" cy="393.6" r="1.7" fill="#622fc5"/>
<circle cx="435.1" cy="388" r="1.7" fill="#000824"/>
<circle cx="439.4" cy="343.8" r="1.7" fill="#0732f5"/>
<circle cx="306.9" cy="397.1" r="1.7" fill="#632fc5"/>
<circle cx="329.3" cy="381" r="1.7" fill="#642fc5"/>
<circle cx="419.3" cy="334.9" r="1.7" fill="#0732f5"/>
<circle cx="404" cy="349" r="1.7" fill="#10e550"/>
<circle cx="408.7" cy="343.8" r="1.7" fill="#10e54f"/>
<circle cx="322.5" cy="377" r="1.7" fill="#10e54f"/>
<circle cx="377.6" cy="412.5" r="1.7" fill="#642fc4"/>
<circle cx="307.3" cy="394.4" r="1.7" fill="#642fc4"/>
<circle cx="321.8" cy="381.9" r="1.7" fill="#642fc4"/>
<circle cx="367" cy="408" r="1.7" fill="#642fc4"/>
<circle cx="386" cy="413.4" r="1.7" fill="#652fc4"/>
<circle cx="326.3" cy="386.8" r="1.7" fill="#652fc4"/>
<circle cx="321.9" cy="384" r="1.7" fill="#652fc4"/>
<circle cx="448.9" cy="359" r="1.7" fill="#0732f5"/>
<circle cx="385.8" cy="413.3" r="1.7" fill="#652ec4"/>
<circle cx="322.3" cy="381.6" r="1.7" fill="#652ec4"/>
<circle cx="346.9" cy="401" r="1.7" fill="#662ec4"/>
<circle cx="385.6" cy="353.1" r="1.7" fill="#10e84c"/>
<circle cx="350.4" cy="403" r="1.7" fill="#662ec3"/>
<circle cx="336.8" cy="383.2" r="1.7" fill="#662ec3"/>
<circle cx="442.8" cy="346.5" r="1.7" fill="#0732f5"/>
<circle cx="379.8" cy="412.8" r="1.7" fill="#662ec3"/>
<circle cx="333.6" cy="382.3" r="1.7" fill="#672ec3"/>
<circle cx="426.7" cy="387.2" r="1.7" fill="#000824"/>
<circle cx="445.9" cy="350.7" r="1.7" fill="#0732f5"/>
<circle cx="365.1" cy="406.9" r="1.7" fill="#672ec3"/>
<circle cx="360.5" cy="377.2" r="1.7" fill="#10ea4b"/>
<circle cx="328.9" cy="382.1" r="1.7" fill="#672ec3"/>
<circle cx="443.7" cy="347.7" r="1.7" fill="#0732f5"/>
<circle cx="356.9" cy="404.3" r="1.7" fill="#672ec3"/>
<circle cx="324.2" cy="381.3" r="1.7" fill="#682ec3"/>
<circle cx="407" cy="348" r="1.7" fill="#10eb4a"/>
<circle cx="305.9" cy="395.4" r="1.7" fill="#682ec2"/>
<circle cx="322" cy="366.8" r="1.7" fill="#10eb4a"/>
<circle cx="328.1" cy="382.6" r="1.7" fill="#682ec2"/>
<circle cx="302.3" cy="394.2" r="1.7" fill="#682ec2"/>
<circle cx="349.2" cy="402.1" r="1.7" fill="#682dc2"/>
<circle cx="432" cy="388.2" r="1.7" fill="#000824"/>
<circle cx="304.1" cy="395.9" r="1.7" fill="#682dc2"/>
<circle cx="341.7" cy="394.7" r="1.7" fill="#692dc2"/>
<circle cx="325.6" cy="376.3" r="1.7" fill="#10ed48"/>
<circle cx="303.6" cy="394.3" r="1.7" fill="#692dc2"/>
<circle cx="389.1" cy="350.9" r="1.7" fill="#10ef46"/>
<circle cx="379.9" cy="358.6" r="1.7" fill="#10ef46"/>
<circle cx="367.9" cy="370.6" r="1.7" fill="#10ef46"/>
<circle cx="415.2" cy="337.3" r="1.7" fill="#0732f5"/>
<circle cx="354.5" cy="402.5" r="1.7" fill="#6b2dc1"/>
<circle cx="324.8" cy="375.6" r="1.7" fill="#10f045"/>
<circle cx="334.3" cy="392.5" r="1.7" fill="#6b2dc1"/>
<circle cx="322.6" cy="374.2" r="1.7" fill="#10f144"/>
<circle cx="332.4" cy="391.5" r="1.7" fill="#6c2cc1"/>
<circle cx="371.8" cy="409.8" r="1.7" fill="#6c2cc1"/>
<circle cx="428.2" cy="387.1" r="1.7" fill="#000824"/>
<circle cx="331.7" cy="390.8" r="1.7" fill="#6d2cc0"/>
<circle cx="436" cy="344.1" r="1.7" fill="#0732f5"/>
<circle cx="371.3" cy="409.5" r="1.7" fill="#6d2cc0"/>
<circle cx="395.8" cy="349.5" r="1.7" fill="#10f243"/>
<circle cx="377.7" cy="360.8" r="1.7" fill="#10f342"/>
<circle cx="390.1" cy="412.3" r="1.7" fill="#6d2cc0"/>
<circle cx="441.8" cy="346.8" r="1.7" fill="#0732f5"/>
<circle cx="423.5" cy="385" r="1.7" fill="#000824"/>
<circle cx="369.7" cy="364.9" r="1.7" fill="#10f441"/>
<circle cx="327.3" cy="367.1" r="1.7" fill="#10f440"/>
<circle cx="359.3" cy="403.5" r="1.7" fill="#6e2cbf"/>
<circle cx="345.2" cy="397.1" r="1.7" fill="#6e2cbf"/>
<circle cx="370.4" cy="364.7" r="1.7" fill="#10f540"/>
<circle cx="347.2" cy="399.4" r="1.7" fill="#6f2cbf"/>
<circle cx="355.6" cy="401.9" r="1.7" fill="#6f2bbf"/>
<circle cx="333.3" cy="391.4" r="1.7" fill="#6f2bbf"/>
<circle cx="421.5" cy="336.8" r="1.7" fill="#0732f5"/>
<circle cx="364.4" cy="405.5" r="1.7" fill="#6f2bbf"/>
<circle cx="425.3" cy="339.9" r="1.7" fill="#0732f5"/>
<circle cx="345.5" cy="397.2" r="1.7" fill="#702bbf"/>
<circle cx="404.6" cy="418.1" r="1.7" fill="#702bbf"/>
<circle cx="322.5" cy="372.6" r="1.7" fill="#10f73e"/>
<circle cx="331.7" cy="384.1" r="1.7" fill="#712bbe"/>
<circle cx="406.3" cy="416.8" r="1.7" fill="#712bbe"/>
<circle cx="399.2" cy="417.6" r="1.7" fill="#712bbe"/>
<circle cx="373.8" cy="410.1" r="1.7" fill="#712bbe"/>
<circle cx="357.3" cy="378.1" r="1.7" fill="#10f93c"/>
<circle cx="439" cy="345.5" r="1.7" fill="#0732f5"/>
<circle cx="419.5" cy="336.7" r="1.7" fill="#0732f5"/>
<circle cx="417.2" cy="337.1" r="1.7" fill="#0732f5"/>
<circle cx="411.3" cy="341.2" r="1.7" fill="#0732f5"/>
<circle cx="393.4" cy="350.1" r="1.7" fill="#10fa3c"/>
<circle cx="327.4" cy="367.9" r="1.7" fill="#10fa3c"/>
<circle cx="336.5" cy="391.9" r="1.7" fill="#732abd"/>
<circle cx="323.3" cy="367.9" r="1.7" fill="#10fa3c"/>
<circle cx="328.2" cy="371" r="1.7" fill="#10fa3c"/>
<circle cx="369.3" cy="368" r="1.7" fill="#10fa3c"/>
<circle cx="379.1" cy="360.6" r="1.7" fill="#10fa3c"/>
<circle cx="332.2" cy="385" r="1.7" fill="#752abc"/>
<circle cx="327.8" cy="368.8" r="1.7" fill="#10fa3c"/>
<circle cx="331.7" cy="385.7" r="1.7" fill="#752abc"/>
<circle cx="342.4" cy="390.4" r="1.7" fill="#752abc"/>
<circle cx="447" cy="356.6" r="1.7" fill="#0732f5"/>
<circle cx="362.1" cy="403.5" r="1.7" fill="#7629bc"/>
<circle cx="344.5" cy="388.3" r="1.7" fill="#7629bc"/>
<circle cx="334.5" cy="384.9" r="1.7" fill="#7629bc"/>
<circle cx="438.6" cy="345.9" r="1.7" fill="#0732f5"/>
<circle cx="327.7" cy="369.2" r="1.7" fill="#10fa3c"/>
<circle cx="322.9" cy="369.9" r="1.7" fill="#10fa3c"/>
<circle cx="364.2" cy="377.5" r="1.7" fill="#10fa3c"/>
<circle cx="400.2" cy="417.6" r="1.7" fill="#7729bb"/>
<circle cx="392.8" cy="350.6" r="1.7" fill="#10fa3c"/>
<circle cx="423.2" cy="384.1" r="1.7" fill="#000824"/>
<circle cx="424.7" cy="384.5" r="1.7" fill="#000824"/>
<circle cx="373.4" cy="364.8" r="1.7" fill="#10fa3c"/>
<circle cx="340.4" cy="388.9" r="1.7" fill="#7729bb"/>
<circle cx="362.9" cy="403.7" r="1.7" fill="#7829bb"/>
<circle cx="377" cy="363" r="1.7" fill="#10fa3c"/>
<circle cx="445.7" cy="373.7" r="1.7" fill="#0732f5"/>
<circle cx="362.3" cy="403.3" r="1.7" fill="#7829bb"/>
<circle cx="332.7" cy="385.9" r="1.7" fill="#7829bb"/>
<circle cx="340.2" cy="389.2" r="1.7" fill="#7829bb"/>
<circle cx="424.4" cy="384.3" r="1.7" fill="#000824"/>
<circle cx="380.4" cy="360" r="1.7" fill="#10fa3c"/>
<circle cx="327.4" cy="370.2" r="1.7" fill="#10fa3c"/>
<circle cx="349.5" cy="398.9" r="1.7" fill="#7928ba"/>
<circle cx="415" cy="338.6" r="1.7" fill="#0732f5"/>
<circle cx="327.2" cy="369.9" r="1.7" fill="#10fa3c"/>
<circle cx="408.2" cy="413.7" r="1.7" fill="#7a28ba"/>
<circle cx="371.5" cy="366.2" r="1.7" fill="#10fa3c"/>
<circle cx="426.3" cy="384.9" r="1.7" fill="#000824"/>
<circle cx="378.3" cy="362.2" r="1.7" fill="#10fa3c"/>
<circle cx="445" cy="353.8" r="1.7" fill="#0732f5"/>
<circle cx="339.2" cy="388.8" r="1.7" fill="#7a28ba"/>
<circle cx="326.8" cy="370.9" r="1.7" fill="#10fa3c"/>
<circle cx="374.5" cy="409.5" r="1.7" fill="#7a28ba"/>
<circle cx="347.8" cy="397.2" r="1.7" fill="#7b28ba"/>
<circle cx="415.9" cy="389.6" r="1.7" fill="#000824"/>
<circle cx="379.5" cy="411.1" r="1.7" fill="#7b28b9"/>
<circle cx="338" cy="388" r="1.7" fill="#7c27b9"/>
<circle cx="325.2" cy="369.6" r="1.7" fill="#10fa3c"/>
<circle cx="337.3" cy="389.4" r="1.7" fill="#7d27b8"/>
<circle cx="334.3" cy="388.1" r="1.7" fill="#7e27b8"/>
<circle cx="345.9" cy="391.5" r="1.7" fill="#7e27b8"/>
<circle cx="348.6" cy="397.2" r="1.7" fill="#7e27b8"/>
<circle cx="354.9" cy="399.4" r="1.7" fill="#7e27b8"/>
<circle cx="389.6" cy="352.6" r="1.7" fill="#10fa3c"/>
<circle cx="348.4" cy="384.1" r="1.7" fill="#7f27b8"/>
<circle cx="336.4" cy="388.5" r="1.7" fill="#7f27b8"/>
<circle cx="346.1" cy="391.4" r="1.7" fill="#7f27b8"/>
<circle cx="436.7" cy="383.8" r="1.7" fill="#000824"/>
<circle cx="435.9" cy="346.3" r="1.7" fill="#0732f5"/>
<circle cx="426.3" cy="343" r="1.7" fill="#0732f5"/>
<circle cx="438.5" cy="347.5" r="1.7" fill="#0732f5"/>
<circle cx="433.4" cy="385.6" r="1.7" fill="#000824"/>
<circle cx="437.7" cy="382.3" r="1.7" fill="#000824"/>
<circle cx="444.1" cy="354.2" r="1.7" fill="#0732f5"/>
<circle cx="393.2" cy="351.5" r="1.7" fill="#10fa3c"/>
<circle cx="413.7" cy="340.3" r="1.7" fill="#0732f5"/>
<circle cx="371.8" cy="407" r="1.7" fill="#8226b6"/>
<circle cx="369.6" cy="405.7" r="1.7" fill="#8226b6"/>
<circle cx="411.7" cy="342.8" r="1.7" fill="#0732f5"/>
<circle cx="378.1" cy="410.1" r="1.7" fill="#8226b6"/>
<circle cx="371" cy="369.2" r="1.7" fill="#10fa3c"/>
<circle cx="351.8" cy="398.1" r="1.7" fill="#8226b6"/>
<circle cx="351.8" cy="381.1" r="1.7" fill="#8326b6"/>
<circle cx="440.4" cy="350.3" r="1.7" fill="#0732f5"/>
<circle cx="382.2" cy="359.6" r="1.7" fill="#10fa3c"/>
<circle cx="444.5" cy="374" r="1.7" fill="#0732f5"/>
<circle cx="444.8" cy="355.6" r="1.7" fill="#0732f5"/>
<circle cx="370.8" cy="406.1" r="1.7" fill="#8425b5"/>
<circle cx="446.4" cy="368.1" r="1.7" fill="#0732f5"/>
<circle cx="361.2" cy="401.1" r="1.7" fill="#8425b5"/>
<circle cx="398.1" cy="351.8" r="1.7" fill="#10fa3c"/>
<circle cx="389.3" cy="410.5" r="1.7" fill="#8525b5"/>
<circle cx="431.9" cy="385.3" r="1.7" fill="#000824"/>
<circle cx="406" cy="415.1" r="1.7" fill="#8624b4"/>
<circle cx="349.6" cy="383.5" r="1.7" fill="#8724b4"/>
<circle cx="445" cy="356.7" r="1.7" fill="#0732f5"/>
<circle cx="381.3" cy="361.1" r="1.7" fill="#10fa3c"/>
<circle cx="431.2" cy="385" r="1.7" fill="#000824"/>
<circle cx="438.2" cy="380.7" r="1.7" fill="#000824"/>
<circle cx="403.2" cy="416.4" r="1.7" fill="#8824b3"/>
<circle cx="378.5" cy="409.6" r="1.7" fill="#8924b3"/>
<circle cx="404.9" cy="351.6" r="1.7" fill="#10fa3c"/>
<circle cx="391.6" cy="410.1" r="1.7" fill="#8924b3"/>
<circle cx="436.1" cy="383.1" r="1.7" fill="#000824"/>
<circle cx="411.1" cy="405.6" r="1.7" fill="#000824"/>
<circle cx="438" cy="380.8" r="1.7" fill="#000824"/>
<circle cx="394.3" cy="352.2" r="1.7" fill="#10fa3c"/>
<circle cx="385.4" cy="357.3" r="1.7" fill="#10fa3c"/>
<circle cx="438" cy="349.2" r="1.7" fill="#0732f5"/>
<circle cx="349.2" cy="384.7" r="1.7" fill="#8b23b2"/>
<circle cx="432" cy="346.9" r="1.7" fill="#0732f5"/>
<circle cx="367.8" cy="403.4" r="1.7" fill="#8b23b2"/>
<circle cx="425" cy="343.3" r="1.7" fill="#0732f5"/>
<circle cx="443.7" cy="373.9" r="1.7" fill="#0732f5"/>
<circle cx="445.4" cy="370.3" r="1.7" fill="#0732f5"/>
<circle cx="351.5" cy="396.6" r="1.7" fill="#8c23b1"/>
<circle cx="399.7" cy="415.1" r="1.7" fill="#8c23b1"/>
<circle cx="396.8" cy="412.5" r="1.7" fill="#8d23b1"/>
<circle cx="445.4" cy="370.1" r="1.7" fill="#0732f5"/>
<circle cx="412.2" cy="343.7" r="1.7" fill="#0732f5"/>
<circle cx="445.8" cy="365.8" r="1.7" fill="#0732f5"/>
<circle cx="388.2" cy="409.9" r="1.7" fill="#8e22b0"/>
<circle cx="444.9" cy="358.5" r="1.7" fill="#0732f5"/>
<circle cx="357.9" cy="380" r="1.7" fill="#8f22b0"/>
<circle cx="390.7" cy="353.7" r="1.7" fill="#10fa3c"/>
<circle cx="436.6" cy="349.3" r="1.7" fill="#0732f5"/>
<circle cx="352.4" cy="381.9" r="1.7" fill="#9022af"/>
<circle cx="397.6" cy="352.6" r="1.7" fill="#10fa3c"/>
<circle cx="372.3" cy="370.6" r="1.7" fill="#10fa3c"/>
<circle cx="426.6" cy="345.2" r="1.7" fill="#0732f5"/>
<circle cx="435.6" cy="348.9" r="1.7" fill="#0732f5"/>
<circle cx="440.2" cy="377.1" r="1.7" fill="#0732f5"/>
<circle cx="389.7" cy="409.4" r="1.7" fill="#9221ae"/>
<circle cx="380.4" cy="363.7" r="1.7" fill="#10fa3c"/>
<circle cx="429.7" cy="347.1" r="1.7" fill="#0732f5"/>
<circle cx="443.5" cy="357.3" r="1.7" fill="#0732f5"/>
<circle cx="404.3" cy="415.1" r="1.7" fill="#9321ae"/>
<circle cx="445.3" cy="364.9" r="1.7" fill="#0732f5"/>
<circle cx="349.5" cy="393" r="1.7" fill="#9321ae"/>
<circle cx="372.5" cy="404.5" r="1.7" fill="#9420ae"/>
<circle cx="432.4" cy="348.2" r="1.7" fill="#0732f5"/>
<circle cx="374.3" cy="369.2" r="1.7" fill="#10fa3c"/>
<circle cx="371.2" cy="373.5" r="1.7" fill="#10fa3c"/>
<circle cx="435.4" cy="382.3" r="1.7" fill="#000824"/>
<circle cx="431.6" cy="383.6" r="1.7" fill="#000824"/>
<circle cx="349" cy="388.8" r="1.7" fill="#9620ad"/>
<circle cx="374.3" cy="405.3" r="1.7" fill="#9620ad"/>
<circle cx="444.6" cy="369.9" r="1.7" fill="#0732f5"/>
<circle cx="442.4" cy="374.1" r="1.7" fill="#0732f5"/>
<circle cx="433.3" cy="348.8" r="1.7" fill="#0732f5"/>
<circle cx="414.3" cy="341.8" r="1.7" fill="#0732f5"/>
<circle cx="387.8" cy="409.3" r="1.7" fill="#9720ac"/>
<circle cx="373.6" cy="370.3" r="1.7" fill="#10fa3c"/>
<circle cx="373.5" cy="370.6" r="1.7" fill="#10fa3c"/>
<circle cx="388.9" cy="355.7" r="1.7" fill="#10fa3c"/>
<circle cx="405.9" cy="413.4" r="1.7" fill="#981fab"/>
<circle cx="369.5" cy="402.4" r="1.7" fill="#991fab"/>
<circle cx="352.7" cy="382.4" r="1.7" fill="#991fab"/>
<circle cx="435.3" cy="351.4" r="1.7" fill="#0732f5"/>
<circle cx="426.6" cy="346.3" r="1.7" fill="#0732f5"/>
<circle cx="443" cy="358.5" r="1.7" fill="#0732f5"/>
<circle cx="440.1" cy="356.6" r="1.7" fill="#0732f5"/>
<circle cx="420.1" cy="341.3" r="1.7" fill="#0732f5"/>
<circle cx="433.7" cy="350.1" r="1.7" fill="#0732f5"/>
<circle cx="444.1" cy="369.3" r="1.7" fill="#0732f5"/>
<circle cx="391.5" cy="354.6" r="1.7" fill="#10fa3c"/>
<circle cx="366" cy="400.7" r="1.7" fill="#9c1eaa"/>
<circle cx="368.4" cy="401.6" r="1.7" fill="#9c1eaa"/>
<circle cx="436.2" cy="353.8" r="1.7" fill="#0732f5"/>
<circle cx="408.6" cy="409.4" r="1.7" fill="#9d1ea9"/>
<circle cx="423.3" cy="343.8" r="1.7" fill="#0732f5"/>
<circle cx="424.8" cy="345.4" r="1.7" fill="#0732f5"/>
<circle cx="349.8" cy="388.4" r="1.7" fill="#9e1da9"/>
<circle cx="440.4" cy="375.4" r="1.7" fill="#0732f5"/>
<circle cx="444" cy="362.8" r="1.7" fill="#0732f5"/>
<circle cx="385.9" cy="359.4" r="1.7" fill="#10fa3c"/>
<circle cx="417.7" cy="341.1" r="1.7" fill="#0732f5"/>
<circle cx="443.6" cy="361.3" r="1.7" fill="#0732f5"/>
<circle cx="431" cy="349.5" r="1.7" fill="#0732f5"/>
<circle cx="379.7" cy="407.6" r="1.7" fill="#a11da8"/>
<circle cx="443.9" cy="364.2" r="1.7" fill="#0732f5"/>
<circle cx="399.8" cy="413.2" r="1.7" fill="#a11ca7"/>
<circle cx="443.7" cy="365.1" r="1.7" fill="#0732f5"/>
<circle cx="376.3" cy="404.3" r="1.7" fill="#a31ca6"/>
<circle cx="436.3" cy="355.6" r="1.7" fill="#0732f5"/>
<circle cx="442.5" cy="371.9" r="1.7" fill="#0732f5"/>
<circle cx="419.1" cy="381.6" r="1.7" fill="#000824"/>
<circle cx="397.4" cy="411" r="1.7" fill="#a41ca6"/>
<circle cx="372.6" cy="374.1" r="1.7" fill="#10fa3c"/>
<circle cx="350.7" cy="387" r="1.7" fill="#a51ba5"/>
<circle cx="416.1" cy="342.1" r="1.7" fill="#0732f5"/>
<circle cx="428.7" cy="349.2" r="1.7" fill="#0732f5"/>
<circle cx="416.9" cy="341.9" r="1.7" fill="#0732f5"/>
<circle cx="357.2" cy="381.4" r="1.7" fill="#a61ba5"/>
<circle cx="395.3" cy="354.5" r="1.7" fill="#10fa3c"/>
<circle cx="412" cy="349.6" r="1.7" fill="#0732f5"/>
<circle cx="372.7" cy="374.4" r="1.7" fill="#10fa3c"/>
<circle cx="422.9" cy="344.8" r="1.7" fill="#0732f5"/>
<circle cx="351.2" cy="391.4" r="1.7" fill="#a71ba4"/>
<circle cx="370.9" cy="376.2" r="1.7" fill="#10fa3c"/>
<circle cx="383.2" cy="408" r="1.7" fill="#a81aa4"/>
<circle cx="374.3" cy="372.8" r="1.7" fill="#10fa3c"/>
<circle cx="370.5" cy="376.7" r="1.7" fill="#10fa3c"/>
<circle cx="437.9" cy="357.8" r="1.7" fill="#0732f5"/>
<circle cx="395.8" cy="409.5" r="1.7" fill="#a91aa4"/>
<circle cx="386.2" cy="360.7" r="1.7" fill="#10fa3c"/>
<circle cx="380.3" cy="406.6" r="1.7" fill="#aa1aa3"/>
<circle cx="435.7" cy="356.4" r="1.7" fill="#0732f5"/>
<circle cx="354.1" cy="394.6" r="1.7" fill="#ab19a3"/>
<circle cx="389.8" cy="357.1" r="1.7" fill="#10fa3c"/>
<circle cx="429.6" cy="381.4" r="1.7" fill="#000824"/>
<circle cx="384.2" cy="363.2" r="1.7" fill="#10fa3c"/>
<circle cx="378.8" cy="405.3" r="1.7" fill="#ab19a2"/>
<circle cx="406.8" cy="410.7" r="1.7" fill="#ac19a2"/>
<circle cx="411.8" cy="350.6" r="1.7" fill="#0732f5"/>
<circle cx="383" cy="407.5" r="1.7" fill="#ac19a2"/>
<circle cx="439.2" cy="374.8" r="1.7" fill="#0732f5"/>
<circle cx="355.9" cy="382.3" r="1.7" fill="#ae19a1"/>
<circle cx="439.1" cy="359.5" r="1.7" fill="#0732f5"/>
<circle cx="377.5" cy="403.6" r="1.7" fill="#ae19a1"/>
<circle cx="433.1" cy="380.7" r="1.7" fill="#000824"/>
<circle cx="376.3" cy="372.1" r="1.7" fill="#10fa3c"/>
<circle cx="398.2" cy="410.8" r="1.7" fill="#af18a1"/>
<circle cx="441.7" cy="363.8" r="1.7" fill="#0732f5"/>
<circle cx="402.4" cy="412.8" r="1.7" fill="#b018a0"/>
<circle cx="409.3" cy="405.9" r="1.7" fill="#b018a0"/>
<circle cx="431.1" cy="352.9" r="1.7" fill="#0732f5"/>
<circle cx="366.8" cy="399.2" r="1.7" fill="#b118a0"/>
<circle cx="372.8" cy="400.9" r="1.7" fill="#b118a0"/>
<circle cx="379.3" cy="369.2" r="1.7" fill="#10fa3c"/>
<circle cx="439.7" cy="360.8" r="1.7" fill="#0732f5"/>
<circle cx="397.4" cy="410" r="1.7" fill="#b118a0"/>
<circle cx="440" cy="361.2" r="1.7" fill="#0732f5"/>
<circle cx="426.5" cy="349.8" r="1.7" fill="#0732f5"/>
<circle cx="385.2" cy="407.2" r="1.7" fill="#b218a0"/>
<circle cx="354.5" cy="383.3" r="1.7" fill="#b218a0"/>
<circle cx="383.9" cy="407.1" r="1.7" fill="#b218a0"/>
<circle cx="415.7" cy="344.1" r="1.7" fill="#0732f5"/>
<circle cx="390.8" cy="357.2" r="1.7" fill="#10fa3c"/>
<circle cx="415.4" cy="384.8" r="1.7" fill="#000824"/>
<circle cx="402.5" cy="412.6" r="1.7" fill="#b218a0"/>
<circle cx="416" cy="343.8" r="1.7" fill="#0732f5"/>
<circle cx="425.7" cy="349.6" r="1.7" fill="#0732f5"/>
<circle cx="378.4" cy="370.8" r="1.7" fill="#10fa3c"/>
<circle cx="425" cy="349" r="1.7" fill="#0732f5"/>
<circle cx="415.7" cy="344.2" r="1.7" fill="#0732f5"/>
<circle cx="435.2" cy="378.6" r="1.7" fill="#0732f5"/>
<circle cx="418.9" cy="343.6" r="1.7" fill="#0732f5"/>
<circle cx="440.9" cy="370.1" r="1.7" fill="#0732f5"/>
<circle cx="406.7" cy="409.9" r="1.7" fill="#b218a0"/>
<circle cx="367.4" cy="398.9" r="1.7" fill="#b218a0"/>
<circle cx="438.6" cy="361.3" r="1.7" fill="#0732f5"/>
<circle cx="353.6" cy="392.6" r="1.7" fill="#b218a0"/>
<circle cx="438.7" cy="361.4" r="1.7" fill="#0732f5"/>
<circle cx="429.6" cy="353.4" r="1.7" fill="#0732f5"/>
<circle cx="440.5" cy="368.4" r="1.7" fill="#0732f5"/>
<circle cx="380.8" cy="404.7" r="1.7" fill="#b218a0"/>
<circle cx="440.3" cy="366.3" r="1.7" fill="#0732f5"/>
<circle cx="400.6" cy="354.8" r="1.7" fill="#10fa3c"/>
<circle cx="414.5" cy="386.8" r="1.7" fill="#000824"/>
<circle cx="418.5" cy="344.5" r="1.7" fill="#0732f5"/>
<circle cx="355.2" cy="383.7" r="1.7" fill="#b218a0"/>
<circle cx="382.8" cy="366.7" r="1.7" fill="#10fa3c"/>
<circle cx="438.8" cy="372.6" r="1.7" fill="#0732f5"/>
<circle cx="433.3" cy="357.3" r="1.7" fill="#0732f5"/>
<circle cx="353.5" cy="385.5" r="1.7" fill="#b218a0"/>
<circle cx="403.1" cy="411.6" r="1.7" fill="#b218a0"/>
<circle cx="434.4" cy="378.1" r="1.7" fill="#0732f5"/>
<circle cx="414.3" cy="349.5" r="1.7" fill="#0732f5"/>
<circle cx="352.8" cy="387.9" r="1.7" fill="#b218a0"/>
<circle cx="353" cy="390.4" r="1.7" fill="#b218a0"/>
<circle cx="382.5" cy="405.3" r="1.7" fill="#b218a0"/>
<circle cx="415.5" cy="383.5" r="1.7" fill="#000824"/>
<circle cx="389.9" cy="359.2" r="1.7" fill="#10fa3c"/>
<circle cx="358.2" cy="395.2" r="1.7" fill="#b218a0"/>
<circle cx="421.6" cy="347.6" r="1.7" fill="#0732f5"/>
<circle cx="353.4" cy="391" r="1.7" fill="#b218a0"/>
<circle cx="407.6" cy="407.9" r="1.7" fill="#b218a0"/>
<circle cx="406.1" cy="354.3" r="1.7" fill="#10fa3c"/>
<circle cx="425.9" cy="351.9" r="1.7" fill="#0732f5"/>
<circle cx="353.8" cy="391.6" r="1.7" fill="#b218a0"/>
<circle cx="436.1" cy="376" r="1.7" fill="#0732f5"/>
<circle cx="381.8" cy="368.4" r="1.7" fill="#10fa3c"/>
<circle cx="378.6" cy="373.2" r="1.7" fill="#10fa3c"/>
<circle cx="383.6" cy="405.4" r="1.7" fill="#b218a0"/>
<circle cx="433.8" cy="358.5" r="1.7" fill="#0732f5"/>
<circle cx="358.3" cy="394.9" r="1.7" fill="#b218a0"/>
<circle cx="404.4" cy="410.7" r="1.7" fill="#b218a0"/>
<circle cx="377.7" cy="401.3" r="1.7" fill="#b218a0"/>
<circle cx="383.8" cy="366.5" r="1.7" fill="#10fa3c"/>
<circle cx="375" cy="376.2" r="1.7" fill="#10fa3c"/>
<circle cx="357.8" cy="383.2" r="1.7" fill="#b218a0"/>
<circle cx="415.4" cy="348.8" r="1.7" fill="#0732f5"/>
<circle cx="382" cy="368.6" r="1.7" fill="#10fa3c"/>
<circle cx="429.8" cy="355.3" r="1.7" fill="#0732f5"/>
<circle cx="418.3" cy="346.3" r="1.7" fill="#0732f5"/>
<circle cx="408.8" cy="404.8" r="1.7" fill="#b218a0"/>
<circle cx="363.7" cy="396.7" r="1.7" fill="#b218a0"/>
<circle cx="406" cy="354.6" r="1.7" fill="#10fa3c"/>
<circle cx="361.7" cy="396" r="1.7" fill="#b218a0"/>
<circle cx="386" cy="405.3" r="1.7" fill="#b218a0"/>
<circle cx="384.6" cy="405.1" r="1.7" fill="#b218a0"/>
<circle cx="380.8" cy="370.8" r="1.7" fill="#10fa3c"/>
<circle cx="417.4" cy="347" r="1.7" fill="#0732f5"/>
<circle cx="414.1" cy="351.5" r="1.7" fill="#0732f5"/>
<circle cx="375.8" cy="400.1" r="1.7" fill="#b218a0"/>
<circle cx="393.2" cy="358.1" r="1.7" fill="#10fa3c"/>
<circle cx="408.5" cy="354.5" r="1.7" fill="#10fa3c"/>
<circle cx="372.4" cy="378" r="1.7" fill="#10fa3c"/>
<circle cx="418.3" cy="347.3" r="1.7" fill="#0732f5"/>
<circle cx="419.1" cy="347.6" r="1.7" fill="#0732f5"/>
<circle cx="413" cy="352.6" r="1.7" fill="#0732f5"/>
<circle cx="414.6" cy="351.1" r="1.7" fill="#0732f5"/>
<circle cx="413" cy="352.7" r="1.7" fill="#0732f5"/>
<circle cx="382.7" cy="368.5" r="1.7" fill="#10fa3c"/>
<circle cx="415" cy="350.6" r="1.7" fill="#0732f5"/>
<circle cx="438.1" cy="366.8" r="1.7" fill="#0732f5"/>
<circle cx="390" cy="360.6" r="1.7" fill="#10fa3c"/>
<circle cx="365.1" cy="381.8" r="1.7" fill="#b218a0"/>
<circle cx="357" cy="393.6" r="1.7" fill="#b218a0"/>
<circle cx="380.5" cy="372.1" r="1.7" fill="#10fa3c"/>
<circle cx="437.3" cy="372.1" r="1.7" fill="#0732f5"/>
<circle cx="405" cy="354.9" r="1.7" fill="#10fa3c"/>
<circle cx="434.5" cy="360.6" r="1.7" fill="#0732f5"/>
<circle cx="382.4" cy="369.2" r="1.7" fill="#10fa3c"/>
<circle cx="434.1" cy="376.7" r="1.7" fill="#0732f5"/>
<circle cx="395" cy="357.7" r="1.7" fill="#10fa3c"/>
<circle cx="417.8" cy="348.6" r="1.7" fill="#0732f5"/>
<circle cx="418" cy="348.5" r="1.7" fill="#0732f5"/>
<circle cx="394.2" cy="358.1" r="1.7" fill="#10fa3c"/>
<circle cx="398.3" cy="408.4" r="1.7" fill="#b218a0"/>
<circle cx="437.3" cy="370.8" r="1.7" fill="#0732f5"/>
<circle cx="374.2" cy="377.6" r="1.7" fill="#10fa3c"/>
<circle cx="373.2" cy="378.1" r="1.7" fill="#10fa3c"/>
<circle cx="429.3" cy="356.4" r="1.7" fill="#0732f5"/>
<circle cx="362.8" cy="395.7" r="1.7" fill="#b218a0"/>
<circle cx="388.6" cy="362.7" r="1.7" fill="#10fa3c"/>
<circle cx="436.3" cy="372.7" r="1.7" fill="#0732f5"/>
<circle cx="356.2" cy="392.2" r="1.7" fill="#b218a0"/>
<circle cx="425.7" cy="354.2" r="1.7" fill="#0732f5"/>
<circle cx="429.9" cy="378.6" r="1.7" fill="#0732f5"/>
<circle cx="423.3" cy="352.8" r="1.7" fill="#0732f5"/>
<circle cx="358.6" cy="393.9" r="1.7" fill="#b218a0"/>
<circle cx="390" cy="361.5" r="1.7" fill="#10fa3c"/>
<circle cx="377.1" cy="376.8" r="1.7" fill="#10fa3c"/>
<circle cx="435.8" cy="363.7" r="1.7" fill="#0732f5"/>
<circle cx="364.3" cy="396" r="1.7" fill="#b218a0"/>
<circle cx="428.7" cy="356.4" r="1.7" fill="#0732f5"/>
<circle cx="434.8" cy="374.9" r="1.7" fill="#0732f5"/>
<circle cx="390.3" cy="361.4" r="1.7" fill="#10fa3c"/>
<circle cx="357.6" cy="384.4" r="1.7" fill="#b218a0"/>
<circle cx="390.7" cy="361.2" r="1.7" fill="#10fa3c"/>
<circle cx="429.9" cy="357.6" r="1.7" fill="#0732f5"/>
<circle cx="408.8" cy="355.1" r="1.7" fill="#10fa3c"/>
<circle cx="386.7" cy="404.1" r="1.7" fill="#b218a0"/>
<circle cx="365.8" cy="382.3" r="1.7" fill="#b218a0"/>
<circle cx="398.4" cy="357" r="1.7" fill="#10fa3c"/>
<circle cx="417.9" cy="351.2" r="1.7" fill="#0732f5"/>
<circle cx="431.6" cy="359.3" r="1.7" fill="#0732f5"/>
<circle cx="357.1" cy="385.1" r="1.7" fill="#b218a0"/>
<circle cx="415.3" cy="382.1" r="1.7" fill="#000824"/>
<circle cx="366.1" cy="382.3" r="1.7" fill="#b218a0"/>
<circle cx="368.5" cy="381.2" r="1.7" fill="#b218a0"/>
<circle cx="423.4" cy="353.7" r="1.7" fill="#0732f5"/>
<circle cx="391.6" cy="404.6" r="1.7" fill="#b218a0"/>
<circle cx="389.8" cy="404.2" r="1.7" fill="#b218a0"/>
<circle cx="355.5" cy="389.1" r="1.7" fill="#b218a0"/>
<circle cx="403" cy="355.8" r="1.7" fill="#10fa3c"/>
<circle cx="360.1" cy="393.9" r="1.7" fill="#b218a0"/>
<circle cx="420.6" cy="352.5" r="1.7" fill="#0732f5"/>
<circle cx="376.1" cy="377.9" r="1.7" fill="#10fa3c"/>
<circle cx="371.3" cy="397.2" r="1.7" fill="#b218a0"/>
<circle cx="435.5" cy="371.8" r="1.7" fill="#0732f5"/>
<circle cx="434.9" cy="364.2" r="1.7" fill="#0732f5"/>
<circle cx="406.1" cy="407.4" r="1.7" fill="#b218a0"/>
<circle cx="366.3" cy="382.4" r="1.7" fill="#b218a0"/>
<circle cx="369.3" cy="381.1" r="1.7" fill="#b218a0"/>
<circle cx="393.5" cy="404.9" r="1.7" fill="#b218a0"/>
<circle cx="432.2" cy="376.5" r="1.7" fill="#0732f5"/>
<circle cx="372.8" cy="397.6" r="1.7" fill="#b218a0"/>
<circle cx="435.8" cy="369.5" r="1.7" fill="#0732f5"/>
<circle cx="402.9" cy="356" r="1.7" fill="#10fa3c"/>
<circle cx="397.9" cy="357.7" r="1.7" fill="#10fa3c"/>
<circle cx="399.1" cy="407.7" r="1.7" fill="#b218a0"/>
<circle cx="429" cy="377.9" r="1.7" fill="#0732f5"/>
<circle cx="359.5" cy="393.2" r="1.7" fill="#b218a0"/>
<circle cx="382.2" cy="373.2" r="1.7" fill="#10fa3c"/>
<circle cx="404.5" cy="408.2" r="1.7" fill="#b218a0"/>
<circle cx="357.5" cy="385.8" r="1.7" fill="#b218a0"/>
<circle cx="369.9" cy="381.1" r="1.7" fill="#b218a0"/>
<circle cx="357.7" cy="385.7" r="1.7" fill="#b218a0"/>
<circle cx="403" cy="408.6" r="1.7" fill="#b218a0"/>
<circle cx="433.7" cy="374.2" r="1.7" fill="#0732f5"/>
<circle cx="413" cy="388.1" r="1.7" fill="#000824"/>
<circle cx="387.1" cy="403" r="1.7" fill="#b218a0"/>
<circle cx="435.1" cy="367.8" r="1.7" fill="#0732f5"/>
<circle cx="434.8" cy="366.5" r="1.7" fill="#0732f5"/>
<circle cx="425.6" cy="356.5" r="1.7" fill="#0732f5"/>
<circle cx="370.9" cy="396.2" r="1.7" fill="#b218a0"/>
<circle cx="360.2" cy="385.1" r="1.7" fill="#b218a0"/>
<circle cx="384.6" cy="370.1" r="1.7" fill="#10fa3c"/>
<circle cx="367.4" cy="382.8" r="1.7" fill="#b218a0"/>
<circle cx="434.2" cy="365.7" r="1.7" fill="#0732f5"/>
<circle cx="419.8" cy="353.9" r="1.7" fill="#0732f5"/>
<circle cx="383.3" cy="401.4" r="1.7" fill="#b218a0"/>
<circle cx="433.7" cy="365" r="1.7" fill="#0732f5"/>
<circle cx="405.7" cy="406.5" r="1.7" fill="#b218a0"/>
<circle cx="421.4" cy="354.7" r="1.7" fill="#0732f5"/>
<circle cx="421.2" cy="354.6" r="1.7" fill="#0732f5"/>
<circle cx="393" cy="362" r="1.7" fill="#10fa3c"/>
<circle cx="365.9" cy="383.7" r="1.7" fill="#b218a0"/>
<circle cx="392.3" cy="403.5" r="1.7" fill="#b218a0"/>
<circle cx="425.7" cy="377.9" r="1.7" fill="#0732f5"/>
<circle cx="362.4" cy="384.8" r="1.7" fill="#b218a0"/>
<circle cx="398.3" cy="406.3" r="1.7" fill="#b218a0"/>
<circle cx="428.5" cy="377.2" r="1.7" fill="#0732f5"/>
<circle cx="372.2" cy="396.3" r="1.7" fill="#b218a0"/>
<circle cx="432.7" cy="363.8" r="1.7" fill="#0732f5"/>
<circle cx="358" cy="387.7" r="1.7" fill="#b218a0"/>
<circle cx="358.4" cy="390.5" r="1.7" fill="#b218a0"/>
<circle cx="430.7" cy="376" r="1.7" fill="#0732f5"/>
<circle cx="429" cy="359.9" r="1.7" fill="#0732f5"/>
<circle cx="358.1" cy="389.1" r="1.7" fill="#b218a0"/>
<circle cx="426.6" cy="377.6" r="1.7" fill="#0732f5"/>
<circle cx="428.1" cy="359.3" r="1.7" fill="#0732f5"/>
<circle cx="371.3" cy="381.5" r="1.7" fill="#b218a0"/>
<circle cx="386.6" cy="369.1" r="1.7" fill="#10fa3c"/>
<circle cx="391.4" cy="364" r="1.7" fill="#10fa3c"/>
<circle cx="362" cy="392.7" r="1.7" fill="#b218a0"/>
<circle cx="421.4" cy="377.8" r="1.7" fill="#0732f5"/>
<circle cx="366.1" cy="393.8" r="1.7" fill="#b218a0"/>
<circle cx="414.8" cy="355.3" r="1.7" fill="#0732f5"/>
<circle cx="406.3" cy="404.8" r="1.7" fill="#b218a0"/>
<circle cx="430.7" cy="375.4" r="1.7" fill="#0732f5"/>
<circle cx="415.2" cy="355.3" r="1.7" fill="#0732f5"/>
<circle cx="407" cy="403.6" r="1.7" fill="#b218a0"/>
<circle cx="360.2" cy="391.2" r="1.7" fill="#b218a0"/>
<circle cx="391.6" cy="364.4" r="1.7" fill="#10fa3c"/>
<circle cx="429.5" cy="361.2" r="1.7" fill="#0732f5"/>
<circle cx="385.8" cy="401.2" r="1.7" fill="#b218a0"/>
<circle cx="426.7" cy="377.2" r="1.7" fill="#0732f5"/>
<circle cx="371.5" cy="395.3" r="1.7" fill="#b218a0"/>
<circle cx="385.7" cy="371.2" r="1.7" fill="#10fa3c"/>
<circle cx="406.1" cy="404.9" r="1.7" fill="#b218a0"/>
<circle cx="384.7" cy="372.8" r="1.7" fill="#10fa3c"/>
<circle cx="362.5" cy="385.9" r="1.7" fill="#b218a0"/>
<circle cx="429.3" cy="361.5" r="1.7" fill="#0732f5"/>
<circle cx="426.6" cy="359.2" r="1.7" fill="#0732f5"/>
<circle cx="362.5" cy="386.1" r="1.7" fill="#b218a0"/>
<circle cx="384.1" cy="374.4" r="1.7" fill="#10fa3c"/>
<circle cx="365.6" cy="385.1" r="1.7" fill="#b218a0"/>
<circle cx="367.8" cy="393.5" r="1.7" fill="#b218a0"/>
<circle cx="427.3" cy="359.9" r="1.7" fill="#0732f5"/>
<circle cx="432.9" cy="367.8" r="1.7" fill="#0732f5"/>
<circle cx="388.1" cy="369" r="1.7" fill="#10fa3c"/>
<circle cx="386.3" cy="371.4" r="1.7" fill="#10fa3c"/>
<circle cx="369.1" cy="383.8" r="1.7" fill="#b218a0"/>
<circle cx="389.7" cy="367.3" r="1.7" fill="#10fa3c"/>
<circle cx="403.7" cy="357.5" r="1.7" fill="#10fa3c"/>
<circle cx="360.9" cy="387.6" r="1.7" fill="#b218a0"/>
<circle cx="361.2" cy="390.6" r="1.7" fill="#b218a0"/>
<circle cx="393.5" cy="363.7" r="1.7" fill="#10fa3c"/>
<circle cx="423.8" cy="377.2" r="1.7" fill="#0732f5"/>
<circle cx="391.7" cy="365.3" r="1.7" fill="#10fa3c"/>
<circle cx="365.5" cy="392.4" r="1.7" fill="#b218a0"/>
<circle cx="371.8" cy="382.4" r="1.7" fill="#b218a0"/>
<circle cx="416.7" cy="355.7" r="1.7" fill="#0732f5"/>
<circle cx="429.3" cy="362.1" r="1.7" fill="#0732f5"/>
<circle cx="401.6" cy="406.2" r="1.7" fill="#b218a0"/>
<circle cx="421" cy="356.4" r="1.7" fill="#0732f5"/>
<circle cx="389.9" cy="367.5" r="1.7" fill="#10fa3c"/>
<circle cx="404.8" cy="357.6" r="1.7" fill="#10fa3c"/>
<circle cx="365.7" cy="392.2" r="1.7" fill="#b218a0"/>
<circle cx="362.6" cy="387" r="1.7" fill="#b218a0"/>
<circle cx="361.9" cy="387.4" r="1.7" fill="#b218a0"/>
<circle cx="365.8" cy="392.2" r="1.7" fill="#b218a0"/>
<circle cx="365.3" cy="386" r="1.7" fill="#b218a0"/>
<circle cx="362.2" cy="390.6" r="1.7" fill="#b218a0"/>
<circle cx="362.1" cy="390.5" r="1.7" fill="#b218a0"/>
<circle cx="368.7" cy="393" r="1.7" fill="#b218a0"/>
<circle cx="408.5" cy="398.2" r="1.7" fill="#b218a0"/>
<circle cx="386.5" cy="372.4" r="1.7" fill="#10fa3c"/>
<circle cx="372.1" cy="394.5" r="1.7" fill="#b218a0"/>
<circle cx="416.5" cy="378.2" r="1.7" fill="#0732f5"/>
<circle cx="406.4" cy="403.1" r="1.7" fill="#b218a0"/>
<circle cx="430.3" cy="364" r="1.7" fill="#0732f5"/>
<circle cx="383" cy="399.2" r="1.7" fill="#b218a0"/>
<circle cx="397.8" cy="404.5" r="1.7" fill="#b218a0"/>
<circle cx="377.7" cy="397.1" r="1.7" fill="#b218a0"/>
<circle cx="364.8" cy="386.8" r="1.7" fill="#b218a0"/>
<circle cx="408.2" cy="398.8" r="1.7" fill="#b218a0"/>
<circle cx="363.3" cy="387.6" r="1.7" fill="#b218a0"/>
<circle cx="366.5" cy="391.7" r="1.7" fill="#b218a0"/>
<circle cx="368.3" cy="392.4" r="1.7" fill="#b218a0"/>
<circle cx="374.4" cy="381.7" r="1.7" fill="#b218a0"/>
<circle cx="385.5" cy="399.9" r="1.7" fill="#b218a0"/>
<circle cx="365.5" cy="386.8" r="1.7" fill="#b218a0"/>
<circle cx="424.6" cy="359.1" r="1.7" fill="#0732f5"/>
<circle cx="422" cy="377" r="1.7" fill="#0732f5"/>
<circle cx="391.7" cy="401.4" r="1.7" fill="#b218a0"/>
<circle cx="392" cy="366.3" r="1.7" fill="#10fa3c"/>
<circle cx="386.6" cy="373.2" r="1.7" fill="#10fa3c"/>
<circle cx="368.8" cy="392.3" r="1.7" fill="#b218a0"/>
<circle cx="419.4" cy="356.7" r="1.7" fill="#0732f5"/>
<circle cx="386.3" cy="399.8" r="1.7" fill="#b218a0"/>
<circle cx="430" cy="364.2" r="1.7" fill="#0732f5"/>
<circle cx="364" cy="389.5" r="1.7" fill="#b218a0"/>
<circle cx="380" cy="397.8" r="1.7" fill="#b218a0"/>
<circle cx="384.6" cy="375.9" r="1.7" fill="#10fa3c"/>
<circle cx="431.6" cy="368" r="1.7" fill="#0732f5"/>
<circle cx="392" cy="366.8" r="1.7" fill="#10fa3c"/>
<circle cx="401.7" cy="405.4" r="1.7" fill="#b218a0"/>
<circle cx="407.6" cy="399.5" r="1.7" fill="#b218a0"/>
<circle cx="431.6" cy="368.8" r="1.7" fill="#0732f5"/>
<circle cx="412.7" cy="383.4" r="1.7" fill="#000824"/>
<circle cx="408" cy="398.4" r="1.7" fill="#b218a0"/>
<circle cx="367" cy="390.6" r="1.7" fill="#b218a0"/>
<circle cx="373.5" cy="394.5" r="1.7" fill="#b218a0"/>
<circle cx="385.6" cy="375.3" r="1.7" fill="#10fa3c"/>
<circle cx="366.2" cy="389.8" r="1.7" fill="#b218a0"/>
<circle cx="370" cy="392.2" r="1.7" fill="#b218a0"/>
<circle cx="400" cy="360" r="1.7" fill="#10fa3c"/>
<circle cx="417.8" cy="377.1" r="1.7" fill="#0732f5"/>
<circle cx="431.2" cy="370.6" r="1.7" fill="#0732f5"/>
<circle cx="396.3" cy="403" r="1.7" fill="#b218a0"/>
<circle cx="389.5" cy="370.8" r="1.7" fill="#10fa3c"/>
<circle cx="397.3" cy="362.4" r="1.7" fill="#10fa3c"/>
<circle cx="430.9" cy="367.1" r="1.7" fill="#0732f5"/>
<circle cx="389.3" cy="371.2" r="1.7" fill="#10fa3c"/>
<circle cx="419.1" cy="357.1" r="1.7" fill="#0732f5"/>
<circle cx="369.7" cy="385.8" r="1.7" fill="#b218a0"/>
<circle cx="374.6" cy="394.8" r="1.7" fill="#b218a0"/>
<circle cx="403" cy="404.8" r="1.7" fill="#b218a0"/>
<circle cx="401.9" cy="359.2" r="1.7" fill="#10fa3c"/>
<circle cx="389.7" cy="371" r="1.7" fill="#10fa3c"/>
<circle cx="405" cy="403.5" r="1.7" fill="#b218a0"/>
<circle cx="388.1" cy="373.7" r="1.7" fill="#10fa3c"/>
<circle cx="407.6" cy="358.5" r="1.7" fill="#10fa3c"/>
<circle cx="396.8" cy="403" r="1.7" fill="#b218a0"/>
<circle cx="426.3" cy="375.6" r="1.7" fill="#0732f5"/>
<circle cx="375.6" cy="382.2" r="1.7" fill="#b218a0"/>
<circle cx="418" cy="357.3" r="1.7" fill="#0732f5"/>
<circle cx="390.1" cy="399.8" r="1.7" fill="#b218a0"/>
<circle cx="402.8" cy="359.2" r="1.7" fill="#10fa3c"/>
<circle cx="399.6" cy="361" r="1.7" fill="#10fa3c"/>
<circle cx="413.8" cy="357.8" r="1.7" fill="#0732f5"/>
<circle cx="427.8" cy="374.7" r="1.7" fill="#0732f5"/>
<circle cx="390.4" cy="371.1" r="1.7" fill="#10fa3c"/>
<circle cx="378.2" cy="396.2" r="1.7" fill="#b218a0"/>
<circle cx="393.6" cy="366.8" r="1.7" fill="#10fa3c"/>
<circle cx="387.2" cy="398.9" r="1.7" fill="#b218a0"/>
<circle cx="382.6" cy="378.6" r="1.7" fill="#10fa3c"/>
<circle cx="419.9" cy="376.3" r="1.7" fill="#0732f5"/>
<circle cx="420.5" cy="358.2" r="1.7" fill="#0732f5"/>
<circle cx="430.5" cy="370" r="1.7" fill="#0732f5"/>
<circle cx="405.1" cy="358.9" r="1.7" fill="#10fa3c"/>
<circle cx="375.3" cy="394.6" r="1.7" fill="#b218a0"/>
<circle cx="389.5" cy="399.2" r="1.7" fill="#b218a0"/>
<circle cx="391.1" cy="399.7" r="1.7" fill="#b218a0"/>
<circle cx="381.1" cy="397.2" r="1.7" fill="#b218a0"/>
<circle cx="429.4" cy="372.6" r="1.7" fill="#0732f5"/>
<circle cx="394.5" cy="401.3" r="1.7" fill="#b218a0"/>
<circle cx="384.5" cy="377.6" r="1.7" fill="#10fa3c"/>
<circle cx="424.7" cy="361.2" r="1.7" fill="#0732f5"/>
<circle cx="370.5" cy="388.1" r="1.7" fill="#b218a0"/>
<circle cx="405.7" cy="401.6" r="1.7" fill="#b218a0"/>
<circle cx="399.1" cy="362.1" r="1.7" fill="#10fa3c"/>
<circle cx="372.7" cy="384.9" r="1.7" fill="#b218a0"/>
<circle cx="388.9" cy="398.7" r="1.7" fill="#b218a0"/>
<circle cx="375.9" cy="382.8" r="1.7" fill="#b218a0"/>
<circle cx="407.3" cy="359.2" r="1.7" fill="#10fa3c"/>
<circle cx="396.3" cy="402" r="1.7" fill="#b218a0"/>
<circle cx="395.6" cy="401.6" r="1.7" fill="#b218a0"/>
<circle cx="375.4" cy="383.1" r="1.7" fill="#b218a0"/>
<circle cx="395.4" cy="366.1" r="1.7" fill="#10fa3c"/>
<circle cx="425.9" cy="362.7" r="1.7" fill="#0732f5"/>
<circle cx="387.8" cy="376" r="1.7" fill="#10fa3c"/>
<circle cx="429.6" cy="367.9" r="1.7" fill="#0732f5"/>
<circle cx="372.3" cy="391.3" r="1.7" fill="#b218a0"/>
<circle cx="392.2" cy="370.5" r="1.7" fill="#10fa3c"/>
<circle cx="399.9" cy="361.8" r="1.7" fill="#10fa3c"/>
<circle cx="373.3" cy="384.8" r="1.7" fill="#b218a0"/>
<circle cx="395" cy="401" r="1.7" fill="#b218a0"/>
<circle cx="392" cy="371.2" r="1.7" fill="#10fa3c"/>
<circle cx="386.3" cy="397.9" r="1.7" fill="#b218a0"/>
<circle cx="374.4" cy="393.2" r="1.7" fill="#b218a0"/>
<circle cx="375" cy="393.6" r="1.7" fill="#b218a0"/>
<circle cx="408" cy="359.4" r="1.7" fill="#10fa3c"/>
<circle cx="390.7" cy="374.1" r="1.7" fill="#10fa3c"/>
<circle cx="399.5" cy="362.3" r="1.7" fill="#10fa3c"/>
<circle cx="395.2" cy="366.9" r="1.7" fill="#10fa3c"/>
<circle cx="429.5" cy="368.9" r="1.7" fill="#0732f5"/>
<circle cx="402.4" cy="403.4" r="1.7" fill="#b218a0"/>
<circle cx="404.1" cy="359.9" r="1.7" fill="#10fa3c"/>
<circle cx="392" cy="372" r="1.7" fill="#10fa3c"/>
<circle cx="388.1" cy="376.3" r="1.7" fill="#10fa3c"/>
<circle cx="396.6" cy="365.5" r="1.7" fill="#10fa3c"/>
<circle cx="394.3" cy="368.1" r="1.7" fill="#10fa3c"/>
<circle cx="389.3" cy="398.1" r="1.7" fill="#b218a0"/>
<circle cx="373.9" cy="384.8" r="1.7" fill="#b218a0"/>
<circle cx="411.7" cy="384.1" r="1.7" fill="#000824"/>
<circle cx="378.9" cy="395.5" r="1.7" fill="#b218a0"/>
<circle cx="373.7" cy="385.1" r="1.7" fill="#b218a0"/>
<circle cx="399.2" cy="363" r="1.7" fill="#10fa3c"/>
<circle cx="428" cy="365.7" r="1.7" fill="#0732f5"/>
<circle cx="420.3" cy="375.6" r="1.7" fill="#0732f5"/>
<circle cx="413.7" cy="358.9" r="1.7" fill="#0732f5"/>
<circle cx="396.8" cy="365.7" r="1.7" fill="#10fa3c"/>
<circle cx="397.7" cy="364.8" r="1.7" fill="#10fa3c"/>
<circle cx="394" cy="369" r="1.7" fill="#10fa3c"/>
<circle cx="372.3" cy="387.8" r="1.7" fill="#b218a0"/>
<circle cx="390.2" cy="375.6" r="1.7" fill="#10fa3c"/>
<circle cx="372.6" cy="390.2" r="1.7" fill="#b218a0"/>
<circle cx="400.6" cy="402.9" r="1.7" fill="#b218a0"/>
<circle cx="413" cy="359.1" r="1.7" fill="#0732f5"/>
<circle cx="421.5" cy="360.2" r="1.7" fill="#0732f5"/>
<circle cx="402.7" cy="360.7" r="1.7" fill="#10fa3c"/>
<circle cx="372.9" cy="386.6" r="1.7" fill="#b218a0"/>
<circle cx="404.4" cy="401.8" r="1.7" fill="#b218a0"/>
<circle cx="404.2" cy="360.3" r="1.7" fill="#10fa3c"/>
<circle cx="372.9" cy="387.1" r="1.7" fill="#b218a0"/>
<circle cx="393.7" cy="370.1" r="1.7" fill="#10fa3c"/>
<circle cx="380.2" cy="381.3" r="1.7" fill="#b218a0"/>
<circle cx="377.8" cy="382.7" r="1.7" fill="#b218a0"/>
<circle cx="385" cy="378.6" r="1.7" fill="#10fa3c"/>
<circle cx="401.9" cy="361.4" r="1.7" fill="#10fa3c"/>
<circle cx="377.8" cy="382.8" r="1.7" fill="#b218a0"/>
<circle cx="400.1" cy="362.8" r="1.7" fill="#10fa3c"/>
<circle cx="397.7" cy="401.6" r="1.7" fill="#b218a0"/>
<circle cx="402.3" cy="402.6" r="1.7" fill="#b218a0"/>
<circle cx="404.9" cy="400.9" r="1.7" fill="#b218a0"/>
<circle cx="391.1" cy="398" r="1.7" fill="#b218a0"/>
<circle cx="388.6" cy="377" r="1.7" fill="#10fa3c"/>
<circle cx="425.7" cy="364" r="1.7" fill="#0732f5"/>
<circle cx="413.9" cy="359.3" r="1.7" fill="#0732f5"/>
<circle cx="408.4" cy="394.1" r="1.7" fill="#b218a0"/>
<circle cx="403.3" cy="402" r="1.7" fill="#b218a0"/>
<circle cx="421" cy="360.4" r="1.7" fill="#0732f5"/>
<circle cx="422.5" cy="361.5" r="1.7" fill="#0732f5"/>
<circle cx="427.8" cy="367.2" r="1.7" fill="#0732f5"/>
<circle cx="421.9" cy="374.9" r="1.7" fill="#0732f5"/>
<circle cx="425.4" cy="364.1" r="1.7" fill="#0732f5"/>
<circle cx="374.2" cy="386.2" r="1.7" fill="#b218a0"/>
<circle cx="381.5" cy="395.8" r="1.7" fill="#b218a0"/>
<circle cx="418.3" cy="375.1" r="1.7" fill="#0732f5"/>
<circle cx="379.9" cy="395.1" r="1.7" fill="#b218a0"/>
<circle cx="426.8" cy="372.8" r="1.7" fill="#0732f5"/>
<circle cx="427.4" cy="372" r="1.7" fill="#0732f5"/>
<circle cx="379.1" cy="394.6" r="1.7" fill="#b218a0"/>
<circle cx="375.6" cy="392.1" r="1.7" fill="#b218a0"/>
<circle cx="390.1" cy="396.9" r="1.7" fill="#b218a0"/>
<circle cx="427.9" cy="370.3" r="1.7" fill="#0732f5"/>
<circle cx="401.4" cy="402" r="1.7" fill="#b218a0"/>
<circle cx="404.8" cy="361.1" r="1.7" fill="#10fa3c"/>
<circle cx="414.8" cy="376.3" r="1.7" fill="#0732f5"/>
<circle cx="391.3" cy="376.7" r="1.7" fill="#10fa3c"/>
<circle cx="393.1" cy="375" r="1.7" fill="#10fa3c"/>
<circle cx="405.8" cy="398.6" r="1.7" fill="#b218a0"/>
<circle cx="420.8" cy="374.6" r="1.7" fill="#0732f5"/>
<circle cx="383.6" cy="396" r="1.7" fill="#b218a0"/>
<circle cx="382.3" cy="380.9" r="1.7" fill="#b218a0"/>
<circle cx="374.3" cy="389.7" r="1.7" fill="#b218a0"/>
<circle cx="419.9" cy="360.5" r="1.7" fill="#0732f5"/>
<circle cx="382.6" cy="380.7" r="1.7" fill="#b218a0"/>
<circle cx="427.7" cy="370.6" r="1.7" fill="#0732f5"/>
<circle cx="406.2" cy="397.7" r="1.7" fill="#b218a0"/>
<circle cx="396.1" cy="399.9" r="1.7" fill="#b218a0"/>
<circle cx="414.4" cy="376.5" r="1.7" fill="#0732f5"/>
<circle cx="423.8" cy="374.1" r="1.7" fill="#0732f5"/>
<circle cx="387.3" cy="396.2" r="1.7" fill="#b218a0"/>
<circle cx="418.3" cy="360" r="1.7" fill="#0732f5"/>
<circle cx="407.5" cy="395.1" r="1.7" fill="#b218a0"/>
<circle cx="400.6" cy="363.9" r="1.7" fill="#10fa3c"/>
<circle cx="420.4" cy="361.1" r="1.7" fill="#0732f5"/>
<circle cx="403.8" cy="361.8" r="1.7" fill="#10fa3c"/>
<circle cx="374.8" cy="389.9" r="1.7" fill="#b218a0"/>
<circle cx="419.1" cy="360.5" r="1.7" fill="#0732f5"/>
<circle cx="416.7" cy="375" r="1.7" fill="#0732f5"/>
<circle cx="416.4" cy="359.9" r="1.7" fill="#0732f5"/>
<circle cx="406.2" cy="397.2" r="1.7" fill="#b218a0"/>
<circle cx="408.8" cy="361.1" r="1.7" fill="#10fa3c"/>
<circle cx="385.6" cy="395.8" r="1.7" fill="#b218a0"/>
<circle cx="375.6" cy="386.2" r="1.7" fill="#b218a0"/>
<circle cx="381.4" cy="381.8" r="1.7" fill="#b218a0"/>
<circle cx="408.6" cy="392.3" r="1.7" fill="#b218a0"/>
<circle cx="427.1" cy="369.6" r="1.7" fill="#0732f5"/>
<circle cx="402.8" cy="400.8" r="1.7" fill="#b218a0"/>
<circle cx="403.8" cy="362.3" r="1.7" fill="#10fa3c"/>
<circle cx="408.4" cy="392.5" r="1.7" fill="#b218a0"/>
<circle cx="383.8" cy="395.4" r="1.7" fill="#b218a0"/>
<circle cx="412.6" cy="378" r="1.7" fill="#0732f5"/>
<circle cx="424.5" cy="373.2" r="1.7" fill="#0732f5"/>
<circle cx="408.4" cy="392.4" r="1.7" fill="#b218a0"/>
<circle cx="392.3" cy="396.6" r="1.7" fill="#b218a0"/>
<circle cx="406.5" cy="361.8" r="1.7" fill="#10fa3c"/>
<circle cx="418.5" cy="360.8" r="1.7" fill="#0732f5"/>
<circle cx="385" cy="395.4" r="1.7" fill="#b218a0"/>
<circle cx="425.6" cy="372.3" r="1.7" fill="#0732f5"/>
<circle cx="407.7" cy="393.7" r="1.7" fill="#b218a0"/>
<circle cx="403.3" cy="362.9" r="1.7" fill="#10fa3c"/>
<circle cx="422.3" cy="363.2" r="1.7" fill="#0732f5"/>
<circle cx="385.7" cy="379.9" r="1.7" fill="#b218a0"/>
<circle cx="403.8" cy="399.7" r="1.7" fill="#b218a0"/>
<circle cx="426.1" cy="371.5" r="1.7" fill="#0732f5"/>
<circle cx="424.8" cy="372.7" r="1.7" fill="#0732f5"/>
<circle cx="425.6" cy="372" r="1.7" fill="#0732f5"/>
<circle cx="425.9" cy="371.4" r="1.7" fill="#0732f5"/>
<circle cx="375.7" cy="388.6" r="1.7" fill="#b218a0"/>
<circle cx="401.9" cy="400.5" r="1.7" fill="#b218a0"/>
<circle cx="402.2" cy="400.4" r="1.7" fill="#b218a0"/>
<circle cx="401.7" cy="400.4" r="1.7" fill="#b218a0"/>
<circle cx="393.8" cy="397.1" r="1.7" fill="#b218a0"/>
<circle cx="382" cy="382.1" r="1.7" fill="#b218a0"/>
<circle cx="383.6" cy="394.8" r="1.7" fill="#b218a0"/>
<circle cx="376.3" cy="387.1" r="1.7" fill="#b218a0"/>
<circle cx="386.2" cy="394.9" r="1.7" fill="#b218a0"/>
<circle cx="395.3" cy="374.4" r="1.7" fill="#10fa3c"/>
<circle cx="408.6" cy="391.4" r="1.7" fill="#b218a0"/>
<circle cx="396.4" cy="371.1" r="1.7" fill="#10fa3c"/>
<circle cx="376.1" cy="389.2" r="1.7" fill="#b218a0"/>
<circle cx="376.1" cy="388.7" r="1.7" fill="#b218a0"/>
<circle cx="376.3" cy="387.7" r="1.7" fill="#b218a0"/>
<circle cx="412.1" cy="361.5" r="1.7" fill="#0732f5"/>
<circle cx="396.7" cy="398.6" r="1.7" fill="#b218a0"/>
<circle cx="423" cy="372.9" r="1.7" fill="#0732f5"/>
<circle cx="395" cy="375.9" r="1.7" fill="#10fa3c"/>
<circle cx="383.2" cy="381.6" r="1.7" fill="#b218a0"/>
<circle cx="396.7" cy="370.9" r="1.7" fill="#10fa3c"/>
<circle cx="403.3" cy="363.7" r="1.7" fill="#10fa3c"/>
<circle cx="377.6" cy="391.4" r="1.7" fill="#b218a0"/>
<circle cx="395.5" cy="397.7" r="1.7" fill="#b218a0"/>
<circle cx="401.1" cy="365.5" r="1.7" fill="#10fa3c"/>
<circle cx="381.7" cy="394" r="1.7" fill="#b218a0"/>
<circle cx="394.2" cy="396.8" r="1.7" fill="#b218a0"/>
<circle cx="403.8" cy="363.6" r="1.7" fill="#10fa3c"/>
<circle cx="379" cy="392.7" r="1.7" fill="#b218a0"/>
<circle cx="425" cy="367.3" r="1.7" fill="#0732f5"/>
<circle cx="425.6" cy="368.9" r="1.7" fill="#0732f5"/>
<circle cx="378.6" cy="385" r="1.7" fill="#b218a0"/>
<circle cx="395.5" cy="397.6" r="1.7" fill="#b218a0"/>
<circle cx="423.7" cy="372.4" r="1.7" fill="#0732f5"/>
<circle cx="411.9" cy="378" r="1.7" fill="#0732f5"/>
<circle cx="377.2" cy="386.8" r="1.7" fill="#b218a0"/>
<circle cx="412.5" cy="361.8" r="1.7" fill="#0732f5"/>
<circle cx="397.6" cy="398.7" r="1.7" fill="#b218a0"/>
<circle cx="424.1" cy="366.4" r="1.7" fill="#0732f5"/>
<circle cx="413" cy="361.7" r="1.7" fill="#0732f5"/>
<circle cx="386.6" cy="380.4" r="1.7" fill="#b218a0"/>
<circle cx="405.2" cy="396.8" r="1.7" fill="#b218a0"/>
<circle cx="386.3" cy="380.6" r="1.7" fill="#b218a0"/>
<circle cx="408" cy="362.9" r="1.7" fill="#10fa3c"/>
<circle cx="383.3" cy="394.1" r="1.7" fill="#b218a0"/>
<circle cx="419" cy="373.1" r="1.7" fill="#0732f5"/>
<circle cx="423.7" cy="372" r="1.7" fill="#0732f5"/>
<circle cx="421.2" cy="372.8" r="1.7" fill="#0732f5"/>
<circle cx="424.8" cy="368" r="1.7" fill="#0732f5"/>
<circle cx="396.3" cy="373.8" r="1.7" fill="#10fa3c"/>
<circle cx="417.3" cy="361.7" r="1.7" fill="#0732f5"/>
<circle cx="404.8" cy="363.7" r="1.7" fill="#10fa3c"/>
<circle cx="377.2" cy="388.2" r="1.7" fill="#b218a0"/>
<circle cx="406.7" cy="363.3" r="1.7" fill="#10fa3c"/>
<circle cx="407.3" cy="393" r="1.7" fill="#b218a0"/>
<circle cx="384.3" cy="394" r="1.7" fill="#b218a0"/>
<circle cx="422.4" cy="365.1" r="1.7" fill="#0732f5"/>
<circle cx="379.3" cy="392" r="1.7" fill="#b218a0"/>
<circle cx="413.1" cy="375.4" r="1.7" fill="#0732f5"/>
<circle cx="411.3" cy="378.2" r="1.7" fill="#0732f5"/>
<circle cx="414.6" cy="374.1" r="1.7" fill="#0732f5"/>
<circle cx="402.5" cy="398.6" r="1.7" fill="#b218a0"/>
<circle cx="416.4" cy="373.1" r="1.7" fill="#0732f5"/>
<circle cx="412.4" cy="362.5" r="1.7" fill="#0732f5"/>
<circle cx="406.9" cy="393.4" r="1.7" fill="#b218a0"/>
<circle cx="395.3" cy="377.5" r="1.7" fill="#10fa3c"/>
<circle cx="408.2" cy="390.9" r="1.7" fill="#b218a0"/>
<circle cx="396.3" cy="397.1" r="1.7" fill="#b218a0"/>
<circle cx="392.7" cy="394.7" r="1.7" fill="#b218a0"/>
<circle cx="395.8" cy="377" r="1.7" fill="#10fa3c"/>
<circle cx="404.6" cy="396.7" r="1.7" fill="#b218a0"/>
<circle cx="401.4" cy="398.8" r="1.7" fill="#b218a0"/>
<circle cx="398.5" cy="398.3" r="1.7" fill="#b218a0"/>
<circle cx="423.8" cy="367.9" r="1.7" fill="#0732f5"/>
<circle cx="412.9" cy="362.5" r="1.7" fill="#0732f5"/>
<circle cx="419.8" cy="363.6" r="1.7" fill="#0732f5"/>
<circle cx="385.3" cy="393.5" r="1.7" fill="#b218a0"/>
<circle cx="418.3" cy="362.8" r="1.7" fill="#0732f5"/>
<circle cx="406.8" cy="393.5" r="1.7" fill="#b218a0"/>
<circle cx="400.6" cy="398.7" r="1.7" fill="#b218a0"/>
<circle cx="415.2" cy="362.3" r="1.7" fill="#0732f5"/>
<circle cx="390.8" cy="380.2" r="1.7" fill="#b218a0"/>
<circle cx="408.1" cy="390.6" r="1.7" fill="#b218a0"/>
<circle cx="397" cy="374.4" r="1.7" fill="#10fa3c"/>
<circle cx="380.4" cy="392" r="1.7" fill="#b218a0"/>
<circle cx="381.7" cy="392.6" r="1.7" fill="#b218a0"/>
<circle cx="412.4" cy="363" r="1.7" fill="#0732f5"/>
<circle cx="423.7" cy="369.5" r="1.7" fill="#0732f5"/>
<circle cx="414.6" cy="362.6" r="1.7" fill="#0732f5"/>
<circle cx="420" cy="364.2" r="1.7" fill="#0732f5"/>
<circle cx="397.6" cy="372.8" r="1.7" fill="#10fa3c"/>
<circle cx="422.2" cy="366.4" r="1.7" fill="#0732f5"/>
<circle cx="407.9" cy="364.2" r="1.7" fill="#10fa3c"/>
<circle cx="397" cy="375" r="1.7" fill="#10fa3c"/>
<circle cx="389.5" cy="380.7" r="1.7" fill="#b218a0"/>
<circle cx="417.7" cy="372.1" r="1.7" fill="#0732f5"/>
<circle cx="399" cy="370" r="1.7" fill="#10fa3c"/>
<circle cx="380.8" cy="392" r="1.7" fill="#b218a0"/>
<circle cx="399" cy="397.9" r="1.7" fill="#b218a0"/>
<circle cx="405.6" cy="364.9" r="1.7" fill="#10fa3c"/>
<circle cx="389.6" cy="380.8" r="1.7" fill="#b218a0"/>
<circle cx="384.7" cy="393" r="1.7" fill="#b218a0"/>
<circle cx="398" cy="372.1" r="1.7" fill="#10fa3c"/>
<circle cx="422.1" cy="371" r="1.7" fill="#0732f5"/>
<circle cx="417.2" cy="363" r="1.7" fill="#0732f5"/>
<circle cx="398.8" cy="370.5" r="1.7" fill="#10fa3c"/>
<circle cx="422.6" cy="367.6" r="1.7" fill="#0732f5"/>
<circle cx="415" cy="362.9" r="1.7" fill="#0732f5"/>
<circle cx="391.3" cy="393.1" r="1.7" fill="#b218a0"/>
<circle cx="403.6" cy="396.8" r="1.7" fill="#b218a0"/>
<circle cx="399.7" cy="397.9" r="1.7" fill="#b218a0"/>
<circle cx="420.1" cy="371.5" r="1.7" fill="#0732f5"/>
<circle cx="417.7" cy="363.4" r="1.7" fill="#0732f5"/>
<circle cx="382.1" cy="392.3" r="1.7" fill="#b218a0"/>
<circle cx="398.1" cy="372.2" r="1.7" fill="#10fa3c"/>
<circle cx="408.6" cy="388.5" r="1.7" fill="#b218a0"/>
<circle cx="419.1" cy="371.5" r="1.7" fill="#0732f5"/>
<circle cx="400.3" cy="368.8" r="1.7" fill="#10fa3c"/>
<circle cx="417.6" cy="371.7" r="1.7" fill="#0732f5"/>
<circle cx="409.1" cy="386" r="1.7" fill="#b218a0"/>
<circle cx="408" cy="364.8" r="1.7" fill="#10fa3c"/>
<circle cx="406.9" cy="392.4" r="1.7" fill="#b218a0"/>
<circle cx="389.7" cy="392.5" r="1.7" fill="#b218a0"/>
<circle cx="422.4" cy="369" r="1.7" fill="#0732f5"/>
<circle cx="381.8" cy="384.5" r="1.7" fill="#b218a0"/>
<circle cx="414.7" cy="372.5" r="1.7" fill="#0732f5"/>
<circle cx="420.8" cy="370.9" r="1.7" fill="#0732f5"/>
<circle cx="382.2" cy="392" r="1.7" fill="#b218a0"/>
<circle cx="379.4" cy="389.3" r="1.7" fill="#b218a0"/>
<circle cx="380.5" cy="390.9" r="1.7" fill="#b218a0"/>
<circle cx="416.9" cy="371.6" r="1.7" fill="#0732f5"/>
<circle cx="420.6" cy="365.9" r="1.7" fill="#0732f5"/>
<circle cx="395.3" cy="395.1" r="1.7" fill="#b218a0"/>
<circle cx="414.8" cy="363.4" r="1.7" fill="#0732f5"/>
<circle cx="414" cy="372.8" r="1.7" fill="#0732f5"/>
<circle cx="421.8" cy="369.9" r="1.7" fill="#0732f5"/>
<circle cx="422" cy="369.2" r="1.7" fill="#0732f5"/>
<circle cx="379.6" cy="387.8" r="1.7" fill="#b218a0"/>
<circle cx="386.2" cy="392.3" r="1.7" fill="#b218a0"/>
<circle cx="421.8" cy="368.7" r="1.7" fill="#0732f5"/>
<circle cx="399.2" cy="370.9" r="1.7" fill="#10fa3c"/>
<circle cx="407.8" cy="365.3" r="1.7" fill="#10fa3c"/>
<circle cx="379.8" cy="388.6" r="1.7" fill="#b218a0"/>
<circle cx="386.1" cy="382.4" r="1.7" fill="#b218a0"/>
<circle cx="394" cy="393.8" r="1.7" fill="#b218a0"/>
<circle cx="421.3" cy="368.7" r="1.7" fill="#0732f5"/>
<circle cx="421.2" cy="369.1" r="1.7" fill="#0732f5"/>
<circle cx="409.2" cy="382.1" r="1.7" fill="#b218a0"/>
<circle cx="383.9" cy="383.7" r="1.7" fill="#b218a0"/>
<circle cx="382.7" cy="384.5" r="1.7" fill="#b218a0"/>
<circle cx="420.3" cy="369.9" r="1.7" fill="#0732f5"/>
<circle cx="397.2" cy="395.9" r="1.7" fill="#b218a0"/>
<circle cx="401.4" cy="397" r="1.7" fill="#b218a0"/>
<circle cx="414.3" cy="364.1" r="1.7" fill="#0732f5"/>
<circle cx="412.7" cy="364.5" r="1.7" fill="#0732f5"/>
<circle cx="382.1" cy="385" r="1.7" fill="#b218a0"/>
<circle cx="387.8" cy="391.7" r="1.7" fill="#b218a0"/>
<circle cx="394.7" cy="394" r="1.7" fill="#b218a0"/>
<circle cx="414.7" cy="371.5" r="1.7" fill="#0732f5"/>
<circle cx="398.8" cy="372.6" r="1.7" fill="#10fa3c"/>
<circle cx="407" cy="365.9" r="1.7" fill="#10fa3c"/>
<circle cx="416.3" cy="364.3" r="1.7" fill="#0732f5"/>
<circle cx="380.4" cy="387.8" r="1.7" fill="#b218a0"/>
<circle cx="387.3" cy="382.4" r="1.7" fill="#b218a0"/>
<circle cx="409.2" cy="380.7" r="1.7" fill="#b218a0"/>
<circle cx="383.4" cy="384.3" r="1.7" fill="#b218a0"/>
<circle cx="381.1" cy="389.9" r="1.7" fill="#b218a0"/>
<circle cx="412.6" cy="365" r="1.7" fill="#0732f5"/>
<circle cx="408.9" cy="383.1" r="1.7" fill="#b218a0"/>
<circle cx="382.5" cy="385.1" r="1.7" fill="#b218a0"/>
<circle cx="415" cy="364.6" r="1.7" fill="#0732f5"/>
<circle cx="417.4" cy="365.1" r="1.7" fill="#0732f5"/>
<circle cx="383.9" cy="384.2" r="1.7" fill="#b218a0"/>
<circle cx="388.7" cy="382.2" r="1.7" fill="#b218a0"/>
<circle cx="402.4" cy="368.2" r="1.7" fill="#10fa3c"/>
<circle cx="381" cy="389.3" r="1.7" fill="#b218a0"/>
<circle cx="407.1" cy="366.3" r="1.7" fill="#10fa3c"/>
<circle cx="408" cy="388.6" r="1.7" fill="#b218a0"/>
<circle cx="402.6" cy="368.2" r="1.7" fill="#10fa3c"/>
<circle cx="381.7" cy="386.3" r="1.7" fill="#b218a0"/>
<circle cx="415.8" cy="370.2" r="1.7" fill="#0732f5"/>
<circle cx="390.8" cy="391.4" r="1.7" fill="#b218a0"/>
<circle cx="415.2" cy="365" r="1.7" fill="#0732f5"/>
<circle cx="412.3" cy="373.1" r="1.7" fill="#0732f5"/>
<circle cx="399.6" cy="371.8" r="1.7" fill="#10fa3c"/>
<circle cx="408.7" cy="383.7" r="1.7" fill="#b218a0"/>
<circle cx="418.7" cy="369" r="1.7" fill="#0732f5"/>
<circle cx="389" cy="382.3" r="1.7" fill="#b218a0"/>
<circle cx="418.6" cy="366.9" r="1.7" fill="#0732f5"/>
<circle cx="411.4" cy="365.9" r="1.7" fill="#0732f5"/>
<circle cx="384.6" cy="391.1" r="1.7" fill="#b218a0"/>
<circle cx="418.6" cy="368.8" r="1.7" fill="#0732f5"/>
<circle cx="381.7" cy="386.7" r="1.7" fill="#b218a0"/>
<circle cx="408.5" cy="385.1" r="1.7" fill="#b218a0"/>
<circle cx="398.2" cy="377.2" r="1.7" fill="#10fa3c"/>
<circle cx="400.2" cy="371.1" r="1.7" fill="#10fa3c"/>
<circle cx="405.3" cy="367.1" r="1.7" fill="#10fa3c"/>
<circle cx="412.6" cy="365.9" r="1.7" fill="#0732f5"/>
<circle cx="382.8" cy="385.5" r="1.7" fill="#b218a0"/>
<circle cx="407.1" cy="366.8" r="1.7" fill="#10fa3c"/>
<circle cx="412.6" cy="372.2" r="1.7" fill="#0732f5"/>
<circle cx="414.6" cy="365.5" r="1.7" fill="#0732f5"/>
<circle cx="386.5" cy="383.3" r="1.7" fill="#b218a0"/>
<circle cx="411.7" cy="366.2" r="1.7" fill="#0732f5"/>
<circle cx="398.6" cy="376.2" r="1.7" fill="#10fa3c"/>
<circle cx="381.6" cy="388.5" r="1.7" fill="#b218a0"/>
<circle cx="393" cy="391.9" r="1.7" fill="#b218a0"/>
<circle cx="417.7" cy="367.5" r="1.7" fill="#0732f5"/>
<circle cx="389.9" cy="382.4" r="1.7" fill="#b218a0"/>
<circle cx="385.4" cy="390.7" r="1.7" fill="#b218a0"/>
<circle cx="389.2" cy="390.7" r="1.7" fill="#b218a0"/>
<circle cx="411.9" cy="366.6" r="1.7" fill="#0732f5"/>
<circle cx="415" cy="369.3" r="1.7" fill="#0732f5"/>
<circle cx="389.9" cy="382.5" r="1.7" fill="#b218a0"/>
<circle cx="406.7" cy="391" r="1.7" fill="#b218a0"/>
<circle cx="416.8" cy="366.9" r="1.7" fill="#0732f5"/>
<circle cx="417" cy="367.6" r="1.7" fill="#0732f5"/>
<circle cx="415.7" cy="366.5" r="1.7" fill="#0732f5"/>
<circle cx="408.3" cy="385.6" r="1.7" fill="#b218a0"/>
<circle cx="411.7" cy="373" r="1.7" fill="#0732f5"/>
<circle cx="391.5" cy="390.9" r="1.7" fill="#b218a0"/>
<circle cx="414.1" cy="367" r="1.7" fill="#0732f5"/>
<circle cx="412.1" cy="371.8" r="1.7" fill="#0732f5"/>
<circle cx="404.5" cy="368" r="1.7" fill="#10fa3c"/>
<circle cx="413.8" cy="367.3" r="1.7" fill="#0732f5"/>
<circle cx="413.3" cy="369.5" r="1.7" fill="#0732f5"/>
<circle cx="412.6" cy="367.4" r="1.7" fill="#0732f5"/>
<circle cx="399.7" cy="373.5" r="1.7" fill="#10fa3c"/>
<circle cx="413.6" cy="368.1" r="1.7" fill="#0732f5"/>
<circle cx="412.3" cy="367.7" r="1.7" fill="#0732f5"/>
<circle cx="383.1" cy="386.2" r="1.7" fill="#b218a0"/>
<circle cx="386.5" cy="383.9" r="1.7" fill="#b218a0"/>
<circle cx="402.6" cy="395.1" r="1.7" fill="#b218a0"/>
<circle cx="394" cy="381.7" r="1.7" fill="#b218a0"/>
<circle cx="393.2" cy="382" r="1.7" fill="#b218a0"/>
<circle cx="409.1" cy="378.5" r="1.7" fill="#10fa3c"/>
<circle cx="399.3" cy="375.7" r="1.7" fill="#10fa3c"/>
<circle cx="387.2" cy="383.7" r="1.7" fill="#b218a0"/>
<circle cx="390" cy="390.2" r="1.7" fill="#b218a0"/>
<circle cx="386.3" cy="390" r="1.7" fill="#b218a0"/>
<circle cx="388.3" cy="390" r="1.7" fill="#b218a0"/>
<circle cx="384.3" cy="389.7" r="1.7" fill="#b218a0"/>
<circle cx="391.4" cy="382.6" r="1.7" fill="#b218a0"/>
<circle cx="383.4" cy="386.4" r="1.7" fill="#b218a0"/>
<circle cx="402" cy="395.2" r="1.7" fill="#b218a0"/>
<circle cx="406.7" cy="367.8" r="1.7" fill="#10fa3c"/>
<circle cx="407.9" cy="386.8" r="1.7" fill="#b218a0"/>
<circle cx="384.1" cy="389.2" r="1.7" fill="#b218a0"/>
<circle cx="403.6" cy="368.9" r="1.7" fill="#10fa3c"/>
<circle cx="399.6" cy="375.2" r="1.7" fill="#10fa3c"/>
<circle cx="385" cy="385.2" r="1.7" fill="#b218a0"/>
<circle cx="408.2" cy="381.4" r="1.7" fill="#b218a0"/>
<circle cx="393.2" cy="382.4" r="1.7" fill="#b218a0"/>
<circle cx="400.4" cy="395" r="1.7" fill="#b218a0"/>
<circle cx="400.2" cy="373.5" r="1.7" fill="#10fa3c"/>
<circle cx="399.2" cy="394.8" r="1.7" fill="#b218a0"/>
<circle cx="411.2" cy="370.9" r="1.7" fill="#0732f5"/>
<circle cx="400.6" cy="372.4" r="1.7" fill="#10fa3c"/>
<circle cx="395.9" cy="381.2" r="1.7" fill="#b218a0"/>
<circle cx="391.5" cy="383.1" r="1.7" fill="#b218a0"/>
<circle cx="386.9" cy="389.2" r="1.7" fill="#b218a0"/>
<circle cx="384.2" cy="388.2" r="1.7" fill="#b218a0"/>
<circle cx="384.1" cy="387.6" r="1.7" fill="#b218a0"/>
<circle cx="400" cy="374.9" r="1.7" fill="#10fa3c"/>
<circle cx="385.8" cy="385.5" r="1.7" fill="#b218a0"/>
<circle cx="387.8" cy="384.6" r="1.7" fill="#b218a0"/>
<circle cx="403.6" cy="369.6" r="1.7" fill="#10fa3c"/>
<circle cx="407.7" cy="384.6" r="1.7" fill="#b218a0"/>
<circle cx="400.7" cy="373.2" r="1.7" fill="#10fa3c"/>
<circle cx="394.9" cy="382.3" r="1.7" fill="#b218a0"/>
<circle cx="400.6" cy="394.4" r="1.7" fill="#b218a0"/>
<circle cx="407.8" cy="380.7" r="1.7" fill="#b218a0"/>
<circle cx="386" cy="387.5" r="1.7" fill="#b218a0"/>
<circle cx="386.5" cy="386.2" r="1.7" fill="#b218a0"/>
<circle cx="386.2" cy="387.4" r="1.7" fill="#b218a0"/>
<circle cx="386.8" cy="387.8" r="1.7" fill="#b218a0"/>
<circle cx="394" cy="390.6" r="1.7" fill="#b218a0"/>
<circle cx="407.2" cy="369.1" r="1.7" fill="#10fa3c"/>
<circle cx="408.6" cy="369.5" r="1.7" fill="#10fa3c"/>
<circle cx="408.4" cy="377.8" r="1.7" fill="#10fa3c"/>
<circle cx="390.3" cy="384.4" r="1.7" fill="#b218a0"/>
<circle cx="391.1" cy="388.8" r="1.7" fill="#b218a0"/>
<circle cx="407.4" cy="386.3" r="1.7" fill="#b218a0"/>
<circle cx="390.1" cy="384.6" r="1.7" fill="#b218a0"/>
<circle cx="389.4" cy="384.9" r="1.7" fill="#b218a0"/>
<circle cx="389.2" cy="388" r="1.7" fill="#b218a0"/>
<circle cx="393.3" cy="383.4" r="1.7" fill="#b218a0"/>
<circle cx="400.1" cy="394.1" r="1.7" fill="#b218a0"/>
<circle cx="390.1" cy="388.1" r="1.7" fill="#b218a0"/>
<circle cx="407.4" cy="385.8" r="1.7" fill="#b218a0"/>
<circle cx="395" cy="391" r="1.7" fill="#b218a0"/>
<circle cx="388" cy="386.5" r="1.7" fill="#b218a0"/>
<circle cx="403.8" cy="370.1" r="1.7" fill="#10fa3c"/>
<circle cx="407.4" cy="385.2" r="1.7" fill="#b218a0"/>
<circle cx="400.1" cy="378.2" r="1.7" fill="#10fa3c"/>
<circle cx="407.3" cy="384.8" r="1.7" fill="#b218a0"/>
<circle cx="408.9" cy="375.8" r="1.7" fill="#10fa3c"/>
<circle cx="394.1" cy="390.1" r="1.7" fill="#b218a0"/>
<circle cx="409" cy="370.6" r="1.7" fill="#10fa3c"/>
<circle cx="389.3" cy="386.9" r="1.7" fill="#b218a0"/>
<circle cx="393" cy="383.9" r="1.7" fill="#b218a0"/>
<circle cx="409.2" cy="371.1" r="1.7" fill="#10fa3c"/>
<circle cx="397.9" cy="392.8" r="1.7" fill="#b218a0"/>
<circle cx="395.4" cy="382.8" r="1.7" fill="#b218a0"/>
<circle cx="389.9" cy="386.3" r="1.7" fill="#b218a0"/>
<circle cx="405.6" cy="369.8" r="1.7" fill="#10fa3c"/>
<circle cx="390.4" cy="385.7" r="1.7" fill="#b218a0"/>
<circle cx="407.2" cy="385.4" r="1.7" fill="#b218a0"/>
<circle cx="408.9" cy="375.4" r="1.7" fill="#10fa3c"/>
<circle cx="402.4" cy="393.3" r="1.7" fill="#b218a0"/>
<circle cx="398.7" cy="380.6" r="1.7" fill="#b218a0"/>
<circle cx="407.2" cy="380.9" r="1.7" fill="#b218a0"/>
<circle cx="400.2" cy="393.6" r="1.7" fill="#b218a0"/>
<circle cx="404.8" cy="391.4" r="1.7" fill="#b218a0"/>
<circle cx="398.1" cy="392.6" r="1.7" fill="#b218a0"/>
<circle cx="393.1" cy="384.3" r="1.7" fill="#b218a0"/>
<circle cx="394.6" cy="383.5" r="1.7" fill="#b218a0"/>
<circle cx="406.4" cy="388.4" r="1.7" fill="#b218a0"/>
<circle cx="396.4" cy="391.4" r="1.7" fill="#b218a0"/>
<circle cx="409.1" cy="372.7" r="1.7" fill="#10fa3c"/>
<circle cx="391.7" cy="387.3" r="1.7" fill="#b218a0"/>
<circle cx="408.4" cy="375.9" r="1.7" fill="#10fa3c"/>
<circle cx="393.7" cy="389.1" r="1.7" fill="#b218a0"/>
<circle cx="406.8" cy="386.7" r="1.7" fill="#b218a0"/>
<circle cx="395.8" cy="390.8" r="1.7" fill="#b218a0"/>
<circle cx="396.6" cy="391.4" r="1.7" fill="#b218a0"/>
<circle cx="399" cy="392.9" r="1.7" fill="#b218a0"/>
<circle cx="406.7" cy="387.3" r="1.7" fill="#b218a0"/>
<circle cx="403" cy="371.8" r="1.7" fill="#10fa3c"/>
<circle cx="408.9" cy="373.4" r="1.7" fill="#10fa3c"/>
<circle cx="406.9" cy="380.8" r="1.7" fill="#b218a0"/>
<circle cx="400.9" cy="378.3" r="1.7" fill="#10fa3c"/>
<circle cx="408.4" cy="375.1" r="1.7" fill="#10fa3c"/>
<circle cx="407.7" cy="377" r="1.7" fill="#10fa3c"/>
<circle cx="393.3" cy="388.1" r="1.7" fill="#b218a0"/>
<circle cx="397.8" cy="382" r="1.7" fill="#b218a0"/>
<circle cx="408.3" cy="372.1" r="1.7" fill="#10fa3c"/>
<circle cx="403.4" cy="371.8" r="1.7" fill="#10fa3c"/>
<circle cx="405.3" cy="370.8" r="1.7" fill="#10fa3c"/>
<circle cx="399.6" cy="392.7" r="1.7" fill="#b218a0"/>
<circle cx="407.9" cy="376" r="1.7" fill="#10fa3c"/>
<circle cx="394.4" cy="384.6" r="1.7" fill="#b218a0"/>
<circle cx="401.7" cy="377.3" r="1.7" fill="#10fa3c"/>
<circle cx="404.3" cy="371.3" r="1.7" fill="#10fa3c"/>
<circle cx="403.3" cy="372.2" r="1.7" fill="#10fa3c"/>
<circle cx="408.2" cy="373.4" r="1.7" fill="#10fa3c"/>
<circle cx="407.9" cy="375.2" r="1.7" fill="#10fa3c"/>
<circle cx="405.1" cy="371.4" r="1.7" fill="#10fa3c"/>
<circle cx="404.3" cy="390.9" r="1.7" fill="#b218a0"/>
<circle cx="407.7" cy="375.6" r="1.7" fill="#10fa3c"/>
<circle cx="407.8" cy="375.2" r="1.7" fill="#10fa3c"/>
<circle cx="394.9" cy="384.8" r="1.7" fill="#b218a0"/>
<circle cx="404" cy="372.1" r="1.7" fill="#10fa3c"/>
<circle cx="397.2" cy="383.1" r="1.7" fill="#b218a0"/>
<circle cx="404.9" cy="371.6" r="1.7" fill="#10fa3c"/>
<circle cx="399.9" cy="392.2" r="1.7" fill="#b218a0"/>
<circle cx="400.7" cy="392.4" r="1.7" fill="#b218a0"/>
<circle cx="406.4" cy="385.9" r="1.7" fill="#b218a0"/>
<circle cx="396.4" cy="389.9" r="1.7" fill="#b218a0"/>
<circle cx="398.1" cy="382.5" r="1.7" fill="#b218a0"/>
<circle cx="406" cy="387.4" r="1.7" fill="#b218a0"/>
<circle cx="400.4" cy="380.7" r="1.7" fill="#b218a0"/>
<circle cx="394.7" cy="385.3" r="1.7" fill="#b218a0"/>
<circle cx="394.3" cy="386.3" r="1.7" fill="#b218a0"/>
<circle cx="406" cy="380.1" r="1.7" fill="#b218a0"/>
<circle cx="394.5" cy="386.8" r="1.7" fill="#b218a0"/>
<circle cx="406.2" cy="386" r="1.7" fill="#b218a0"/>
<circle cx="394.5" cy="386.6" r="1.7" fill="#b218a0"/>
<circle cx="402.6" cy="376.1" r="1.7" fill="#10fa3c"/>
<circle cx="406" cy="371.9" r="1.7" fill="#10fa3c"/>
<circle cx="401.9" cy="392" r="1.7" fill="#b218a0"/>
<circle cx="405.7" cy="388.2" r="1.7" fill="#b218a0"/>
<circle cx="396.8" cy="383.8" r="1.7" fill="#b218a0"/>
<circle cx="404.6" cy="390.1" r="1.7" fill="#b218a0"/>
<circle cx="397.4" cy="390.4" r="1.7" fill="#b218a0"/>
<circle cx="404.3" cy="372.5" r="1.7" fill="#10fa3c"/>
<circle cx="407.2" cy="375.2" r="1.7" fill="#10fa3c"/>
<circle cx="398.5" cy="391.1" r="1.7" fill="#b218a0"/>
<circle cx="407.2" cy="374" r="1.7" fill="#10fa3c"/>
<circle cx="405.8" cy="381.7" r="1.7" fill="#b218a0"/>
<circle cx="403.7" cy="373.6" r="1.7" fill="#10fa3c"/>
<circle cx="402.4" cy="391.6" r="1.7" fill="#b218a0"/>
<circle cx="395.7" cy="385.3" r="1.7" fill="#b218a0"/>
<circle cx="406.6" cy="372.9" r="1.7" fill="#10fa3c"/>
<circle cx="403.3" cy="375.2" r="1.7" fill="#10fa3c"/>
<circle cx="401.6" cy="391.7" r="1.7" fill="#b218a0"/>
<circle cx="406.8" cy="374" r="1.7" fill="#10fa3c"/>
<circle cx="405.3" cy="380.6" r="1.7" fill="#b218a0"/>
<circle cx="406.6" cy="374.9" r="1.7" fill="#10fa3c"/>
<circle cx="401.8" cy="380.5" r="1.7" fill="#b218a0"/>
<circle cx="406.5" cy="375.4" r="1.7" fill="#10fa3c"/>
<circle cx="405.6" cy="377.2" r="1.7" fill="#10fa3c"/>
<circle cx="405.1" cy="380.6" r="1.7" fill="#b218a0"/>
<circle cx="403.7" cy="377.3" r="1.7" fill="#10fa3c"/>
<circle cx="404.7" cy="389.2" r="1.7" fill="#b218a0"/>
<circle cx="405.1" cy="380.9" r="1.7" fill="#b218a0"/>
<circle cx="396.7" cy="388.9" r="1.7" fill="#b218a0"/>
<circle cx="404.5" cy="373.7" r="1.7" fill="#10fa3c"/>
<circle cx="398.8" cy="383" r="1.7" fill="#b218a0"/>
<circle cx="406.4" cy="374.3" r="1.7" fill="#10fa3c"/>
<circle cx="396.5" cy="384.9" r="1.7" fill="#b218a0"/>
<circle cx="405.6" cy="383.2" r="1.7" fill="#b218a0"/>
<circle cx="406.2" cy="375.5" r="1.7" fill="#10fa3c"/>
<circle cx="404.3" cy="377.3" r="1.7" fill="#10fa3c"/>
<circle cx="399.9" cy="382.3" r="1.7" fill="#b218a0"/>
<circle cx="397.3" cy="389.4" r="1.7" fill="#b218a0"/>
<circle cx="403.6" cy="390.4" r="1.7" fill="#b218a0"/>
<circle cx="405" cy="381.3" r="1.7" fill="#b218a0"/>
<circle cx="405.7" cy="375.7" r="1.7" fill="#10fa3c"/>
<circle cx="400.6" cy="381.9" r="1.7" fill="#b218a0"/>
<circle cx="396.2" cy="387.5" r="1.7" fill="#b218a0"/>
<circle cx="404.9" cy="374.4" r="1.7" fill="#10fa3c"/>
<circle cx="405.2" cy="374.3" r="1.7" fill="#10fa3c"/>
<circle cx="405.1" cy="375.6" r="1.7" fill="#10fa3c"/>
<circle cx="398.2" cy="383.8" r="1.7" fill="#b218a0"/>
<circle cx="396.4" cy="387.6" r="1.7" fill="#b218a0"/>
<circle cx="400.6" cy="391" r="1.7" fill="#b218a0"/>
<circle cx="401.3" cy="381.7" r="1.7" fill="#b218a0"/>
<circle cx="405.3" cy="384" r="1.7" fill="#b218a0"/>
<circle cx="397.1" cy="385.4" r="1.7" fill="#b218a0"/>
<circle cx="397.8" cy="389.1" r="1.7" fill="#b218a0"/>
<circle cx="404.3" cy="389" r="1.7" fill="#b218a0"/>
<circle cx="403.3" cy="381.2" r="1.7" fill="#b218a0"/>
<circle cx="403.1" cy="390.1" r="1.7" fill="#b218a0"/>
<circle cx="400.1" cy="390.6" r="1.7" fill="#b218a0"/>
<circle cx="404.4" cy="388.7" r="1.7" fill="#b218a0"/>
<circle cx="402.3" cy="381.8" r="1.7" fill="#b218a0"/>
<circle cx="398.1" cy="384.9" r="1.7" fill="#b218a0"/>
<circle cx="403.3" cy="389.6" r="1.7" fill="#b218a0"/>
<circle cx="398.2" cy="385.1" r="1.7" fill="#b218a0"/>
<circle cx="402.8" cy="389.6" r="1.7" fill="#b218a0"/>
<circle cx="400.5" cy="383.4" r="1.7" fill="#b218a0"/>
<circle cx="403.4" cy="382.7" r="1.7" fill="#b218a0"/>
<circle cx="399" cy="384.8" r="1.7" fill="#b218a0"/>
<circle cx="404.5" cy="384.6" r="1.7" fill="#b218a0"/>
<circle cx="398.4" cy="386.3" r="1.7" fill="#b218a0"/>
<circle cx="401.9" cy="383.2" r="1.7" fill="#b218a0"/>
<circle cx="402.7" cy="383.3" r="1.7" fill="#b218a0"/>
<circle cx="401.7" cy="389.4" r="1.7" fill="#b218a0"/>
<circle cx="400.3" cy="389.1" r="1.7" fill="#b218a0"/>
<circle cx="403.8" cy="384.1" r="1.7" fill="#b218a0"/>
<circle cx="403.9" cy="387.4" r="1.7" fill="#b218a0"/>
<circle cx="401.3" cy="383.9" r="1.7" fill="#b218a0"/>
<circle cx="404.1" cy="386" r="1.7" fill="#b218a0"/>
<circle cx="401.4" cy="383.9" r="1.7" fill="#b218a0"/>
<circle cx="403.8" cy="386.3" r="1.7" fill="#b218a0"/>
<circle cx="401" cy="384.9" r="1.7" fill="#b218a0"/>
<circle cx="403.4" cy="385.5" r="1.7" fill="#b218a0"/>
<circle cx="402.8" cy="387.3" r="1.7" fill="#b218a0"/>
<circle cx="400.7" cy="387.2" r="1.7" fill="#b218a0"/>
<circle cx="401.9" cy="387.4" r="1.7" fill="#b218a0"/>
<circle cx="402.4" cy="386" r="1.7" fill="#b218a0"/>
<circle cx="402.1" cy="386.9" r="1.7" fill="#b218a0"/>
</g>
<!-- regression & CI lines -->
<g fill="none" stroke-linecap="round">
<path d="M67 384.7 L300 388 L360 386 L390.2 380.7 L401 376.5 L410.4 370.3 L421.2 366.4 L432.1 361.7 L439.9 356.3 L450 347.8 L457 335 L464.2 317 L475 298 L480.5 287" stroke="#e04848" stroke-width="0.6"/>
<line x1="120" y1="427.5" x2="473.7" y2="355.6" stroke="#1c1c1c" stroke-width="1.35"/>
<line x1="50" y1="401.5" x2="78.6" y2="385.3" stroke="#8c8c8c" stroke-width="0.8"/>
<line x1="117.5" y1="446" x2="139" y2="425" stroke="#8c8c8c" stroke-width="0.8"/>
<line x1="144" y1="375.5" x2="144" y2="381" stroke="#9a9a9a" stroke-width="0.7"/>
</g>
<g stroke="#222" stroke-width="1.1" fill="none">
<path d="M68 479.2 H485.7 V263"/>
<path d="M144 479v-3.5M232.5 479v-3.5M321.3 479v-3.5M410 479v-3.5"/>
<path d="M485.7 287.5h-4M485.7 318h-4M485.7 348.7h-4M485.7 379.3h-4M485.7 409.8h-4M485.7 440.3h-4M485.7 470.8h-4"/>
</g>
<g font-size="14" text-anchor="middle">
<text x="144" y="494.3">−75</text><text x="232.5" y="494.3">−50</text><text x="321.3" y="494.3">−25</text><text x="410" y="494.3">0</text>
</g>
<g font-size="14">
<text x="494" y="292.5">15</text><text x="494" y="323">10</text><text x="495.5" y="353.7">5</text><text x="495.5" y="384.3">0</text>
<text x="487.4" y="414.8">−5</text><text x="487.4" y="445.3">−10</text><text x="487.4" y="475.8">−15</text>
</g>
<text x="301.5" y="507" font-size="14" text-anchor="middle" class="sb" textLength="175" lengthAdjust="spacingAndGlyphs">Deformation Rate (mm/yr)</text>
<text transform="translate(517.5,376.5) rotate(90)" font-size="14.5" text-anchor="middle" class="sb" textLength="219" lengthAdjust="spacingAndGlyphs">Groundwater level change (m/yr)</text>
<text x="493.4" y="502.6" font-size="19" class="b" text-anchor="middle">(d)</text>
<text x="490.6" y="64" font-size="18" class="b" text-anchor="middle">(c)</text>
<text x="37.5" y="144" font-size="18" class="b" text-anchor="middle">(a)</text>
<text x="37.5" y="298.5" font-size="18" class="b" text-anchor="middle">(b)</text>
<!-- formula labels -->
<text x="19" y="410" font-size="14" class="i">f2(x)=6.58e<tspan font-size="8" dy="-6">0.041x</tspan><tspan dy="6">-4.49e</tspan><tspan font-size="8" dy="-6">0.047x</tspan></text>
<text x="106.5" y="456" font-size="14" class="i" textLength="115" lengthAdjust="spacingAndGlyphs">f1(x)=0.138x+3.23</text>
<text x="71.6" y="372" font-size="6.8" class="i" textLength="87.5" lengthAdjust="spacingAndGlyphs" style="fill:#333">Confidence interval (95%)</text>
<!-- legends (a) -->
<text x="14.9" y="43.6" font-size="14" class="b" textLength="55.6" lengthAdjust="spacingAndGlyphs">Def. rate</text>
<text x="14.9" y="55.5" font-size="14" class="b" textLength="53.3" lengthAdjust="spacingAndGlyphs">(mm/yr)</text>
<rect x="20.9" y="66" width="38.2" height="8.5" fill="url(#gjet)"/>
<text x="11.3" y="86.4" font-size="10.5" textLength="19.6" lengthAdjust="spacingAndGlyphs">+30</text><text x="45" y="86.4" font-size="10.5" textLength="27.4" lengthAdjust="spacingAndGlyphs">−100</text>
<!-- legends (b) -->
<text x="14.9" y="194.6" font-size="14" class="b" textLength="74.2" lengthAdjust="spacingAndGlyphs">Water level</text>
<text x="14.9" y="207.4" font-size="14" class="b" textLength="46" lengthAdjust="spacingAndGlyphs">change</text>
<text x="14.9" y="220.1" font-size="14" class="b" textLength="39.6" lengthAdjust="spacingAndGlyphs">(m/yr)</text>
<rect x="20.9" y="230.1" width="38.2" height="7.6" fill="url(#gcw)"/>
<text x="11.3" y="248.6" font-size="10.5" textLength="19.6" lengthAdjust="spacingAndGlyphs">+10</text><text x="51.8" y="248.6" font-size="10.5" textLength="19.1" lengthAdjust="spacingAndGlyphs">−10</text>
<circle cx="156.5" cy="333.5" r="1.5" fill="#000"/>
<text x="164.5" y="337.3" font-size="10.5">Wells</text>
<path d="M48.2 342.5V346H78.5V342.5" fill="none" stroke="#444" stroke-width="0.9"/>
<text x="63.4" y="341.3" font-size="9.8" text-anchor="middle">20km</text>
<!-- faults / BJ Plain legend -->
<line x1="215.5" y1="131.4" x2="234.5" y2="131.4" stroke="#e00a0a" stroke-width="1.5"/>
<text x="239.8" y="135.6" font-size="11.3">Faults</text>
<rect x="215" y="141" width="19" height="6.2" fill="#fff" stroke="#c6c6c6" stroke-width="1.1"/>
<text x="239.8" y="148.6" font-size="11.3">BJ Plain</text>
<!-- legend (c) -->
<circle cx="486.2" cy="152.8" r="2.2" fill="#0a64f0"/><circle cx="486.2" cy="166.8" r="2.2" fill="#19f5c8"/><circle cx="486.2" cy="180.8" r="2.2" fill="#ff14c8"/>
<path d="M484.3 197.2h3.8l-1.9-3.8z" fill="#111"/>
<g font-size="11.5" class="b i" stroke="#9a9a9a" stroke-width="0.3">
<text x="493" y="157" style="fill:#9a9a9a">Q1</text><text x="493" y="171" style="fill:#9a9a9a">Q2</text><text x="493" y="185" style="fill:#9a9a9a">Q3</text><text x="493" y="199.3" style="fill:#9a9a9a">Q4</text>
</g>
<path d="M380.1 253V258.6H425.6V253" fill="none" stroke="#333" stroke-width="0.9"/>
<text x="402.8" y="255.6" font-size="9.8" text-anchor="middle">20 km</text>
<!-- north arrow -->
<text x="529.2" y="24.6" font-size="8.4" class="b" text-anchor="middle">N</text>
<path d="M529.1 27.5L535.1 47.7L529.1 41.4Z" fill="#fff" stroke="#111" stroke-width="0.7" stroke-linejoin="miter"/>
<path d="M529.1 27.5L523 47.7L529.1 41.4Z" fill="#111" stroke="#111" stroke-width="0.7"/>
</svg></body></html>
